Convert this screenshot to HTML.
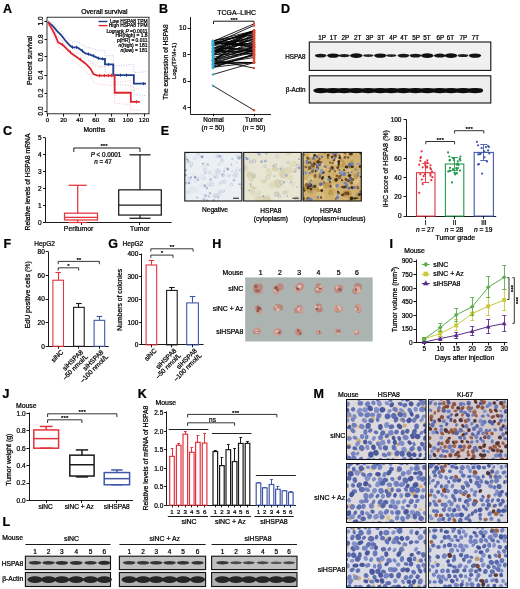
<!DOCTYPE html>
<html><head><meta charset="utf-8"><title>Figure</title>
<style>
html,body{margin:0;padding:0;background:#fff;width:520px;height:589px;overflow:hidden}
svg{display:block}
text{font-family:"Liberation Sans",Arial,sans-serif;stroke:#000;stroke-width:0.24px;stroke-linejoin:round}
</style></head><body>
<svg width="520" height="589" viewBox="0 0 520 589">
<rect width="520" height="589" fill="#fff"/>
<text x="3" y="12.5" font-size="12.5" font-weight="bold">A</text>
<text x="104.4" y="14.35" font-size="6.8" text-anchor="middle">Overall survival</text>
<rect x="47" y="17.2" width="102" height="96.6" fill="none" stroke="#000" stroke-width="0.8"/>
<line x1="44.5" y1="111.5" x2="47" y2="111.5" stroke="#000" stroke-width="0.9"/>
<text transform="translate(40.6,111) rotate(-90)" x="0" y="2.27" font-size="6.3" text-anchor="middle">0.0</text>
<line x1="44.5" y1="93.5" x2="47" y2="93.5" stroke="#000" stroke-width="0.9"/>
<text transform="translate(40.6,93) rotate(-90)" x="0" y="2.27" font-size="6.3" text-anchor="middle">0.2</text>
<line x1="44.5" y1="75.5" x2="47" y2="75.5" stroke="#000" stroke-width="0.9"/>
<text transform="translate(40.6,75) rotate(-90)" x="0" y="2.27" font-size="6.3" text-anchor="middle">0.4</text>
<line x1="44.5" y1="56.5" x2="47" y2="56.5" stroke="#000" stroke-width="0.9"/>
<text transform="translate(40.6,57) rotate(-90)" x="0" y="2.27" font-size="6.3" text-anchor="middle">0.6</text>
<line x1="44.5" y1="39.5" x2="47" y2="39.5" stroke="#000" stroke-width="0.9"/>
<text transform="translate(40.6,39) rotate(-90)" x="0" y="2.27" font-size="6.3" text-anchor="middle">0.8</text>
<line x1="44.5" y1="21.5" x2="47" y2="21.5" stroke="#000" stroke-width="0.9"/>
<text transform="translate(40.6,21) rotate(-90)" x="0" y="2.27" font-size="6.3" text-anchor="middle">1.0</text>
<line x1="47.5" y1="113.8" x2="47.5" y2="116.5" stroke="#000" stroke-width="0.9"/>
<text x="47.5" y="122.43" font-size="6.2" text-anchor="middle">0</text>
<line x1="63.5" y1="113.8" x2="63.5" y2="116.5" stroke="#000" stroke-width="0.9"/>
<text x="63.58" y="122.43" font-size="6.2" text-anchor="middle">20</text>
<line x1="79.5" y1="113.8" x2="79.5" y2="116.5" stroke="#000" stroke-width="0.9"/>
<text x="79.67" y="122.43" font-size="6.2" text-anchor="middle">40</text>
<line x1="95.5" y1="113.8" x2="95.5" y2="116.5" stroke="#000" stroke-width="0.9"/>
<text x="95.75" y="122.43" font-size="6.2" text-anchor="middle">60</text>
<line x1="111.5" y1="113.8" x2="111.5" y2="116.5" stroke="#000" stroke-width="0.9"/>
<text x="111.83" y="122.43" font-size="6.2" text-anchor="middle">80</text>
<line x1="127.5" y1="113.8" x2="127.5" y2="116.5" stroke="#000" stroke-width="0.9"/>
<text x="127.92" y="122.43" font-size="6.2" text-anchor="middle">100</text>
<line x1="144.5" y1="113.8" x2="144.5" y2="116.5" stroke="#000" stroke-width="0.9"/>
<text x="144" y="122.43" font-size="6.2" text-anchor="middle">120</text>
<text x="94.5" y="131.91" font-size="6.7" text-anchor="middle">Months</text>
<text transform="translate(29.2,60.5) rotate(-90)" x="0" y="2.48" font-size="6.9" text-anchor="middle">Percent survival</text>
<polyline points="48.03,20.6 53.08,22.5 57.12,27.19 61.16,30.86 65.19,35.55 69.23,39.83 72.26,41.98 77.31,41.52 81.35,44.19 85.39,46.86 89.43,47.5 94.47,49.07 98.51,50.72 103.56,50.87 104.98,50.75 104.98,56.2 113.26,55.45 113.26,66.16 133.85,64.3 133.85,72.78 145.97,71.69" fill="none" stroke="#8898d4" stroke-width="0.6" stroke-dasharray="0.9,1.6"/>
<polyline points="48.03,25.22 53.08,29.71 57.12,35.12 61.16,39.53 65.19,44.94 69.23,49.95 72.26,52.64 77.31,53.1 81.35,56.49 85.39,59.88 89.43,61.25 94.47,63.73 98.51,66.11 103.56,67.17 104.98,67.3 104.98,72.75 113.26,73.5 113.26,84.2 133.85,86.05 133.85,94.53 145.97,95.62" fill="none" stroke="#8898d4" stroke-width="0.6" stroke-dasharray="0.9,1.6"/>
<polyline points="48.03,20.6 52.07,25.55 55.1,31.28 58.13,38.02 63.17,40.51 67.21,44.11 71.25,47.71 77.31,51.09 85.39,56.28 90.44,60.78 93.47,65.91 97.5,67.09 114.67,65.23 114.67,82.4 130.82,80.65 130.82,89.74 139.91,88.76" fill="none" stroke="#f29090" stroke-width="0.6" stroke-dasharray="0.9,1.6"/>
<polyline points="48.03,25.22 52.07,32.72 55.1,39.11 58.13,46.5 63.17,50.08 67.21,54.55 71.25,59.03 77.31,63.72 85.39,70.65 90.44,76.24 93.47,82.02 97.5,84.07 114.67,85.93 114.67,103.09 130.82,104.84 130.82,110.3 139.91,110.3" fill="none" stroke="#f29090" stroke-width="0.6" stroke-dasharray="0.9,1.6"/>
<polyline points="48.03,22.07 53.08,26.11 57.12,31.16 61.16,35.19 65.19,40.24 69.23,44.89 72.26,47.31 77.31,47.31 81.35,50.34 85.39,53.37 89.43,54.38 94.47,56.4 98.51,58.42 103.56,59.02 104.98,59.02 104.98,64.47 113.26,64.47 113.26,75.18 133.85,75.18 133.85,83.66 145.97,83.66" fill="none" stroke="#1f3f8f" stroke-width="1.8"/>
<line x1="72.5" y1="45.5" x2="72.5" y2="48.7" stroke="#1f3f8f" stroke-width="0.9"/>
<line x1="76.5" y1="45.71" x2="76.5" y2="48.91" stroke="#1f3f8f" stroke-width="0.9"/>
<line x1="82.5" y1="49.23" x2="82.5" y2="52.43" stroke="#1f3f8f" stroke-width="0.9"/>
<line x1="88.5" y1="52.42" x2="88.5" y2="55.62" stroke="#1f3f8f" stroke-width="0.9"/>
<line x1="93.5" y1="54.21" x2="93.5" y2="57.41" stroke="#1f3f8f" stroke-width="0.9"/>
<line x1="98.5" y1="56.56" x2="98.5" y2="59.76" stroke="#1f3f8f" stroke-width="0.9"/>
<line x1="102.5" y1="57.24" x2="102.5" y2="60.44" stroke="#1f3f8f" stroke-width="0.9"/>
<line x1="108.5" y1="62.87" x2="108.5" y2="66.07" stroke="#1f3f8f" stroke-width="0.9"/>
<line x1="120.5" y1="73.58" x2="120.5" y2="76.78" stroke="#1f3f8f" stroke-width="0.9"/>
<line x1="126.5" y1="73.58" x2="126.5" y2="76.78" stroke="#1f3f8f" stroke-width="0.9"/>
<line x1="143.5" y1="82.06" x2="143.5" y2="85.26" stroke="#1f3f8f" stroke-width="0.9"/>
<polyline points="48.03,22.07 52.07,29.14 55.1,35.19 58.13,42.26 63.17,45.29 67.21,49.33 71.25,53.37 77.31,57.41 85.39,63.47 90.44,68.51 93.47,73.97 97.5,75.58 114.67,75.58 114.67,92.75 130.82,92.75 130.82,101.83 139.91,101.83" fill="none" stroke="#e0242f" stroke-width="1.8"/>
<line x1="62.5" y1="42.99" x2="62.5" y2="46.19" stroke="#e0242f" stroke-width="0.9"/>
<line x1="70.5" y1="50.52" x2="70.5" y2="53.72" stroke="#e0242f" stroke-width="0.9"/>
<line x1="80.5" y1="57.82" x2="80.5" y2="61.02" stroke="#e0242f" stroke-width="0.9"/>
<line x1="99.5" y1="73.98" x2="99.5" y2="77.18" stroke="#e0242f" stroke-width="0.9"/>
<line x1="104.5" y1="73.98" x2="104.5" y2="77.18" stroke="#e0242f" stroke-width="0.9"/>
<line x1="108.5" y1="73.98" x2="108.5" y2="77.18" stroke="#e0242f" stroke-width="0.9"/>
<line x1="111.5" y1="73.98" x2="111.5" y2="77.18" stroke="#e0242f" stroke-width="0.9"/>
<line x1="136.5" y1="100.23" x2="136.5" y2="103.43" stroke="#e0242f" stroke-width="0.9"/>
<line x1="98.5" y1="21.5" x2="107.5" y2="21.5" stroke="#1f3f8f" stroke-width="1.4"/>
<line x1="98.5" y1="25.6" x2="107.5" y2="25.6" stroke="#e0242f" stroke-width="1.4"/>
<text x="147.5" y="23.36" font-size="4.9" text-anchor="end">Low HSPA8 TPM</text>
<text x="147.5" y="27.46" font-size="4.9" text-anchor="end">High HSPA8 TPM</text>
<text x="147.5" y="32.56" font-size="4.9" text-anchor="end">Logrank <tspan font-style="italic">P</tspan> =0.0011</text>
<text x="147.5" y="37.36" font-size="4.9" text-anchor="end">HR(high) = 1.8</text>
<text x="147.5" y="42.26" font-size="4.9" text-anchor="end">p(HR) = 0.011</text>
<text x="147.5" y="47.26" font-size="4.9" text-anchor="end"><tspan font-style="italic">n</tspan>(high) = 181</text>
<text x="147.5" y="52.16" font-size="4.9" text-anchor="end"><tspan font-style="italic">n</tspan>(low) = 181</text>
<text x="159" y="12.5" font-size="12.5" font-weight="bold">B</text>
<text x="236.7" y="14.68" font-size="6.9" text-anchor="middle" stroke-width="0.3">TCGA–LIHC</text>
<polyline points="213.5,24 213.5,21.2 254,21.2 254,24" fill="none" stroke="#000" stroke-width="0.9"/>
<text x="234" y="21.73" font-size="6.2" text-anchor="middle" stroke-width="0.35">***</text>
<line x1="190.5" y1="17" x2="190.5" y2="113.8" stroke="#000" stroke-width="0.9"/>
<line x1="190.2" y1="114.5" x2="271" y2="114.5" stroke="#000" stroke-width="0.9"/>
<line x1="187.5" y1="107.5" x2="190.2" y2="107.5" stroke="#000" stroke-width="0.9"/>
<text x="186.3" y="109.94" font-size="6.5" text-anchor="end">4</text>
<line x1="187.5" y1="81.5" x2="190.2" y2="81.5" stroke="#000" stroke-width="0.9"/>
<text x="186.3" y="83.44" font-size="6.5" text-anchor="end">6</text>
<line x1="187.5" y1="54.5" x2="190.2" y2="54.5" stroke="#000" stroke-width="0.9"/>
<text x="186.3" y="56.94" font-size="6.5" text-anchor="end">8</text>
<line x1="187.5" y1="28.5" x2="190.2" y2="28.5" stroke="#000" stroke-width="0.9"/>
<text x="186.3" y="30.44" font-size="6.5" text-anchor="end">10</text>
<line x1="213.5" y1="113.8" x2="213.5" y2="116.3" stroke="#000" stroke-width="0.9"/>
<line x1="254.5" y1="113.8" x2="254.5" y2="116.3" stroke="#000" stroke-width="0.9"/>
<text x="213.5" y="121.97" font-size="6.3" text-anchor="middle">Normal</text>
<text x="254" y="121.97" font-size="6.3" text-anchor="middle">Tumor</text>
<text x="213" y="130.48" font-size="6.6" text-anchor="middle">(<tspan font-style="italic">n</tspan> = 50)</text>
<text x="254" y="130.48" font-size="6.6" text-anchor="middle">(<tspan font-style="italic">n</tspan> = 50)</text>
<text transform="translate(165.2,62) rotate(-90)" x="0" y="2.38" font-size="6.6" text-anchor="middle">The expression of HSPA8</text>
<text transform="translate(173.4,61) rotate(-90)" x="0" y="2.2" font-size="6.1" text-anchor="middle">Log<tspan font-size="4.3" dy="1.5">2</tspan><tspan dy="-1.5">(TPM+1)</tspan></text>
<line x1="213" y1="61.89" x2="254" y2="62.55" stroke="#000" stroke-width="0.85"/>
<line x1="213" y1="51.71" x2="254" y2="47.04" stroke="#000" stroke-width="0.85"/>
<line x1="213" y1="51.1" x2="254" y2="42.33" stroke="#000" stroke-width="0.85"/>
<line x1="213" y1="45.21" x2="254" y2="37.27" stroke="#000" stroke-width="0.85"/>
<line x1="213" y1="61.3" x2="254" y2="50.79" stroke="#000" stroke-width="0.85"/>
<line x1="213" y1="55.43" x2="254" y2="30.75" stroke="#000" stroke-width="0.85"/>
<line x1="213" y1="45.24" x2="254" y2="51.98" stroke="#000" stroke-width="0.85"/>
<line x1="213" y1="64.32" x2="254" y2="54.93" stroke="#000" stroke-width="0.85"/>
<line x1="213" y1="50.85" x2="254" y2="35.39" stroke="#000" stroke-width="0.85"/>
<line x1="213" y1="47.89" x2="254" y2="49.52" stroke="#000" stroke-width="0.85"/>
<line x1="213" y1="49.83" x2="254" y2="30.75" stroke="#000" stroke-width="0.85"/>
<line x1="213" y1="52.07" x2="254" y2="38.22" stroke="#000" stroke-width="0.85"/>
<line x1="213" y1="60.13" x2="254" y2="33.31" stroke="#000" stroke-width="0.85"/>
<line x1="213" y1="55.36" x2="254" y2="44.22" stroke="#000" stroke-width="0.85"/>
<line x1="213" y1="48.51" x2="254" y2="30.75" stroke="#000" stroke-width="0.85"/>
<line x1="213" y1="42.88" x2="254" y2="46.45" stroke="#000" stroke-width="0.85"/>
<line x1="213" y1="57.52" x2="254" y2="46.85" stroke="#000" stroke-width="0.85"/>
<line x1="213" y1="42.48" x2="254" y2="45.42" stroke="#000" stroke-width="0.85"/>
<line x1="213" y1="44.06" x2="254" y2="32.37" stroke="#000" stroke-width="0.85"/>
<line x1="213" y1="62.47" x2="254" y2="52.1" stroke="#000" stroke-width="0.85"/>
<line x1="213" y1="41.65" x2="254" y2="47.2" stroke="#000" stroke-width="0.85"/>
<line x1="213" y1="60.14" x2="254" y2="47.4" stroke="#000" stroke-width="0.85"/>
<line x1="213" y1="54.4" x2="254" y2="54.07" stroke="#000" stroke-width="0.85"/>
<line x1="213" y1="52.23" x2="254" y2="38.87" stroke="#000" stroke-width="0.85"/>
<line x1="213" y1="52.26" x2="254" y2="32.57" stroke="#000" stroke-width="0.85"/>
<line x1="213" y1="42.66" x2="254" y2="43.89" stroke="#000" stroke-width="0.85"/>
<line x1="213" y1="44.68" x2="254" y2="30.75" stroke="#000" stroke-width="0.85"/>
<line x1="213" y1="63.97" x2="254" y2="57.53" stroke="#000" stroke-width="0.85"/>
<line x1="213" y1="44.57" x2="254" y2="30.75" stroke="#000" stroke-width="0.85"/>
<line x1="213" y1="52.68" x2="254" y2="50.14" stroke="#000" stroke-width="0.85"/>
<line x1="213" y1="48.65" x2="254" y2="36.83" stroke="#000" stroke-width="0.85"/>
<line x1="213" y1="52.55" x2="254" y2="30.75" stroke="#000" stroke-width="0.85"/>
<line x1="213" y1="60.58" x2="254" y2="35.33" stroke="#000" stroke-width="0.85"/>
<line x1="213" y1="40.97" x2="254" y2="30.75" stroke="#000" stroke-width="0.85"/>
<line x1="213" y1="66.05" x2="254" y2="55.57" stroke="#000" stroke-width="0.85"/>
<line x1="213" y1="64.32" x2="254" y2="62.55" stroke="#000" stroke-width="0.85"/>
<line x1="213" y1="60.33" x2="254" y2="50.67" stroke="#000" stroke-width="0.85"/>
<line x1="213" y1="67.28" x2="254" y2="62.55" stroke="#000" stroke-width="0.85"/>
<line x1="213" y1="51.41" x2="254" y2="30.75" stroke="#000" stroke-width="0.85"/>
<line x1="213" y1="59.3" x2="254" y2="47.61" stroke="#000" stroke-width="0.85"/>
<line x1="213" y1="44" x2="254" y2="30.75" stroke="#000" stroke-width="0.85"/>
<line x1="213" y1="40.73" x2="254" y2="34.87" stroke="#000" stroke-width="0.85"/>
<line x1="213" y1="59.9" x2="254" y2="40.7" stroke="#000" stroke-width="0.85"/>
<line x1="213" y1="67.64" x2="254" y2="54.1" stroke="#000" stroke-width="0.85"/>
<line x1="213" y1="63.02" x2="254" y2="62.55" stroke="#000" stroke-width="0.85"/>
<line x1="213" y1="64.17" x2="254" y2="49.42" stroke="#000" stroke-width="0.85"/>
<line x1="213" y1="67.33" x2="254" y2="54.23" stroke="#000" stroke-width="0.85"/>
<line x1="213" y1="41.84" x2="254" y2="40.92" stroke="#000" stroke-width="0.85"/>
<line x1="213" y1="43.56" x2="254" y2="44.22" stroke="#000" stroke-width="0.85"/>
<line x1="213" y1="54.04" x2="254" y2="39.09" stroke="#000" stroke-width="0.85"/>
<line x1="213" y1="50.6" x2="254" y2="53.8" stroke="#000" stroke-width="0.85"/>
<line x1="213" y1="51.26" x2="254" y2="51.16" stroke="#000" stroke-width="0.85"/>
<line x1="213" y1="44" x2="254" y2="25.45" stroke="#000" stroke-width="0.85"/>
<line x1="213" y1="41.35" x2="254" y2="23.86" stroke="#000" stroke-width="0.85"/>
<line x1="213" y1="74.47" x2="254" y2="62.55" stroke="#000" stroke-width="0.85"/>
<line x1="213" y1="85.74" x2="254" y2="110.25" stroke="#000" stroke-width="0.85"/>
<line x1="213" y1="59.9" x2="254" y2="68.11" stroke="#000" stroke-width="0.85"/>
<circle cx="213" cy="61.89" r="1.2" fill="#3aaed0"/>
<circle cx="254" cy="62.55" r="1.2" fill="#e34a36"/>
<circle cx="213" cy="51.71" r="1.2" fill="#3aaed0"/>
<circle cx="254" cy="47.04" r="1.2" fill="#e34a36"/>
<circle cx="213" cy="51.1" r="1.2" fill="#3aaed0"/>
<circle cx="254" cy="42.33" r="1.2" fill="#e34a36"/>
<circle cx="213" cy="45.21" r="1.2" fill="#3aaed0"/>
<circle cx="254" cy="37.27" r="1.2" fill="#e34a36"/>
<circle cx="213" cy="61.3" r="1.2" fill="#3aaed0"/>
<circle cx="254" cy="50.79" r="1.2" fill="#e34a36"/>
<circle cx="213" cy="55.43" r="1.2" fill="#3aaed0"/>
<circle cx="254" cy="30.75" r="1.2" fill="#e34a36"/>
<circle cx="213" cy="45.24" r="1.2" fill="#3aaed0"/>
<circle cx="254" cy="51.98" r="1.2" fill="#e34a36"/>
<circle cx="213" cy="64.32" r="1.2" fill="#3aaed0"/>
<circle cx="254" cy="54.93" r="1.2" fill="#e34a36"/>
<circle cx="213" cy="50.85" r="1.2" fill="#3aaed0"/>
<circle cx="254" cy="35.39" r="1.2" fill="#e34a36"/>
<circle cx="213" cy="47.89" r="1.2" fill="#3aaed0"/>
<circle cx="254" cy="49.52" r="1.2" fill="#e34a36"/>
<circle cx="213" cy="49.83" r="1.2" fill="#3aaed0"/>
<circle cx="254" cy="30.75" r="1.2" fill="#e34a36"/>
<circle cx="213" cy="52.07" r="1.2" fill="#3aaed0"/>
<circle cx="254" cy="38.22" r="1.2" fill="#e34a36"/>
<circle cx="213" cy="60.13" r="1.2" fill="#3aaed0"/>
<circle cx="254" cy="33.31" r="1.2" fill="#e34a36"/>
<circle cx="213" cy="55.36" r="1.2" fill="#3aaed0"/>
<circle cx="254" cy="44.22" r="1.2" fill="#e34a36"/>
<circle cx="213" cy="48.51" r="1.2" fill="#3aaed0"/>
<circle cx="254" cy="30.75" r="1.2" fill="#e34a36"/>
<circle cx="213" cy="42.88" r="1.2" fill="#3aaed0"/>
<circle cx="254" cy="46.45" r="1.2" fill="#e34a36"/>
<circle cx="213" cy="57.52" r="1.2" fill="#3aaed0"/>
<circle cx="254" cy="46.85" r="1.2" fill="#e34a36"/>
<circle cx="213" cy="42.48" r="1.2" fill="#3aaed0"/>
<circle cx="254" cy="45.42" r="1.2" fill="#e34a36"/>
<circle cx="213" cy="44.06" r="1.2" fill="#3aaed0"/>
<circle cx="254" cy="32.37" r="1.2" fill="#e34a36"/>
<circle cx="213" cy="62.47" r="1.2" fill="#3aaed0"/>
<circle cx="254" cy="52.1" r="1.2" fill="#e34a36"/>
<circle cx="213" cy="41.65" r="1.2" fill="#3aaed0"/>
<circle cx="254" cy="47.2" r="1.2" fill="#e34a36"/>
<circle cx="213" cy="60.14" r="1.2" fill="#3aaed0"/>
<circle cx="254" cy="47.4" r="1.2" fill="#e34a36"/>
<circle cx="213" cy="54.4" r="1.2" fill="#3aaed0"/>
<circle cx="254" cy="54.07" r="1.2" fill="#e34a36"/>
<circle cx="213" cy="52.23" r="1.2" fill="#3aaed0"/>
<circle cx="254" cy="38.87" r="1.2" fill="#e34a36"/>
<circle cx="213" cy="52.26" r="1.2" fill="#3aaed0"/>
<circle cx="254" cy="32.57" r="1.2" fill="#e34a36"/>
<circle cx="213" cy="42.66" r="1.2" fill="#3aaed0"/>
<circle cx="254" cy="43.89" r="1.2" fill="#e34a36"/>
<circle cx="213" cy="44.68" r="1.2" fill="#3aaed0"/>
<circle cx="254" cy="30.75" r="1.2" fill="#e34a36"/>
<circle cx="213" cy="63.97" r="1.2" fill="#3aaed0"/>
<circle cx="254" cy="57.53" r="1.2" fill="#e34a36"/>
<circle cx="213" cy="44.57" r="1.2" fill="#3aaed0"/>
<circle cx="254" cy="30.75" r="1.2" fill="#e34a36"/>
<circle cx="213" cy="52.68" r="1.2" fill="#3aaed0"/>
<circle cx="254" cy="50.14" r="1.2" fill="#e34a36"/>
<circle cx="213" cy="48.65" r="1.2" fill="#3aaed0"/>
<circle cx="254" cy="36.83" r="1.2" fill="#e34a36"/>
<circle cx="213" cy="52.55" r="1.2" fill="#3aaed0"/>
<circle cx="254" cy="30.75" r="1.2" fill="#e34a36"/>
<circle cx="213" cy="60.58" r="1.2" fill="#3aaed0"/>
<circle cx="254" cy="35.33" r="1.2" fill="#e34a36"/>
<circle cx="213" cy="40.97" r="1.2" fill="#3aaed0"/>
<circle cx="254" cy="30.75" r="1.2" fill="#e34a36"/>
<circle cx="213" cy="66.05" r="1.2" fill="#3aaed0"/>
<circle cx="254" cy="55.57" r="1.2" fill="#e34a36"/>
<circle cx="213" cy="64.32" r="1.2" fill="#3aaed0"/>
<circle cx="254" cy="62.55" r="1.2" fill="#e34a36"/>
<circle cx="213" cy="60.33" r="1.2" fill="#3aaed0"/>
<circle cx="254" cy="50.67" r="1.2" fill="#e34a36"/>
<circle cx="213" cy="67.28" r="1.2" fill="#3aaed0"/>
<circle cx="254" cy="62.55" r="1.2" fill="#e34a36"/>
<circle cx="213" cy="51.41" r="1.2" fill="#3aaed0"/>
<circle cx="254" cy="30.75" r="1.2" fill="#e34a36"/>
<circle cx="213" cy="59.3" r="1.2" fill="#3aaed0"/>
<circle cx="254" cy="47.61" r="1.2" fill="#e34a36"/>
<circle cx="213" cy="44" r="1.2" fill="#3aaed0"/>
<circle cx="254" cy="30.75" r="1.2" fill="#e34a36"/>
<circle cx="213" cy="40.73" r="1.2" fill="#3aaed0"/>
<circle cx="254" cy="34.87" r="1.2" fill="#e34a36"/>
<circle cx="213" cy="59.9" r="1.2" fill="#3aaed0"/>
<circle cx="254" cy="40.7" r="1.2" fill="#e34a36"/>
<circle cx="213" cy="67.64" r="1.2" fill="#3aaed0"/>
<circle cx="254" cy="54.1" r="1.2" fill="#e34a36"/>
<circle cx="213" cy="63.02" r="1.2" fill="#3aaed0"/>
<circle cx="254" cy="62.55" r="1.2" fill="#e34a36"/>
<circle cx="213" cy="64.17" r="1.2" fill="#3aaed0"/>
<circle cx="254" cy="49.42" r="1.2" fill="#e34a36"/>
<circle cx="213" cy="67.33" r="1.2" fill="#3aaed0"/>
<circle cx="254" cy="54.23" r="1.2" fill="#e34a36"/>
<circle cx="213" cy="41.84" r="1.2" fill="#3aaed0"/>
<circle cx="254" cy="40.92" r="1.2" fill="#e34a36"/>
<circle cx="213" cy="43.56" r="1.2" fill="#3aaed0"/>
<circle cx="254" cy="44.22" r="1.2" fill="#e34a36"/>
<circle cx="213" cy="54.04" r="1.2" fill="#3aaed0"/>
<circle cx="254" cy="39.09" r="1.2" fill="#e34a36"/>
<circle cx="213" cy="50.6" r="1.2" fill="#3aaed0"/>
<circle cx="254" cy="53.8" r="1.2" fill="#e34a36"/>
<circle cx="213" cy="51.26" r="1.2" fill="#3aaed0"/>
<circle cx="254" cy="51.16" r="1.2" fill="#e34a36"/>
<circle cx="213" cy="44" r="1.2" fill="#3aaed0"/>
<circle cx="254" cy="25.45" r="1.2" fill="#e34a36"/>
<circle cx="213" cy="41.35" r="1.2" fill="#3aaed0"/>
<circle cx="254" cy="23.86" r="1.2" fill="#e34a36"/>
<circle cx="213" cy="74.47" r="1.2" fill="#3aaed0"/>
<circle cx="254" cy="62.55" r="1.2" fill="#e34a36"/>
<circle cx="213" cy="85.74" r="1.2" fill="#3aaed0"/>
<circle cx="254" cy="110.25" r="1.2" fill="#e34a36"/>
<circle cx="213" cy="59.9" r="1.2" fill="#3aaed0"/>
<circle cx="254" cy="68.11" r="1.2" fill="#e34a36"/>
<rect x="211.8" y="40.69" width="2.4" height="28.49" fill="#3aaed0"/>
<rect x="252.8" y="30.75" width="2.4" height="31.8" fill="#e34a36"/>
<text x="3" y="135.3" font-size="12.5" font-weight="bold">C</text>
<line x1="45.5" y1="137.9" x2="45.5" y2="222.5" stroke="#000" stroke-width="0.9"/>
<line x1="45.5" y1="222.5" x2="171.6" y2="222.5" stroke="#000" stroke-width="0.9"/>
<line x1="43" y1="222.5" x2="45.5" y2="222.5" stroke="#000" stroke-width="0.9"/>
<text x="41.5" y="224.84" font-size="6.5" text-anchor="end">0</text>
<line x1="43" y1="205.5" x2="45.5" y2="205.5" stroke="#000" stroke-width="0.9"/>
<text x="41.5" y="207.92" font-size="6.5" text-anchor="end">1</text>
<line x1="43" y1="188.5" x2="45.5" y2="188.5" stroke="#000" stroke-width="0.9"/>
<text x="41.5" y="191" font-size="6.5" text-anchor="end">2</text>
<line x1="43" y1="171.5" x2="45.5" y2="171.5" stroke="#000" stroke-width="0.9"/>
<text x="41.5" y="174.08" font-size="6.5" text-anchor="end">3</text>
<line x1="43" y1="154.5" x2="45.5" y2="154.5" stroke="#000" stroke-width="0.9"/>
<text x="41.5" y="157.16" font-size="6.5" text-anchor="end">4</text>
<line x1="43" y1="137.5" x2="45.5" y2="137.5" stroke="#000" stroke-width="0.9"/>
<text x="41.5" y="140.24" font-size="6.5" text-anchor="end">5</text>
<line x1="81.5" y1="222.5" x2="81.5" y2="225" stroke="#000" stroke-width="0.9"/>
<line x1="139.5" y1="222.5" x2="139.5" y2="225" stroke="#000" stroke-width="0.9"/>
<text x="78.6" y="231.45" font-size="6.8" text-anchor="middle">Peritumor</text>
<text x="139.8" y="231.45" font-size="6.8" text-anchor="middle">Tumor</text>
<text transform="translate(27.1,182) rotate(-90)" x="0" y="2.45" font-size="6.8" text-anchor="middle">Relative levels of HSPA8 mRNA</text>
<rect x="64.5" y="213.19" width="33" height="6.77" fill="none" stroke="#e3343f" stroke-width="1.25"/>
<line x1="64.5" y1="217.42" x2="97.5" y2="217.42" stroke="#e3343f" stroke-width="1.25"/>
<line x1="77.7" y1="213.19" x2="77.7" y2="185.28" stroke="#e3343f" stroke-width="1.25"/>
<line x1="77.7" y1="219.96" x2="77.7" y2="222.5" stroke="#e3343f" stroke-width="1.25"/>
<line x1="68.6" y1="185.28" x2="86.8" y2="185.28" stroke="#e3343f" stroke-width="1.25"/>
<line x1="68.6" y1="222.5" x2="86.8" y2="222.5" stroke="#e3343f" stroke-width="1.25"/>
<rect x="118.7" y="189.84" width="42.6" height="25.21" fill="none" stroke="#1a1a1a" stroke-width="1.25"/>
<line x1="118.7" y1="205.24" x2="161.3" y2="205.24" stroke="#1a1a1a" stroke-width="1.25"/>
<line x1="140" y1="189.84" x2="140" y2="154.82" stroke="#1a1a1a" stroke-width="1.25"/>
<line x1="140" y1="215.06" x2="140" y2="218.27" stroke="#1a1a1a" stroke-width="1.25"/>
<line x1="129.5" y1="154.82" x2="150.5" y2="154.82" stroke="#1a1a1a" stroke-width="1.25"/>
<line x1="129.5" y1="218.27" x2="150.5" y2="218.27" stroke="#1a1a1a" stroke-width="1.25"/>
<polyline points="73.8,152 73.8,148 140,148 140,152" fill="none" stroke="#000" stroke-width="0.9"/>
<text x="104" y="147.63" font-size="6.2" text-anchor="middle" stroke-width="0.35">***</text>
<text x="106" y="156.57" font-size="6.3" text-anchor="middle"><tspan font-style="italic">P</tspan> &lt; 0.0001</text>
<text x="103" y="164.07" font-size="6.3" text-anchor="middle"><tspan font-style="italic">n</tspan> = 47</text>
<text x="160.8" y="135.3" font-size="12.5" font-weight="bold">E</text>
<filter id="eb" x="0" y="0" width="100%" height="100%"><feGaussianBlur stdDeviation="0.35"/></filter>
<clipPath id="e1"><rect x="184.8" y="152.4" width="57.1" height="48.6"/></clipPath>
<g clip-path="url(#e1)"><rect x="184.8" y="152.4" width="57.1" height="48.6" fill="#eceff4"/><g filter="url(#eb)"><ellipse cx="217.4" cy="173.2" rx="2.7" ry="1.9" transform="rotate(125 217.4 173.2)" fill="#e4e8ef" opacity="1.0"/><ellipse cx="222.0" cy="160.2" rx="2.5" ry="1.9" transform="rotate(63 222.0 160.2)" fill="#d6dde9" opacity="1.0"/><ellipse cx="241.6" cy="154.6" rx="3.2" ry="2.8" transform="rotate(97 241.6 154.6)" fill="#e4e8ef" opacity="1.0"/><ellipse cx="201.0" cy="185.2" rx="2.4" ry="2.1" transform="rotate(169 201.0 185.2)" fill="#e4e8ef" opacity="1.0"/><ellipse cx="192.4" cy="189.7" rx="3.5" ry="3.4" transform="rotate(157 192.4 189.7)" fill="#e4e8ef" opacity="1.0"/><ellipse cx="187.3" cy="152.6" rx="1.8" ry="1.7" transform="rotate(77 187.3 152.6)" fill="#d6dde9" opacity="1.0"/><ellipse cx="205.7" cy="196.1" rx="2.1" ry="1.8" transform="rotate(111 205.7 196.1)" fill="#e4e8ef" opacity="1.0"/><ellipse cx="188.5" cy="180.8" rx="3.2" ry="2.2" transform="rotate(57 188.5 180.8)" fill="#e4e8ef" opacity="1.0"/><ellipse cx="198.4" cy="153.9" rx="2.1" ry="1.8" transform="rotate(18 198.4 153.9)" fill="#d6dde9" opacity="1.0"/><ellipse cx="237.5" cy="156.3" rx="2.3" ry="2.2" transform="rotate(153 237.5 156.3)" fill="#dde3ec" opacity="1.0"/><ellipse cx="191.2" cy="190.1" rx="1.7" ry="1.2" transform="rotate(48 191.2 190.1)" fill="#e4e8ef" opacity="1.0"/><ellipse cx="209.5" cy="172.5" rx="2.0" ry="1.5" transform="rotate(158 209.5 172.5)" fill="#d6dde9" opacity="1.0"/><ellipse cx="195.0" cy="158.2" rx="2.4" ry="1.7" transform="rotate(166 195.0 158.2)" fill="#dde3ec" opacity="1.0"/><ellipse cx="229.1" cy="175.7" rx="2.2" ry="1.8" transform="rotate(1 229.1 175.7)" fill="#d6dde9" opacity="1.0"/><ellipse cx="225.4" cy="168.5" rx="2.1" ry="1.5" transform="rotate(114 225.4 168.5)" fill="#e4e8ef" opacity="1.0"/><ellipse cx="218.0" cy="171.4" rx="3.2" ry="2.9" transform="rotate(61 218.0 171.4)" fill="#d6dde9" opacity="1.0"/><ellipse cx="214.7" cy="196.7" rx="2.5" ry="2.2" transform="rotate(16 214.7 196.7)" fill="#dde3ec" opacity="1.0"/><ellipse cx="212.7" cy="174.8" rx="2.3" ry="1.8" transform="rotate(149 212.7 174.8)" fill="#e4e8ef" opacity="1.0"/><ellipse cx="215.5" cy="176.2" rx="1.8" ry="1.5" transform="rotate(106 215.5 176.2)" fill="#dde3ec" opacity="1.0"/><ellipse cx="234.5" cy="173.7" rx="1.6" ry="1.3" transform="rotate(38 234.5 173.7)" fill="#dde3ec" opacity="1.0"/><ellipse cx="219.5" cy="192.9" rx="3.1" ry="2.2" transform="rotate(111 219.5 192.9)" fill="#d6dde9" opacity="1.0"/><ellipse cx="237.4" cy="169.1" rx="2.0" ry="1.9" transform="rotate(117 237.4 169.1)" fill="#e4e8ef" opacity="1.0"/><ellipse cx="203.5" cy="177.7" rx="2.5" ry="2.3" transform="rotate(82 203.5 177.7)" fill="#d6dde9" opacity="1.0"/><ellipse cx="186.7" cy="161.9" rx="3.3" ry="2.8" transform="rotate(160 186.7 161.9)" fill="#e4e8ef" opacity="1.0"/><ellipse cx="186.2" cy="158.1" rx="2.1" ry="2.0" transform="rotate(63 186.2 158.1)" fill="#d6dde9" opacity="1.0"/><ellipse cx="201.3" cy="156.7" rx="2.7" ry="2.3" transform="rotate(27 201.3 156.7)" fill="#e4e8ef" opacity="1.0"/><ellipse cx="194.1" cy="175.6" rx="2.2" ry="1.8" transform="rotate(49 194.1 175.6)" fill="#e4e8ef" opacity="1.0"/><ellipse cx="195.2" cy="181.1" rx="2.4" ry="2.3" transform="rotate(175 195.2 181.1)" fill="#e4e8ef" opacity="1.0"/><ellipse cx="235.4" cy="174.9" rx="3.0" ry="2.7" transform="rotate(133 235.4 174.9)" fill="#d6dde9" opacity="1.0"/><ellipse cx="208.9" cy="184.7" rx="2.6" ry="1.9" transform="rotate(93 208.9 184.7)" fill="#dde3ec" opacity="1.0"/><ellipse cx="220.6" cy="182.9" rx="1.9" ry="1.7" transform="rotate(97 220.6 182.9)" fill="#d6dde9" opacity="1.0"/><ellipse cx="196.2" cy="189.9" rx="3.1" ry="2.9" transform="rotate(89 196.2 189.9)" fill="#e4e8ef" opacity="1.0"/><ellipse cx="205.3" cy="173.0" rx="1.9" ry="1.7" transform="rotate(119 205.3 173.0)" fill="#d6dde9" opacity="1.0"/><ellipse cx="201.6" cy="176.7" rx="3.3" ry="2.6" transform="rotate(163 201.6 176.7)" fill="#e4e8ef" opacity="1.0"/><ellipse cx="204.7" cy="165.9" rx="3.3" ry="3.1" transform="rotate(150 204.7 165.9)" fill="#e4e8ef" opacity="1.0"/><ellipse cx="189.6" cy="178.6" rx="2.2" ry="2.0" transform="rotate(43 189.6 178.6)" fill="#d6dde9" opacity="1.0"/><ellipse cx="241.4" cy="187.4" rx="1.6" ry="1.5" transform="rotate(78 241.4 187.4)" fill="#dde3ec" opacity="1.0"/><ellipse cx="218.5" cy="184.1" rx="1.6" ry="1.3" transform="rotate(95 218.5 184.1)" fill="#e4e8ef" opacity="1.0"/><ellipse cx="219.3" cy="164.1" rx="2.1" ry="1.8" transform="rotate(13 219.3 164.1)" fill="#dde3ec" opacity="1.0"/><ellipse cx="217.3" cy="156.0" rx="2.3" ry="2.0" transform="rotate(112 217.3 156.0)" fill="#d6dde9" opacity="1.0"/><ellipse cx="210.6" cy="179.6" rx="1.5" ry="1.3" transform="rotate(130 210.6 179.6)" fill="#b8c3d8" opacity="1.0"/><ellipse cx="195.3" cy="177.3" rx="1.3" ry="1.2" transform="rotate(24 195.3 177.3)" fill="#8797bf" opacity="1.0"/><ellipse cx="202.1" cy="156.8" rx="1.4" ry="1.3" transform="rotate(10 202.1 156.8)" fill="#8797bf" opacity="1.0"/><ellipse cx="239.8" cy="184.2" rx="1.3" ry="0.9" transform="rotate(3 239.8 184.2)" fill="#a9b6d0" opacity="1.0"/><ellipse cx="188.2" cy="161.6" rx="1.0" ry="0.7" transform="rotate(118 188.2 161.6)" fill="#9aa8c8" opacity="1.0"/><ellipse cx="209.9" cy="193.3" rx="1.2" ry="1.1" transform="rotate(127 209.9 193.3)" fill="#a9b6d0" opacity="1.0"/><ellipse cx="222.6" cy="174.6" rx="1.0" ry="1.0" transform="rotate(21 222.6 174.6)" fill="#9aa8c8" opacity="1.0"/><ellipse cx="202.8" cy="163.6" rx="1.0" ry="0.7" transform="rotate(27 202.8 163.6)" fill="#8797bf" opacity="1.0"/><ellipse cx="190.9" cy="166.5" rx="0.9" ry="0.6" transform="rotate(175 190.9 166.5)" fill="#a9b6d0" opacity="1.0"/><ellipse cx="197.0" cy="197.5" rx="0.8" ry="0.7" transform="rotate(101 197.0 197.5)" fill="#8797bf" opacity="1.0"/><ellipse cx="189.0" cy="183.0" rx="1.4" ry="1.1" transform="rotate(22 189.0 183.0)" fill="#9aa8c8" opacity="1.0"/><ellipse cx="203.8" cy="199.3" rx="1.4" ry="1.0" transform="rotate(63 203.8 199.3)" fill="#a9b6d0" opacity="1.0"/><ellipse cx="185.4" cy="175.0" rx="1.2" ry="1.1" transform="rotate(48 185.4 175.0)" fill="#8797bf" opacity="1.0"/><ellipse cx="213.8" cy="200.3" rx="1.4" ry="1.1" transform="rotate(98 213.8 200.3)" fill="#a9b6d0" opacity="1.0"/><ellipse cx="207.3" cy="200.5" rx="0.8" ry="0.8" transform="rotate(151 207.3 200.5)" fill="#9aa8c8" opacity="1.0"/><ellipse cx="241.7" cy="153.4" rx="0.9" ry="0.9" transform="rotate(154 241.7 153.4)" fill="#a9b6d0" opacity="1.0"/><ellipse cx="187.2" cy="159.5" rx="1.2" ry="0.8" transform="rotate(156 187.2 159.5)" fill="#9aa8c8" opacity="1.0"/><ellipse cx="232.1" cy="171.2" rx="0.9" ry="0.6" transform="rotate(162 232.1 171.2)" fill="#b8c3d8" opacity="1.0"/><ellipse cx="185.7" cy="170.3" rx="1.3" ry="0.9" transform="rotate(150 185.7 170.3)" fill="#8797bf" opacity="1.0"/><ellipse cx="232.2" cy="159.0" rx="1.1" ry="1.0" transform="rotate(79 232.2 159.0)" fill="#b8c3d8" opacity="1.0"/><ellipse cx="231.4" cy="164.5" rx="1.0" ry="0.9" transform="rotate(141 231.4 164.5)" fill="#b8c3d8" opacity="1.0"/><ellipse cx="224.0" cy="171.3" rx="1.2" ry="0.8" transform="rotate(12 224.0 171.3)" fill="#a9b6d0" opacity="1.0"/><ellipse cx="191.0" cy="177.3" rx="1.0" ry="0.9" transform="rotate(100 191.0 177.3)" fill="#9aa8c8" opacity="1.0"/><ellipse cx="208.8" cy="196.4" rx="1.2" ry="1.0" transform="rotate(17 208.8 196.4)" fill="#b8c3d8" opacity="1.0"/><ellipse cx="197.8" cy="179.6" rx="1.5" ry="1.3" transform="rotate(71 197.8 179.6)" fill="#b8c3d8" opacity="1.0"/><ellipse cx="237.1" cy="162.3" rx="0.8" ry="0.6" transform="rotate(114 237.1 162.3)" fill="#b8c3d8" opacity="1.0"/><ellipse cx="188.2" cy="161.0" rx="1.1" ry="0.9" transform="rotate(33 188.2 161.0)" fill="#a9b6d0" opacity="1.0"/><ellipse cx="205.4" cy="195.7" rx="1.6" ry="1.4" transform="rotate(176 205.4 195.7)" fill="#b8c3d8" opacity="1.0"/><ellipse cx="218.4" cy="197.3" rx="1.2" ry="0.9" transform="rotate(79 218.4 197.3)" fill="#a9b6d0" opacity="1.0"/><ellipse cx="186.0" cy="183.3" rx="1.2" ry="1.1" transform="rotate(81 186.0 183.3)" fill="#b8c3d8" opacity="1.0"/><ellipse cx="241.8" cy="156.1" rx="1.2" ry="1.1" transform="rotate(33 241.8 156.1)" fill="#9aa8c8" opacity="1.0"/><ellipse cx="204.9" cy="185.7" rx="1.5" ry="1.5" transform="rotate(106 204.9 185.7)" fill="#a9b6d0" opacity="1.0"/><ellipse cx="234.0" cy="180.2" rx="1.3" ry="1.0" transform="rotate(149 234.0 180.2)" fill="#a9b6d0" opacity="1.0"/><ellipse cx="219.5" cy="156.3" rx="1.3" ry="1.3" transform="rotate(106 219.5 156.3)" fill="#9aa8c8" opacity="1.0"/><ellipse cx="206.9" cy="188.1" rx="1.3" ry="1.0" transform="rotate(138 206.9 188.1)" fill="#a9b6d0" opacity="1.0"/><ellipse cx="214.4" cy="177.4" rx="1.0" ry="0.7" transform="rotate(5 214.4 177.4)" fill="#b8c3d8" opacity="1.0"/><ellipse cx="239.4" cy="157.9" rx="1.4" ry="1.3" transform="rotate(124 239.4 157.9)" fill="#9aa8c8" opacity="1.0"/><ellipse cx="235.9" cy="170.3" rx="0.9" ry="0.8" transform="rotate(132 235.9 170.3)" fill="#b8c3d8" opacity="1.0"/><ellipse cx="227.8" cy="169.0" rx="1.5" ry="1.3" transform="rotate(61 227.8 169.0)" fill="#9aa8c8" opacity="1.0"/><ellipse cx="207.9" cy="164.6" rx="1.3" ry="1.2" transform="rotate(51 207.9 164.6)" fill="#b8c3d8" opacity="1.0"/><circle cx="211.9" cy="184.4" r="1.7" fill="none" stroke="#a3b0cc" stroke-width="0.5"/><circle cx="206.6" cy="200.8" r="1.5" fill="none" stroke="#b0bbd2" stroke-width="0.5"/><circle cx="224.2" cy="181.6" r="1.6" fill="none" stroke="#a3b0cc" stroke-width="0.5"/><circle cx="240.5" cy="170.3" r="1.4" fill="none" stroke="#a3b0cc" stroke-width="0.5"/><circle cx="188.2" cy="192.2" r="1.3" fill="none" stroke="#b0bbd2" stroke-width="0.5"/><circle cx="223.6" cy="191.2" r="1.3" fill="none" stroke="#a3b0cc" stroke-width="0.5"/><circle cx="231.5" cy="184.6" r="1.4" fill="none" stroke="#b0bbd2" stroke-width="0.5"/><circle cx="238.8" cy="157.9" r="1.5" fill="none" stroke="#a3b0cc" stroke-width="0.5"/><circle cx="215.6" cy="195.3" r="1.6" fill="none" stroke="#a3b0cc" stroke-width="0.5"/><circle cx="216.4" cy="177.1" r="1.3" fill="none" stroke="#b0bbd2" stroke-width="0.5"/><circle cx="222.9" cy="175.2" r="1.6" fill="none" stroke="#a3b0cc" stroke-width="0.5"/><circle cx="221.3" cy="156.4" r="1.3" fill="none" stroke="#b0bbd2" stroke-width="0.5"/><circle cx="205.1" cy="170.0" r="1.7" fill="none" stroke="#b0bbd2" stroke-width="0.5"/><circle cx="191.3" cy="163.8" r="1.5" fill="none" stroke="#a3b0cc" stroke-width="0.5"/></g><rect x="233" y="197.6" width="6" height="1.4" fill="#555"/></g>
<rect x="184.8" y="152.4" width="57.1" height="48.6" fill="none" stroke="#111" stroke-width="1.1"/>
<clipPath id="e2"><rect x="243.7" y="152.4" width="57.6" height="48.6"/></clipPath>
<g clip-path="url(#e2)"><rect x="243.7" y="152.4" width="57.6" height="48.6" fill="#e8e5d2"/><g filter="url(#eb)"><ellipse cx="253.2" cy="185.9" rx="3.9" ry="3.2" transform="rotate(55 253.2 185.9)" fill="#d8d2b0" opacity="1.0"/><ellipse cx="290.2" cy="177.3" rx="3.5" ry="2.6" transform="rotate(0 290.2 177.3)" fill="#e0dcc0" opacity="1.0"/><ellipse cx="265.1" cy="180.8" rx="2.2" ry="2.0" transform="rotate(59 265.1 180.8)" fill="#dcd7b8" opacity="1.0"/><ellipse cx="283.7" cy="173.6" rx="5.0" ry="4.6" transform="rotate(104 283.7 173.6)" fill="#d8d2b0" opacity="1.0"/><ellipse cx="245.7" cy="168.4" rx="3.5" ry="2.4" transform="rotate(94 245.7 168.4)" fill="#e0dcc0" opacity="1.0"/><ellipse cx="252.6" cy="192.1" rx="2.4" ry="2.3" transform="rotate(116 252.6 192.1)" fill="#dcd7b8" opacity="1.0"/><ellipse cx="275.5" cy="169.1" rx="3.5" ry="2.5" transform="rotate(9 275.5 169.1)" fill="#d8d2b0" opacity="1.0"/><ellipse cx="293.6" cy="163.8" rx="4.3" ry="3.1" transform="rotate(168 293.6 163.8)" fill="#e0dcc0" opacity="1.0"/><ellipse cx="250.8" cy="175.5" rx="4.5" ry="3.2" transform="rotate(37 250.8 175.5)" fill="#d8d2b0" opacity="1.0"/><ellipse cx="260.5" cy="198.8" rx="3.5" ry="2.7" transform="rotate(124 260.5 198.8)" fill="#d8d2b0" opacity="1.0"/><ellipse cx="259.0" cy="192.9" rx="2.5" ry="2.2" transform="rotate(126 259.0 192.9)" fill="#e0dcc0" opacity="1.0"/><ellipse cx="272.0" cy="179.2" rx="4.2" ry="3.1" transform="rotate(155 272.0 179.2)" fill="#e9e6d2" opacity="1.0"/><ellipse cx="275.8" cy="182.7" rx="2.5" ry="1.8" transform="rotate(89 275.8 182.7)" fill="#e9e6d2" opacity="1.0"/><ellipse cx="263.7" cy="181.4" rx="2.9" ry="2.0" transform="rotate(16 263.7 181.4)" fill="#dcd7b8" opacity="1.0"/><ellipse cx="288.5" cy="170.6" rx="4.1" ry="3.6" transform="rotate(168 288.5 170.6)" fill="#dcd7b8" opacity="1.0"/><ellipse cx="267.1" cy="200.5" rx="4.9" ry="4.2" transform="rotate(88 267.1 200.5)" fill="#d8d2b0" opacity="1.0"/><ellipse cx="272.9" cy="184.8" rx="4.8" ry="3.5" transform="rotate(143 272.9 184.8)" fill="#e0dcc0" opacity="1.0"/><ellipse cx="269.0" cy="172.2" rx="4.2" ry="2.8" transform="rotate(73 269.0 172.2)" fill="#e0dcc0" opacity="1.0"/><ellipse cx="292.9" cy="184.4" rx="2.1" ry="1.6" transform="rotate(100 292.9 184.4)" fill="#e0dcc0" opacity="1.0"/><ellipse cx="293.8" cy="183.8" rx="2.4" ry="1.7" transform="rotate(122 293.8 183.8)" fill="#e0dcc0" opacity="1.0"/><ellipse cx="258.2" cy="199.0" rx="3.6" ry="3.2" transform="rotate(7 258.2 199.0)" fill="#dcd7b8" opacity="1.0"/><ellipse cx="295.5" cy="170.2" rx="2.5" ry="1.9" transform="rotate(109 295.5 170.2)" fill="#d8d2b0" opacity="1.0"/><ellipse cx="277.2" cy="193.7" rx="2.9" ry="2.4" transform="rotate(70 277.2 193.7)" fill="#dcd7b8" opacity="1.0"/><ellipse cx="288.0" cy="152.9" rx="4.1" ry="4.0" transform="rotate(6 288.0 152.9)" fill="#e9e6d2" opacity="1.0"/><ellipse cx="277.9" cy="183.7" rx="4.6" ry="3.9" transform="rotate(65 277.9 183.7)" fill="#d8d2b0" opacity="1.0"/><ellipse cx="287.0" cy="191.9" rx="2.4" ry="1.7" transform="rotate(101 287.0 191.9)" fill="#e0dcc0" opacity="1.0"/><ellipse cx="254.5" cy="183.6" rx="4.4" ry="2.9" transform="rotate(30 254.5 183.6)" fill="#e9e6d2" opacity="1.0"/><ellipse cx="251.0" cy="178.6" rx="3.0" ry="2.4" transform="rotate(56 251.0 178.6)" fill="#dcd7b8" opacity="1.0"/><ellipse cx="254.2" cy="194.1" rx="2.6" ry="2.4" transform="rotate(11 254.2 194.1)" fill="#e0dcc0" opacity="1.0"/><ellipse cx="289.2" cy="152.8" rx="3.4" ry="2.3" transform="rotate(145 289.2 152.8)" fill="#dcd7b8" opacity="1.0"/><ellipse cx="298.9" cy="159.2" rx="0.8" ry="0.8" transform="rotate(47 298.9 159.2)" fill="#8e9fc4" opacity="1.0"/><ellipse cx="250.6" cy="184.1" rx="1.1" ry="1.0" transform="rotate(59 250.6 184.1)" fill="#b0bcd6" opacity="1.0"/><ellipse cx="299.0" cy="167.9" rx="1.3" ry="1.3" transform="rotate(175 299.0 167.9)" fill="#8e9fc4" opacity="1.0"/><ellipse cx="296.9" cy="186.8" rx="0.8" ry="0.8" transform="rotate(150 296.9 186.8)" fill="#b0bcd6" opacity="1.0"/><ellipse cx="261.6" cy="161.6" rx="1.5" ry="1.3" transform="rotate(144 261.6 161.6)" fill="#9fb0cf" opacity="1.0"/><ellipse cx="283.9" cy="182.2" rx="1.0" ry="1.0" transform="rotate(79 283.9 182.2)" fill="#8e9fc4" opacity="1.0"/><ellipse cx="273.4" cy="166.0" rx="1.0" ry="0.9" transform="rotate(110 273.4 166.0)" fill="#9fb0cf" opacity="1.0"/><ellipse cx="263.4" cy="196.2" rx="1.1" ry="0.8" transform="rotate(72 263.4 196.2)" fill="#8e9fc4" opacity="1.0"/><ellipse cx="294.5" cy="171.7" rx="1.5" ry="1.1" transform="rotate(144 294.5 171.7)" fill="#b0bcd6" opacity="1.0"/><ellipse cx="266.6" cy="153.6" rx="1.3" ry="1.1" transform="rotate(134 266.6 153.6)" fill="#b0bcd6" opacity="1.0"/><ellipse cx="287.3" cy="196.1" rx="1.1" ry="0.8" transform="rotate(113 287.3 196.1)" fill="#b0bcd6" opacity="1.0"/><ellipse cx="249.4" cy="190.4" rx="0.8" ry="0.8" transform="rotate(50 249.4 190.4)" fill="#8e9fc4" opacity="1.0"/><ellipse cx="257.5" cy="152.7" rx="1.2" ry="0.8" transform="rotate(7 257.5 152.7)" fill="#8e9fc4" opacity="1.0"/><ellipse cx="265.4" cy="161.1" rx="1.5" ry="1.3" transform="rotate(113 265.4 161.1)" fill="#9fb0cf" opacity="1.0"/><ellipse cx="247.3" cy="158.9" rx="1.4" ry="1.3" transform="rotate(167 247.3 158.9)" fill="#8e9fc4" opacity="1.0"/><ellipse cx="249.5" cy="161.9" rx="0.9" ry="0.6" transform="rotate(150 249.5 161.9)" fill="#b0bcd6" opacity="1.0"/><ellipse cx="246.2" cy="158.2" rx="1.4" ry="1.0" transform="rotate(72 246.2 158.2)" fill="#8e9fc4" opacity="1.0"/><ellipse cx="286.5" cy="175.4" rx="1.4" ry="1.2" transform="rotate(90 286.5 175.4)" fill="#9fb0cf" opacity="1.0"/><ellipse cx="290.9" cy="182.0" rx="1.6" ry="1.0" transform="rotate(128 290.9 182.0)" fill="#b0bcd6" opacity="1.0"/><ellipse cx="280.3" cy="169.0" rx="0.9" ry="0.8" transform="rotate(111 280.3 169.0)" fill="#8e9fc4" opacity="1.0"/><ellipse cx="259.2" cy="154.4" rx="1.6" ry="1.2" transform="rotate(30 259.2 154.4)" fill="#9fb0cf" opacity="1.0"/><ellipse cx="274.5" cy="176.1" rx="0.9" ry="0.6" transform="rotate(24 274.5 176.1)" fill="#8e9fc4" opacity="1.0"/><circle cx="297.0" cy="198.5" r="1.9" fill="none" stroke="#98a4bb" stroke-width="0.5"/><circle cx="244.7" cy="167.3" r="1.5" fill="none" stroke="#a8b0c0" stroke-width="0.5"/><circle cx="251.2" cy="161.7" r="1.6" fill="none" stroke="#98a4bb" stroke-width="0.5"/><circle cx="279.4" cy="196.2" r="1.3" fill="none" stroke="#a8b0c0" stroke-width="0.5"/><circle cx="268.0" cy="177.3" r="1.8" fill="none" stroke="#a8b0c0" stroke-width="0.5"/><circle cx="288.1" cy="162.4" r="1.2" fill="none" stroke="#a8b0c0" stroke-width="0.5"/><circle cx="281.6" cy="182.6" r="2.0" fill="none" stroke="#a8b0c0" stroke-width="0.5"/><circle cx="276.3" cy="194.2" r="2.0" fill="none" stroke="#a8b0c0" stroke-width="0.5"/><circle cx="281.7" cy="167.7" r="1.3" fill="none" stroke="#a8b0c0" stroke-width="0.5"/><circle cx="253.9" cy="175.9" r="1.8" fill="none" stroke="#98a4bb" stroke-width="0.5"/><circle cx="254.2" cy="161.1" r="1.5" fill="none" stroke="#98a4bb" stroke-width="0.5"/><circle cx="277.2" cy="156.4" r="1.5" fill="none" stroke="#a8b0c0" stroke-width="0.5"/><circle cx="297.8" cy="166.0" r="1.7" fill="none" stroke="#98a4bb" stroke-width="0.5"/><circle cx="265.0" cy="166.4" r="1.4" fill="none" stroke="#a8b0c0" stroke-width="0.5"/><circle cx="275.3" cy="165.0" r="1.3" fill="none" stroke="#98a4bb" stroke-width="0.5"/><circle cx="284.4" cy="192.7" r="1.4" fill="none" stroke="#98a4bb" stroke-width="0.5"/></g><rect x="292.5" y="197.6" width="6" height="1.4" fill="#555"/></g>
<rect x="243.7" y="152.4" width="57.6" height="48.6" fill="none" stroke="#111" stroke-width="1.1"/>
<clipPath id="e3"><rect x="303" y="152.4" width="58.3" height="48.6"/></clipPath>
<g clip-path="url(#e3)"><rect x="303" y="152.4" width="58.3" height="48.6" fill="#d0b272"/><g filter="url(#eb)"><ellipse cx="303.7" cy="157.9" rx="3.2" ry="2.8" transform="rotate(35 303.7 157.9)" fill="#dcc486" opacity="1.0"/><ellipse cx="334.2" cy="187.0" rx="2.4" ry="2.4" transform="rotate(8 334.2 187.0)" fill="#dcc486" opacity="1.0"/><ellipse cx="311.0" cy="178.4" rx="3.3" ry="2.7" transform="rotate(151 311.0 178.4)" fill="#dcc486" opacity="1.0"/><ellipse cx="309.9" cy="189.8" rx="4.7" ry="3.6" transform="rotate(52 309.9 189.8)" fill="#c09a50" opacity="1.0"/><ellipse cx="325.9" cy="181.4" rx="2.7" ry="2.5" transform="rotate(106 325.9 181.4)" fill="#d6bc7e" opacity="1.0"/><ellipse cx="341.6" cy="155.3" rx="2.2" ry="1.5" transform="rotate(34 341.6 155.3)" fill="#e2cc94" opacity="1.0"/><ellipse cx="311.6" cy="191.1" rx="3.1" ry="2.1" transform="rotate(135 311.6 191.1)" fill="#ccaa62" opacity="1.0"/><ellipse cx="341.0" cy="163.0" rx="4.4" ry="4.0" transform="rotate(49 341.0 163.0)" fill="#c09a50" opacity="1.0"/><ellipse cx="340.4" cy="163.1" rx="2.1" ry="1.6" transform="rotate(85 340.4 163.1)" fill="#d6bc7e" opacity="1.0"/><ellipse cx="326.1" cy="183.8" rx="4.5" ry="4.4" transform="rotate(24 326.1 183.8)" fill="#c09a50" opacity="1.0"/><ellipse cx="355.3" cy="179.6" rx="4.8" ry="4.5" transform="rotate(75 355.3 179.6)" fill="#dcc486" opacity="1.0"/><ellipse cx="313.1" cy="153.8" rx="4.4" ry="3.4" transform="rotate(24 313.1 153.8)" fill="#ccaa62" opacity="1.0"/><ellipse cx="319.6" cy="167.3" rx="4.5" ry="4.3" transform="rotate(29 319.6 167.3)" fill="#ccaa62" opacity="1.0"/><ellipse cx="314.8" cy="168.6" rx="3.2" ry="2.1" transform="rotate(30 314.8 168.6)" fill="#c09a50" opacity="1.0"/><ellipse cx="308.8" cy="200.2" rx="2.4" ry="1.7" transform="rotate(85 308.8 200.2)" fill="#e2cc94" opacity="1.0"/><ellipse cx="344.6" cy="193.9" rx="3.4" ry="2.8" transform="rotate(131 344.6 193.9)" fill="#c09a50" opacity="1.0"/><ellipse cx="353.2" cy="200.1" rx="3.5" ry="3.0" transform="rotate(28 353.2 200.1)" fill="#ccaa62" opacity="1.0"/><ellipse cx="311.0" cy="187.6" rx="4.1" ry="4.0" transform="rotate(6 311.0 187.6)" fill="#c09a50" opacity="1.0"/><ellipse cx="331.6" cy="190.4" rx="3.4" ry="2.5" transform="rotate(24 331.6 190.4)" fill="#ccaa62" opacity="1.0"/><ellipse cx="337.0" cy="174.1" rx="5.0" ry="3.5" transform="rotate(145 337.0 174.1)" fill="#d6bc7e" opacity="1.0"/><ellipse cx="305.9" cy="182.2" rx="2.6" ry="1.9" transform="rotate(76 305.9 182.2)" fill="#e2cc94" opacity="1.0"/><ellipse cx="335.3" cy="179.5" rx="3.5" ry="3.2" transform="rotate(128 335.3 179.5)" fill="#ccaa62" opacity="1.0"/><ellipse cx="316.2" cy="161.9" rx="3.8" ry="2.9" transform="rotate(119 316.2 161.9)" fill="#c09a50" opacity="1.0"/><ellipse cx="310.8" cy="158.4" rx="4.3" ry="4.0" transform="rotate(74 310.8 158.4)" fill="#ccaa62" opacity="1.0"/><ellipse cx="336.8" cy="160.5" rx="4.6" ry="3.2" transform="rotate(108 336.8 160.5)" fill="#e2cc94" opacity="1.0"/><ellipse cx="311.2" cy="170.9" rx="2.9" ry="2.3" transform="rotate(78 311.2 170.9)" fill="#d6bc7e" opacity="1.0"/><ellipse cx="337.2" cy="197.1" rx="2.8" ry="2.7" transform="rotate(9 337.2 197.1)" fill="#dcc486" opacity="1.0"/><ellipse cx="330.5" cy="192.6" rx="2.8" ry="2.4" transform="rotate(111 330.5 192.6)" fill="#c09a50" opacity="1.0"/><ellipse cx="315.3" cy="154.0" rx="3.3" ry="3.0" transform="rotate(61 315.3 154.0)" fill="#e2cc94" opacity="1.0"/><ellipse cx="321.8" cy="166.8" rx="4.9" ry="3.4" transform="rotate(55 321.8 166.8)" fill="#dcc486" opacity="1.0"/><ellipse cx="359.5" cy="195.4" rx="4.1" ry="3.9" transform="rotate(115 359.5 195.4)" fill="#c09a50" opacity="1.0"/><ellipse cx="341.4" cy="172.7" rx="2.2" ry="1.6" transform="rotate(121 341.4 172.7)" fill="#dcc486" opacity="1.0"/><ellipse cx="360.2" cy="165.9" rx="2.8" ry="2.1" transform="rotate(62 360.2 165.9)" fill="#d6bc7e" opacity="1.0"/><ellipse cx="320.9" cy="195.8" rx="4.9" ry="3.6" transform="rotate(36 320.9 195.8)" fill="#d6bc7e" opacity="1.0"/><ellipse cx="347.8" cy="193.7" rx="4.0" ry="3.6" transform="rotate(5 347.8 193.7)" fill="#c09a50" opacity="1.0"/><ellipse cx="355.8" cy="176.3" rx="2.9" ry="2.4" transform="rotate(66 355.8 176.3)" fill="#c09a50" opacity="1.0"/><ellipse cx="349.1" cy="171.7" rx="2.6" ry="2.5" transform="rotate(105 349.1 171.7)" fill="#dcc486" opacity="1.0"/><ellipse cx="351.0" cy="164.2" rx="4.1" ry="2.7" transform="rotate(105 351.0 164.2)" fill="#c09a50" opacity="1.0"/><ellipse cx="318.9" cy="157.6" rx="3.6" ry="2.8" transform="rotate(125 318.9 157.6)" fill="#ccaa62" opacity="1.0"/><ellipse cx="311.2" cy="154.7" rx="2.9" ry="2.0" transform="rotate(104 311.2 154.7)" fill="#e2cc94" opacity="1.0"/><ellipse cx="334.4" cy="173.8" rx="2.4" ry="1.6" transform="rotate(121 334.4 173.8)" fill="#ccaa62" opacity="1.0"/><ellipse cx="318.8" cy="189.3" rx="4.0" ry="2.6" transform="rotate(173 318.8 189.3)" fill="#c09a50" opacity="1.0"/><ellipse cx="316.7" cy="200.7" rx="3.4" ry="2.6" transform="rotate(145 316.7 200.7)" fill="#ccaa62" opacity="1.0"/><ellipse cx="356.0" cy="168.1" rx="3.2" ry="2.5" transform="rotate(14 356.0 168.1)" fill="#ccaa62" opacity="1.0"/><ellipse cx="305.3" cy="187.9" rx="3.4" ry="2.7" transform="rotate(132 305.3 187.9)" fill="#c09a50" opacity="1.0"/><ellipse cx="328.0" cy="179.4" rx="4.4" ry="3.5" transform="rotate(35 328.0 179.4)" fill="#d6bc7e" opacity="1.0"/><ellipse cx="320.9" cy="186.9" rx="2.6" ry="2.3" transform="rotate(119 320.9 186.9)" fill="#e2cc94" opacity="1.0"/><ellipse cx="319.0" cy="169.0" rx="4.8" ry="4.4" transform="rotate(69 319.0 169.0)" fill="#d6bc7e" opacity="1.0"/><ellipse cx="328.7" cy="184.9" rx="3.0" ry="2.2" transform="rotate(57 328.7 184.9)" fill="#c09a50" opacity="1.0"/><ellipse cx="350.4" cy="199.3" rx="2.3" ry="2.2" transform="rotate(79 350.4 199.3)" fill="#c09a50" opacity="1.0"/><ellipse cx="307.5" cy="162.8" rx="1.3" ry="1.3" transform="rotate(127 307.5 162.8)" fill="#4e3418" opacity="1.0"/><ellipse cx="345.0" cy="157.3" rx="1.5" ry="1.4" transform="rotate(133 345.0 157.3)" fill="#7a5a30" opacity="1.0"/><ellipse cx="324.6" cy="152.4" rx="1.8" ry="1.2" transform="rotate(2 324.6 152.4)" fill="#7a5a30" opacity="1.0"/><ellipse cx="345.6" cy="193.4" rx="1.8" ry="1.8" transform="rotate(51 345.6 193.4)" fill="#7a5a30" opacity="1.0"/><ellipse cx="307.8" cy="158.3" rx="2.0" ry="1.4" transform="rotate(40 307.8 158.3)" fill="#7a5a30" opacity="1.0"/><ellipse cx="304.2" cy="154.8" rx="1.0" ry="0.8" transform="rotate(41 304.2 154.8)" fill="#7a5a30" opacity="1.0"/><ellipse cx="321.1" cy="197.5" rx="1.2" ry="1.1" transform="rotate(76 321.1 197.5)" fill="#6a4a28" opacity="1.0"/><ellipse cx="347.9" cy="180.9" rx="1.2" ry="0.9" transform="rotate(62 347.9 180.9)" fill="#8a6438" opacity="1.0"/><ellipse cx="352.1" cy="166.5" rx="1.7" ry="1.6" transform="rotate(2 352.1 166.5)" fill="#3a2a18" opacity="1.0"/><ellipse cx="329.0" cy="186.5" rx="1.1" ry="0.7" transform="rotate(169 329.0 186.5)" fill="#8796c8" opacity="1.0"/><ellipse cx="305.8" cy="167.1" rx="1.4" ry="1.0" transform="rotate(9 305.8 167.1)" fill="#7a5a30" opacity="1.0"/><ellipse cx="303.4" cy="198.6" rx="1.7" ry="1.7" transform="rotate(125 303.4 198.6)" fill="#7a5a30" opacity="1.0"/><ellipse cx="358.6" cy="194.3" rx="1.6" ry="1.3" transform="rotate(130 358.6 194.3)" fill="#6f80b8" opacity="1.0"/><ellipse cx="316.1" cy="170.7" rx="1.7" ry="1.2" transform="rotate(130 316.1 170.7)" fill="#3a2a18" opacity="1.0"/><ellipse cx="338.2" cy="192.3" rx="1.6" ry="1.1" transform="rotate(63 338.2 192.3)" fill="#4e3418" opacity="1.0"/><ellipse cx="332.1" cy="157.6" rx="1.0" ry="1.0" transform="rotate(42 332.1 157.6)" fill="#5a6aa6" opacity="1.0"/><ellipse cx="348.3" cy="172.7" rx="1.2" ry="1.0" transform="rotate(81 348.3 172.7)" fill="#8a6438" opacity="1.0"/><ellipse cx="312.7" cy="170.2" rx="1.1" ry="1.0" transform="rotate(53 312.7 170.2)" fill="#3a2a18" opacity="1.0"/><ellipse cx="348.5" cy="180.8" rx="1.5" ry="1.4" transform="rotate(96 348.5 180.8)" fill="#6a4a28" opacity="1.0"/><ellipse cx="350.9" cy="154.1" rx="2.0" ry="1.4" transform="rotate(0 350.9 154.1)" fill="#4e3418" opacity="1.0"/><ellipse cx="354.4" cy="187.5" rx="1.7" ry="1.5" transform="rotate(96 354.4 187.5)" fill="#6f80b8" opacity="1.0"/><ellipse cx="309.7" cy="167.9" rx="2.0" ry="1.9" transform="rotate(58 309.7 167.9)" fill="#7a5a30" opacity="1.0"/><ellipse cx="306.4" cy="185.5" rx="1.0" ry="0.8" transform="rotate(64 306.4 185.5)" fill="#4e3418" opacity="1.0"/><ellipse cx="335.0" cy="158.7" rx="1.1" ry="1.0" transform="rotate(128 335.0 158.7)" fill="#6f80b8" opacity="1.0"/><ellipse cx="359.7" cy="194.4" rx="1.8" ry="1.2" transform="rotate(150 359.7 194.4)" fill="#3a2a18" opacity="1.0"/><ellipse cx="360.8" cy="176.8" rx="1.1" ry="0.8" transform="rotate(4 360.8 176.8)" fill="#4e3418" opacity="1.0"/><ellipse cx="317.4" cy="167.9" rx="1.7" ry="1.4" transform="rotate(47 317.4 167.9)" fill="#4e3418" opacity="1.0"/><ellipse cx="339.2" cy="170.1" rx="1.0" ry="0.8" transform="rotate(45 339.2 170.1)" fill="#6a4a28" opacity="1.0"/><ellipse cx="308.1" cy="187.6" rx="1.9" ry="1.5" transform="rotate(121 308.1 187.6)" fill="#4e3418" opacity="1.0"/><ellipse cx="340.1" cy="177.7" rx="1.1" ry="0.8" transform="rotate(52 340.1 177.7)" fill="#6f80b8" opacity="1.0"/><ellipse cx="320.7" cy="184.3" rx="1.8" ry="1.7" transform="rotate(9 320.7 184.3)" fill="#5a6aa6" opacity="1.0"/><ellipse cx="329.0" cy="179.3" rx="1.9" ry="1.6" transform="rotate(146 329.0 179.3)" fill="#6f80b8" opacity="1.0"/><ellipse cx="330.6" cy="178.4" rx="1.1" ry="0.9" transform="rotate(113 330.6 178.4)" fill="#3a2a18" opacity="1.0"/><ellipse cx="317.9" cy="197.2" rx="1.3" ry="1.3" transform="rotate(176 317.9 197.2)" fill="#6f80b8" opacity="1.0"/><ellipse cx="303.1" cy="174.1" rx="1.1" ry="1.1" transform="rotate(107 303.1 174.1)" fill="#6f80b8" opacity="1.0"/><ellipse cx="308.0" cy="198.7" rx="1.8" ry="1.6" transform="rotate(145 308.0 198.7)" fill="#6a4a28" opacity="1.0"/><ellipse cx="319.4" cy="158.8" rx="1.4" ry="1.3" transform="rotate(93 319.4 158.8)" fill="#7a5a30" opacity="1.0"/><ellipse cx="336.1" cy="179.8" rx="1.8" ry="1.8" transform="rotate(65 336.1 179.8)" fill="#3a2a18" opacity="1.0"/><ellipse cx="355.9" cy="169.4" rx="1.1" ry="0.9" transform="rotate(154 355.9 169.4)" fill="#6f80b8" opacity="1.0"/><ellipse cx="348.9" cy="188.1" rx="1.6" ry="1.4" transform="rotate(170 348.9 188.1)" fill="#5a6aa6" opacity="1.0"/><ellipse cx="336.5" cy="153.1" rx="1.5" ry="1.2" transform="rotate(18 336.5 153.1)" fill="#6f80b8" opacity="1.0"/><ellipse cx="338.7" cy="193.3" rx="1.3" ry="1.1" transform="rotate(160 338.7 193.3)" fill="#6a4a28" opacity="1.0"/><ellipse cx="342.7" cy="194.8" rx="1.7" ry="1.1" transform="rotate(157 342.7 194.8)" fill="#4e3418" opacity="1.0"/><ellipse cx="323.3" cy="172.7" rx="1.7" ry="1.2" transform="rotate(160 323.3 172.7)" fill="#6a4a28" opacity="1.0"/><ellipse cx="351.1" cy="178.3" rx="1.2" ry="1.1" transform="rotate(20 351.1 178.3)" fill="#3a2a18" opacity="1.0"/><ellipse cx="351.6" cy="179.5" rx="1.7" ry="1.2" transform="rotate(104 351.6 179.5)" fill="#7a5a30" opacity="1.0"/><ellipse cx="335.0" cy="171.1" rx="1.2" ry="0.9" transform="rotate(38 335.0 171.1)" fill="#7a5a30" opacity="1.0"/><ellipse cx="337.7" cy="194.4" rx="1.0" ry="1.0" transform="rotate(45 337.7 194.4)" fill="#8796c8" opacity="1.0"/><ellipse cx="322.5" cy="177.9" rx="1.9" ry="1.3" transform="rotate(124 322.5 177.9)" fill="#3a2a18" opacity="1.0"/><ellipse cx="358.1" cy="173.3" rx="1.1" ry="1.1" transform="rotate(26 358.1 173.3)" fill="#6f80b8" opacity="1.0"/><ellipse cx="311.2" cy="163.2" rx="1.8" ry="1.2" transform="rotate(50 311.2 163.2)" fill="#8796c8" opacity="1.0"/><ellipse cx="330.1" cy="162.6" rx="1.2" ry="1.1" transform="rotate(59 330.1 162.6)" fill="#8a6438" opacity="1.0"/><ellipse cx="335.7" cy="156.5" rx="1.5" ry="1.4" transform="rotate(114 335.7 156.5)" fill="#6f80b8" opacity="1.0"/><ellipse cx="308.3" cy="199.6" rx="1.4" ry="1.3" transform="rotate(109 308.3 199.6)" fill="#6f80b8" opacity="1.0"/><ellipse cx="306.7" cy="184.7" rx="2.0" ry="1.8" transform="rotate(115 306.7 184.7)" fill="#8a6438" opacity="1.0"/><ellipse cx="351.6" cy="198.3" rx="1.9" ry="1.9" transform="rotate(79 351.6 198.3)" fill="#3a2a18" opacity="1.0"/><ellipse cx="347.4" cy="168.2" rx="1.1" ry="0.9" transform="rotate(179 347.4 168.2)" fill="#8796c8" opacity="1.0"/><ellipse cx="348.1" cy="193.8" rx="1.3" ry="1.2" transform="rotate(169 348.1 193.8)" fill="#4e3418" opacity="1.0"/><ellipse cx="332.1" cy="156.9" rx="1.2" ry="1.2" transform="rotate(160 332.1 156.9)" fill="#4e3418" opacity="1.0"/><ellipse cx="320.6" cy="174.1" rx="1.1" ry="0.7" transform="rotate(15 320.6 174.1)" fill="#6f80b8" opacity="1.0"/><ellipse cx="314.1" cy="156.1" rx="1.3" ry="0.9" transform="rotate(42 314.1 156.1)" fill="#8a6438" opacity="1.0"/><ellipse cx="314.3" cy="163.7" rx="1.6" ry="1.3" transform="rotate(53 314.3 163.7)" fill="#4e3418" opacity="1.0"/><ellipse cx="360.8" cy="191.5" rx="1.5" ry="1.1" transform="rotate(4 360.8 191.5)" fill="#8a6438" opacity="1.0"/><ellipse cx="320.5" cy="162.4" rx="1.8" ry="1.4" transform="rotate(173 320.5 162.4)" fill="#7a5a30" opacity="1.0"/><ellipse cx="314.7" cy="186.4" rx="1.7" ry="1.5" transform="rotate(157 314.7 186.4)" fill="#4e3418" opacity="1.0"/><ellipse cx="307.2" cy="161.4" rx="1.8" ry="1.2" transform="rotate(46 307.2 161.4)" fill="#6f80b8" opacity="1.0"/><ellipse cx="337.8" cy="167.4" rx="1.6" ry="1.5" transform="rotate(147 337.8 167.4)" fill="#6a4a28" opacity="1.0"/><ellipse cx="307.1" cy="163.5" rx="1.2" ry="0.8" transform="rotate(113 307.1 163.5)" fill="#8796c8" opacity="1.0"/><ellipse cx="345.0" cy="152.9" rx="1.5" ry="1.4" transform="rotate(38 345.0 152.9)" fill="#8a6438" opacity="1.0"/><ellipse cx="316.9" cy="168.8" rx="1.5" ry="1.2" transform="rotate(152 316.9 168.8)" fill="#8796c8" opacity="1.0"/><ellipse cx="337.1" cy="175.8" rx="1.5" ry="1.3" transform="rotate(6 337.1 175.8)" fill="#7a5a30" opacity="1.0"/><ellipse cx="304.3" cy="190.5" rx="1.2" ry="1.0" transform="rotate(55 304.3 190.5)" fill="#4e3418" opacity="1.0"/><ellipse cx="321.0" cy="171.8" rx="1.5" ry="1.0" transform="rotate(75 321.0 171.8)" fill="#8796c8" opacity="1.0"/><ellipse cx="329.6" cy="171.2" rx="1.5" ry="1.0" transform="rotate(143 329.6 171.2)" fill="#7a5a30" opacity="1.0"/><ellipse cx="346.1" cy="179.5" rx="1.8" ry="1.4" transform="rotate(45 346.1 179.5)" fill="#6a4a28" opacity="1.0"/><ellipse cx="338.7" cy="164.3" rx="1.3" ry="1.2" transform="rotate(130 338.7 164.3)" fill="#3a2a18" opacity="1.0"/><ellipse cx="305.8" cy="173.7" rx="1.0" ry="0.9" transform="rotate(53 305.8 173.7)" fill="#8796c8" opacity="1.0"/><ellipse cx="346.5" cy="166.9" rx="1.9" ry="1.4" transform="rotate(172 346.5 166.9)" fill="#3a2a18" opacity="1.0"/><ellipse cx="337.1" cy="185.8" rx="1.8" ry="1.8" transform="rotate(142 337.1 185.8)" fill="#6f80b8" opacity="1.0"/><ellipse cx="342.1" cy="180.1" rx="1.2" ry="0.9" transform="rotate(50 342.1 180.1)" fill="#4e3418" opacity="1.0"/><ellipse cx="355.1" cy="198.5" rx="1.5" ry="1.1" transform="rotate(97 355.1 198.5)" fill="#7a5a30" opacity="1.0"/><ellipse cx="360.0" cy="166.6" rx="1.5" ry="1.3" transform="rotate(126 360.0 166.6)" fill="#4e3418" opacity="1.0"/><ellipse cx="310.9" cy="180.6" rx="1.1" ry="1.0" transform="rotate(109 310.9 180.6)" fill="#6f80b8" opacity="1.0"/><ellipse cx="322.0" cy="156.8" rx="1.3" ry="0.9" transform="rotate(65 322.0 156.8)" fill="#5a6aa6" opacity="1.0"/><ellipse cx="333.4" cy="168.8" rx="1.1" ry="0.9" transform="rotate(94 333.4 168.8)" fill="#6f80b8" opacity="1.0"/><ellipse cx="350.0" cy="177.6" rx="1.2" ry="1.1" transform="rotate(126 350.0 177.6)" fill="#7a5a30" opacity="1.0"/><ellipse cx="310.1" cy="185.3" rx="2.0" ry="1.8" transform="rotate(166 310.1 185.3)" fill="#3a2a18" opacity="1.0"/><ellipse cx="349.7" cy="164.7" rx="1.9" ry="1.5" transform="rotate(62 349.7 164.7)" fill="#5a6aa6" opacity="1.0"/><ellipse cx="317.4" cy="165.5" rx="1.6" ry="1.1" transform="rotate(178 317.4 165.5)" fill="#5a6aa6" opacity="1.0"/><ellipse cx="345.1" cy="183.0" rx="1.7" ry="1.2" transform="rotate(166 345.1 183.0)" fill="#6f80b8" opacity="1.0"/><ellipse cx="352.0" cy="187.6" rx="1.5" ry="1.5" transform="rotate(14 352.0 187.6)" fill="#3a2a18" opacity="1.0"/><ellipse cx="312.9" cy="186.6" rx="1.5" ry="1.0" transform="rotate(111 312.9 186.6)" fill="#5a6aa6" opacity="1.0"/><ellipse cx="357.8" cy="175.6" rx="1.3" ry="1.1" transform="rotate(113 357.8 175.6)" fill="#6f80b8" opacity="1.0"/><ellipse cx="337.5" cy="197.5" rx="1.8" ry="1.8" transform="rotate(55 337.5 197.5)" fill="#6f80b8" opacity="1.0"/><ellipse cx="346.6" cy="185.1" rx="2.0" ry="1.6" transform="rotate(100 346.6 185.1)" fill="#6f80b8" opacity="1.0"/><ellipse cx="338.8" cy="161.7" rx="1.8" ry="1.5" transform="rotate(91 338.8 161.7)" fill="#3a2a18" opacity="1.0"/><ellipse cx="342.4" cy="186.9" rx="1.6" ry="1.2" transform="rotate(132 342.4 186.9)" fill="#6a4a28" opacity="1.0"/><ellipse cx="303.7" cy="172.2" rx="1.0" ry="0.9" transform="rotate(19 303.7 172.2)" fill="#6f80b8" opacity="1.0"/><ellipse cx="339.8" cy="156.2" rx="1.7" ry="1.1" transform="rotate(57 339.8 156.2)" fill="#7a5a30" opacity="1.0"/><ellipse cx="328.1" cy="155.2" rx="1.5" ry="1.4" transform="rotate(152 328.1 155.2)" fill="#4e3418" opacity="1.0"/><ellipse cx="319.9" cy="177.4" rx="1.4" ry="1.3" transform="rotate(82 319.9 177.4)" fill="#6f80b8" opacity="1.0"/><ellipse cx="344.7" cy="187.0" rx="1.9" ry="1.3" transform="rotate(145 344.7 187.0)" fill="#3a2a18" opacity="1.0"/><ellipse cx="340.2" cy="173.0" rx="1.5" ry="1.3" transform="rotate(178 340.2 173.0)" fill="#6f80b8" opacity="1.0"/><ellipse cx="308.8" cy="168.9" rx="1.1" ry="0.8" transform="rotate(92 308.8 168.9)" fill="#8a6438" opacity="1.0"/><ellipse cx="351.6" cy="172.0" rx="1.2" ry="0.8" transform="rotate(133 351.6 172.0)" fill="#6f80b8" opacity="1.0"/><ellipse cx="343.8" cy="174.4" rx="2.0" ry="1.7" transform="rotate(35 343.8 174.4)" fill="#6f80b8" opacity="1.0"/><ellipse cx="309.8" cy="184.1" rx="1.8" ry="1.2" transform="rotate(109 309.8 184.1)" fill="#5a6aa6" opacity="1.0"/><ellipse cx="312.4" cy="170.0" rx="1.3" ry="1.1" transform="rotate(96 312.4 170.0)" fill="#8796c8" opacity="1.0"/><ellipse cx="351.4" cy="182.8" rx="1.8" ry="1.5" transform="rotate(18 351.4 182.8)" fill="#7a5a30" opacity="1.0"/><ellipse cx="313.4" cy="158.5" rx="1.7" ry="1.3" transform="rotate(10 313.4 158.5)" fill="#5a6aa6" opacity="1.0"/><ellipse cx="316.8" cy="156.4" rx="1.5" ry="1.4" transform="rotate(19 316.8 156.4)" fill="#5a6aa6" opacity="1.0"/><ellipse cx="306.0" cy="172.6" rx="1.6" ry="1.2" transform="rotate(176 306.0 172.6)" fill="#8796c8" opacity="1.0"/><ellipse cx="347.2" cy="192.8" rx="1.9" ry="1.4" transform="rotate(178 347.2 192.8)" fill="#6a4a28" opacity="1.0"/><ellipse cx="334.9" cy="155.4" rx="2.0" ry="1.7" transform="rotate(37 334.9 155.4)" fill="#6a4a28" opacity="1.0"/><ellipse cx="327.9" cy="157.7" rx="1.1" ry="0.9" transform="rotate(35 327.9 157.7)" fill="#6a4a28" opacity="1.0"/><ellipse cx="311.8" cy="165.2" rx="1.5" ry="1.0" transform="rotate(84 311.8 165.2)" fill="#7a5a30" opacity="1.0"/><ellipse cx="319.6" cy="164.7" rx="1.7" ry="1.4" transform="rotate(124 319.6 164.7)" fill="#5a6aa6" opacity="1.0"/><ellipse cx="358.2" cy="163.9" rx="1.7" ry="1.2" transform="rotate(9 358.2 163.9)" fill="#8796c8" opacity="1.0"/><ellipse cx="333.9" cy="160.3" rx="1.3" ry="1.2" transform="rotate(156 333.9 160.3)" fill="#6a4a28" opacity="1.0"/><ellipse cx="339.8" cy="172.7" rx="1.0" ry="0.9" transform="rotate(50 339.8 172.7)" fill="#6f80b8" opacity="1.0"/><ellipse cx="330.6" cy="186.2" rx="1.3" ry="1.2" transform="rotate(51 330.6 186.2)" fill="#6a4a28" opacity="1.0"/><ellipse cx="333.3" cy="154.1" rx="1.4" ry="1.0" transform="rotate(68 333.3 154.1)" fill="#6f80b8" opacity="1.0"/><ellipse cx="310.8" cy="188.9" rx="1.4" ry="1.4" transform="rotate(139 310.8 188.9)" fill="#4e3418" opacity="1.0"/><ellipse cx="339.6" cy="158.0" rx="1.3" ry="1.3" transform="rotate(164 339.6 158.0)" fill="#3a2a18" opacity="1.0"/><ellipse cx="318.1" cy="161.8" rx="1.8" ry="1.7" transform="rotate(164 318.1 161.8)" fill="#4e3418" opacity="1.0"/><ellipse cx="315.1" cy="176.0" rx="1.9" ry="1.7" transform="rotate(98 315.1 176.0)" fill="#8a6438" opacity="1.0"/><ellipse cx="352.3" cy="164.2" rx="1.9" ry="1.3" transform="rotate(49 352.3 164.2)" fill="#6f80b8" opacity="1.0"/><ellipse cx="352.9" cy="179.6" rx="1.5" ry="1.5" transform="rotate(3 352.9 179.6)" fill="#7a5a30" opacity="1.0"/><ellipse cx="311.0" cy="199.1" rx="1.9" ry="1.4" transform="rotate(40 311.0 199.1)" fill="#6f80b8" opacity="1.0"/><ellipse cx="319.9" cy="176.3" rx="1.3" ry="1.2" transform="rotate(171 319.9 176.3)" fill="#7a5a30" opacity="1.0"/><ellipse cx="322.5" cy="170.8" rx="1.2" ry="1.0" transform="rotate(20 322.5 170.8)" fill="#6f80b8" opacity="1.0"/><ellipse cx="349.5" cy="166.9" rx="1.0" ry="0.7" transform="rotate(150 349.5 166.9)" fill="#7a5a30" opacity="1.0"/><ellipse cx="314.6" cy="155.0" rx="1.4" ry="1.2" transform="rotate(154 314.6 155.0)" fill="#3a2a18" opacity="1.0"/><ellipse cx="319.7" cy="174.1" rx="1.2" ry="0.9" transform="rotate(6 319.7 174.1)" fill="#6f80b8" opacity="1.0"/><ellipse cx="350.9" cy="179.2" rx="1.8" ry="1.4" transform="rotate(54 350.9 179.2)" fill="#5a6aa6" opacity="1.0"/><ellipse cx="349.5" cy="175.5" rx="1.9" ry="1.4" transform="rotate(153 349.5 175.5)" fill="#3a2a18" opacity="1.0"/><ellipse cx="316.7" cy="170.2" rx="1.3" ry="1.1" transform="rotate(109 316.7 170.2)" fill="#8796c8" opacity="1.0"/><ellipse cx="332.0" cy="167.9" rx="1.8" ry="1.5" transform="rotate(120 332.0 167.9)" fill="#3a2a18" opacity="1.0"/><ellipse cx="329.0" cy="176.8" rx="1.4" ry="1.1" transform="rotate(5 329.0 176.8)" fill="#3a2a18" opacity="1.0"/><ellipse cx="332.5" cy="163.0" rx="1.4" ry="1.0" transform="rotate(20 332.5 163.0)" fill="#8a6438" opacity="1.0"/><ellipse cx="324.2" cy="182.6" rx="1.0" ry="1.0" transform="rotate(51 324.2 182.6)" fill="#5a6aa6" opacity="1.0"/><ellipse cx="321.7" cy="190.6" rx="1.4" ry="1.3" transform="rotate(1 321.7 190.6)" fill="#3a2a18" opacity="1.0"/><ellipse cx="348.2" cy="157.4" rx="1.3" ry="1.2" transform="rotate(113 348.2 157.4)" fill="#7a5a30" opacity="1.0"/><ellipse cx="312.2" cy="171.6" rx="1.5" ry="1.3" transform="rotate(173 312.2 171.6)" fill="#7a5a30" opacity="1.0"/><ellipse cx="313.0" cy="165.5" rx="2.0" ry="1.9" transform="rotate(6 313.0 165.5)" fill="#7a5a30" opacity="1.0"/><ellipse cx="312.8" cy="158.3" rx="1.0" ry="0.8" transform="rotate(19 312.8 158.3)" fill="#6f80b8" opacity="1.0"/><ellipse cx="344.6" cy="173.7" rx="1.7" ry="1.6" transform="rotate(57 344.6 173.7)" fill="#6f80b8" opacity="1.0"/><ellipse cx="361.1" cy="152.7" rx="2.0" ry="1.8" transform="rotate(18 361.1 152.7)" fill="#4e3418" opacity="1.0"/><ellipse cx="335.8" cy="198.7" rx="1.0" ry="0.9" transform="rotate(93 335.8 198.7)" fill="#7a5a30" opacity="1.0"/><ellipse cx="330.8" cy="168.6" rx="1.4" ry="1.4" transform="rotate(48 330.8 168.6)" fill="#8a6438" opacity="1.0"/><ellipse cx="325.1" cy="166.6" rx="1.6" ry="1.1" transform="rotate(18 325.1 166.6)" fill="#5a6aa6" opacity="1.0"/><ellipse cx="309.9" cy="162.6" rx="1.5" ry="1.0" transform="rotate(11 309.9 162.6)" fill="#6a4a28" opacity="1.0"/><ellipse cx="357.8" cy="187.6" rx="1.9" ry="1.4" transform="rotate(64 357.8 187.6)" fill="#8a6438" opacity="1.0"/><ellipse cx="330.7" cy="152.6" rx="1.1" ry="0.8" transform="rotate(152 330.7 152.6)" fill="#7a5a30" opacity="1.0"/><ellipse cx="345.8" cy="187.1" rx="1.3" ry="1.1" transform="rotate(104 345.8 187.1)" fill="#6a4a28" opacity="1.0"/><ellipse cx="303.8" cy="188.5" rx="1.4" ry="1.3" transform="rotate(55 303.8 188.5)" fill="#8a6438" opacity="1.0"/><ellipse cx="330.1" cy="181.9" rx="1.3" ry="1.2" transform="rotate(22 330.1 181.9)" fill="#7a5a30" opacity="1.0"/><ellipse cx="310.9" cy="191.6" rx="1.1" ry="0.7" transform="rotate(102 310.9 191.6)" fill="#6f80b8" opacity="1.0"/><ellipse cx="321.5" cy="170.8" rx="1.6" ry="1.6" transform="rotate(134 321.5 170.8)" fill="#8796c8" opacity="1.0"/><ellipse cx="344.1" cy="170.1" rx="1.2" ry="1.2" transform="rotate(72 344.1 170.1)" fill="#7a5a30" opacity="1.0"/><ellipse cx="340.9" cy="175.5" rx="1.3" ry="0.9" transform="rotate(90 340.9 175.5)" fill="#6a4a28" opacity="1.0"/><ellipse cx="309.9" cy="173.0" rx="1.1" ry="0.9" transform="rotate(54 309.9 173.0)" fill="#5a6aa6" opacity="1.0"/><ellipse cx="339.3" cy="177.2" rx="2.0" ry="1.9" transform="rotate(79 339.3 177.2)" fill="#8a6438" opacity="1.0"/><ellipse cx="310.9" cy="200.4" rx="1.9" ry="1.5" transform="rotate(60 310.9 200.4)" fill="#6f80b8" opacity="1.0"/><ellipse cx="341.6" cy="172.3" rx="1.8" ry="1.5" transform="rotate(80 341.6 172.3)" fill="#8796c8" opacity="1.0"/></g><rect x="352" y="197.6" width="6" height="1.4" fill="#333"/></g>
<rect x="303" y="152.4" width="58.3" height="48.6" fill="none" stroke="#111" stroke-width="1.1"/>
<text x="215" y="212.18" font-size="6.6" text-anchor="middle">Negative</text>
<text x="270.8" y="212.88" font-size="6.6" text-anchor="middle">HSPA8</text>
<text x="270.8" y="221.18" font-size="6.6" text-anchor="middle">(cytoplasm)</text>
<text x="330.5" y="212.88" font-size="6.6" text-anchor="middle">HSPA8</text>
<text x="334.5" y="221.23" font-size="6.75" text-anchor="middle">(cytoplasm+nucleus)</text>
<text x="281" y="12.5" font-size="12.5" font-weight="bold">D</text>
<text x="322.2" y="39.77" font-size="6.3" text-anchor="middle">1P</text>
<text x="333.5" y="39.77" font-size="6.3" text-anchor="middle">1T</text>
<text x="345.3" y="39.77" font-size="6.3" text-anchor="middle">2P</text>
<text x="357.8" y="39.77" font-size="6.3" text-anchor="middle">2T</text>
<text x="369.5" y="39.77" font-size="6.3" text-anchor="middle">3P</text>
<text x="381" y="39.77" font-size="6.3" text-anchor="middle">3T</text>
<text x="393" y="39.77" font-size="6.3" text-anchor="middle">4P</text>
<text x="404" y="39.77" font-size="6.3" text-anchor="middle">4T</text>
<text x="416" y="39.77" font-size="6.3" text-anchor="middle">5P</text>
<text x="427" y="39.77" font-size="6.3" text-anchor="middle">5T</text>
<text x="440.3" y="39.77" font-size="6.3" text-anchor="middle">6P</text>
<text x="450.5" y="39.77" font-size="6.3" text-anchor="middle">6T</text>
<text x="463.4" y="39.77" font-size="6.3" text-anchor="middle">7P</text>
<text x="475.4" y="39.77" font-size="6.3" text-anchor="middle">7T</text>
<rect x="309.3" y="42" width="181.5" height="28.4" fill="#f0f0f0" stroke="#111" stroke-width="1.1"/>
<rect x="309.3" y="75.8" width="181.5" height="27.2" fill="#ededed" stroke="#111" stroke-width="1.1"/>
<text x="305.5" y="58.57" font-size="6.3" text-anchor="end">HSPA8</text>
<text x="305.5" y="91.57" font-size="6.3" text-anchor="end">β-Actin</text>
<filter id="bl" x="-20%" y="-50%" width="140%" height="200%"><feGaussianBlur stdDeviation="0.6"/></filter>
<g filter="url(#bl)"><ellipse cx="320.7" cy="55.6" rx="5.8" ry="1.9" fill="#111" opacity="0.95"/><ellipse cx="333.2" cy="55.6" rx="6.1" ry="2.2" fill="#111" opacity="0.98"/><ellipse cx="344.2" cy="55.6" rx="5.6" ry="1.7" fill="#111" opacity="0.93"/><ellipse cx="356.3" cy="55.6" rx="6.3" ry="2.3" fill="#111" opacity="0.99"/><ellipse cx="368.3" cy="55.6" rx="5.2" ry="1.4" fill="#111" opacity="0.90"/><ellipse cx="380.3" cy="55.6" rx="6.2" ry="2.2" fill="#111" opacity="0.98"/><ellipse cx="391.3" cy="55.6" rx="5.1" ry="1.4" fill="#111" opacity="0.90"/><ellipse cx="403.5" cy="55.6" rx="5.9" ry="1.9" fill="#111" opacity="0.95"/><ellipse cx="415.5" cy="55.6" rx="5.9" ry="1.9" fill="#111" opacity="0.95"/><ellipse cx="427.3" cy="55.6" rx="6.3" ry="2.3" fill="#111" opacity="0.99"/><ellipse cx="439.8" cy="55.6" rx="5.9" ry="2.0" fill="#111" opacity="0.96"/><ellipse cx="451.0" cy="55.6" rx="6.3" ry="2.3" fill="#111" opacity="0.99"/><ellipse cx="463.0" cy="55.6" rx="5.3" ry="1.5" fill="#111" opacity="0.91"/><ellipse cx="475.0" cy="55.6" rx="6.2" ry="2.2" fill="#111" opacity="0.98"/></g>
<g filter="url(#bl)"><ellipse cx="320.7" cy="90.6" rx="7.4" ry="2.7" fill="#0a0a0a"/><ellipse cx="333.2" cy="90.6" rx="7.4" ry="2.7" fill="#0a0a0a"/><ellipse cx="344.2" cy="90.6" rx="7.4" ry="2.7" fill="#0a0a0a"/><ellipse cx="356.3" cy="90.6" rx="7.4" ry="2.7" fill="#0a0a0a"/><ellipse cx="368.3" cy="90.6" rx="7.4" ry="2.7" fill="#0a0a0a"/><ellipse cx="380.3" cy="90.6" rx="7.4" ry="2.7" fill="#0a0a0a"/><ellipse cx="391.3" cy="90.6" rx="7.4" ry="2.7" fill="#0a0a0a"/><ellipse cx="403.5" cy="90.6" rx="7.4" ry="2.7" fill="#0a0a0a"/><ellipse cx="415.5" cy="90.6" rx="7.4" ry="2.7" fill="#0a0a0a"/><ellipse cx="427.3" cy="90.6" rx="7.4" ry="2.7" fill="#0a0a0a"/><ellipse cx="439.8" cy="90.6" rx="7.4" ry="2.7" fill="#0a0a0a"/><ellipse cx="451.0" cy="90.6" rx="7.4" ry="2.7" fill="#0a0a0a"/><ellipse cx="463.0" cy="90.6" rx="7.4" ry="2.7" fill="#0a0a0a"/><ellipse cx="475.0" cy="90.6" rx="7.4" ry="2.7" fill="#0a0a0a"/><rect x="316" y="88.6" width="167" height="4" rx="2" fill="#0a0a0a"/></g>
<line x1="406.5" y1="119.3" x2="406.5" y2="216.1" stroke="#000" stroke-width="0.9"/>
<line x1="406.2" y1="216.5" x2="496.2" y2="216.5" stroke="#000" stroke-width="0.9"/>
<line x1="403.5" y1="216.5" x2="406.2" y2="216.5" stroke="#000" stroke-width="0.9"/>
<text x="401.5" y="218.44" font-size="6.5" text-anchor="end">0</text>
<line x1="403.5" y1="196.5" x2="406.2" y2="196.5" stroke="#000" stroke-width="0.9"/>
<text x="401.5" y="199.14" font-size="6.5" text-anchor="end">20</text>
<line x1="403.5" y1="177.5" x2="406.2" y2="177.5" stroke="#000" stroke-width="0.9"/>
<text x="401.5" y="179.84" font-size="6.5" text-anchor="end">40</text>
<line x1="403.5" y1="158.5" x2="406.2" y2="158.5" stroke="#000" stroke-width="0.9"/>
<text x="401.5" y="160.54" font-size="6.5" text-anchor="end">60</text>
<line x1="403.5" y1="138.5" x2="406.2" y2="138.5" stroke="#000" stroke-width="0.9"/>
<text x="401.5" y="141.24" font-size="6.5" text-anchor="end">80</text>
<line x1="403.5" y1="119.5" x2="406.2" y2="119.5" stroke="#000" stroke-width="0.9"/>
<text x="401.5" y="121.94" font-size="6.5" text-anchor="end">100</text>
<text transform="translate(385.6,168.6) rotate(-90)" x="0" y="2.56" font-size="7.1" text-anchor="middle">IHC score of HSPA8 (%)</text>
<rect x="416.5" y="172.68" width="18.5" height="43.42" fill="none" stroke="#e3343f" stroke-width="1.1"/>
<circle cx="419.2" cy="192.8" r="1.1" fill="#e3343f"/>
<circle cx="422.7" cy="167.3" r="1.1" fill="#e3343f"/>
<circle cx="420.5" cy="158.1" r="1.1" fill="#e3343f"/>
<circle cx="423.6" cy="176.2" r="1.1" fill="#e3343f"/>
<circle cx="419.2" cy="164.7" r="1.1" fill="#e3343f"/>
<circle cx="431.3" cy="180.2" r="1.1" fill="#e3343f"/>
<circle cx="427.4" cy="162.7" r="1.1" fill="#e3343f"/>
<circle cx="425.2" cy="162.1" r="1.1" fill="#e3343f"/>
<circle cx="427.2" cy="166.5" r="1.1" fill="#e3343f"/>
<circle cx="420.3" cy="174.2" r="1.1" fill="#e3343f"/>
<circle cx="425.9" cy="167.1" r="1.1" fill="#e3343f"/>
<circle cx="430.4" cy="173.9" r="1.1" fill="#e3343f"/>
<circle cx="431.0" cy="169.3" r="1.1" fill="#e3343f"/>
<circle cx="430.5" cy="175.7" r="1.1" fill="#e3343f"/>
<circle cx="421.9" cy="179.5" r="1.1" fill="#e3343f"/>
<circle cx="420.9" cy="157.1" r="1.1" fill="#e3343f"/>
<circle cx="430.3" cy="168.1" r="1.1" fill="#e3343f"/>
<circle cx="425.2" cy="165.2" r="1.1" fill="#e3343f"/>
<circle cx="421.7" cy="151.3" r="1.1" fill="#e3343f"/>
<circle cx="424.8" cy="174.2" r="1.1" fill="#e3343f"/>
<circle cx="427.3" cy="160.3" r="1.1" fill="#e3343f"/>
<circle cx="426.9" cy="167.4" r="1.1" fill="#e3343f"/>
<circle cx="420.3" cy="160.8" r="1.1" fill="#e3343f"/>
<circle cx="430.5" cy="165.3" r="1.1" fill="#e3343f"/>
<circle cx="432.4" cy="177.2" r="1.1" fill="#e3343f"/>
<circle cx="432.0" cy="171.6" r="1.1" fill="#e3343f"/>
<circle cx="422.7" cy="184.1" r="1.1" fill="#e3343f"/>
<line x1="425.5" y1="182.32" x2="425.5" y2="163.03" stroke="#e3343f" stroke-width="0.9"/>
<line x1="422.25" y1="163.5" x2="429.25" y2="163.5" stroke="#e3343f" stroke-width="0.9"/>
<line x1="422.25" y1="182.5" x2="429.25" y2="182.5" stroke="#e3343f" stroke-width="0.9"/>
<line x1="425.5" y1="216.1" x2="425.5" y2="218.8" stroke="#000" stroke-width="0.9"/>
<text x="425.75" y="224.8" font-size="6.4" text-anchor="middle">I</text>
<text x="425.15" y="232.48" font-size="6.6" text-anchor="middle"><tspan font-style="italic">n</tspan> = 27</text>
<rect x="445.4" y="163.99" width="18.4" height="52.11" fill="none" stroke="#239a4c" stroke-width="1.1"/>
<circle cx="449.9" cy="167.8" r="1.1" fill="#239a4c"/>
<circle cx="460.4" cy="160.5" r="1.1" fill="#239a4c"/>
<circle cx="455.3" cy="173.6" r="1.1" fill="#239a4c"/>
<circle cx="453.0" cy="169.1" r="1.1" fill="#239a4c"/>
<circle cx="458.5" cy="165.1" r="1.1" fill="#239a4c"/>
<circle cx="456.9" cy="173.2" r="1.1" fill="#239a4c"/>
<circle cx="449.8" cy="159.9" r="1.1" fill="#239a4c"/>
<circle cx="449.7" cy="170.5" r="1.1" fill="#239a4c"/>
<circle cx="456.8" cy="164.7" r="1.1" fill="#239a4c"/>
<circle cx="456.3" cy="168.2" r="1.1" fill="#239a4c"/>
<circle cx="448.1" cy="152.4" r="1.1" fill="#239a4c"/>
<circle cx="459.7" cy="159.5" r="1.1" fill="#239a4c"/>
<circle cx="457.8" cy="161.3" r="1.1" fill="#239a4c"/>
<circle cx="457.9" cy="168.1" r="1.1" fill="#239a4c"/>
<circle cx="449.3" cy="156.5" r="1.1" fill="#239a4c"/>
<circle cx="460.4" cy="156.5" r="1.1" fill="#239a4c"/>
<circle cx="448.3" cy="171.4" r="1.1" fill="#239a4c"/>
<circle cx="452.0" cy="182.4" r="1.1" fill="#239a4c"/>
<circle cx="450.1" cy="171.1" r="1.1" fill="#239a4c"/>
<circle cx="460.0" cy="170.6" r="1.1" fill="#239a4c"/>
<circle cx="449.6" cy="160.6" r="1.1" fill="#239a4c"/>
<circle cx="456.9" cy="168.9" r="1.1" fill="#239a4c"/>
<circle cx="454.5" cy="172.7" r="1.1" fill="#239a4c"/>
<circle cx="453.1" cy="158.2" r="1.1" fill="#239a4c"/>
<circle cx="454.0" cy="160.2" r="1.1" fill="#239a4c"/>
<circle cx="457.8" cy="163.5" r="1.1" fill="#239a4c"/>
<circle cx="455.2" cy="174.5" r="1.1" fill="#239a4c"/>
<circle cx="459.9" cy="158.7" r="1.1" fill="#239a4c"/>
<line x1="454.5" y1="170.75" x2="454.5" y2="157.24" stroke="#239a4c" stroke-width="0.9"/>
<line x1="451.1" y1="157.5" x2="458.1" y2="157.5" stroke="#239a4c" stroke-width="0.9"/>
<line x1="451.1" y1="170.5" x2="458.1" y2="170.5" stroke="#239a4c" stroke-width="0.9"/>
<line x1="454.5" y1="216.1" x2="454.5" y2="218.8" stroke="#000" stroke-width="0.9"/>
<text x="454.6" y="224.8" font-size="6.4" text-anchor="middle">II</text>
<text x="454" y="232.48" font-size="6.6" text-anchor="middle"><tspan font-style="italic">n</tspan> = 28</text>
<rect x="474.2" y="152.41" width="19.2" height="63.69" fill="none" stroke="#4257a8" stroke-width="1.1"/>
<circle cx="480.7" cy="153.6" r="1.1" fill="#4257a8"/>
<circle cx="479.9" cy="153.8" r="1.1" fill="#4257a8"/>
<circle cx="489.3" cy="153.4" r="1.1" fill="#4257a8"/>
<circle cx="478.0" cy="164.5" r="1.1" fill="#4257a8"/>
<circle cx="479.9" cy="154.2" r="1.1" fill="#4257a8"/>
<circle cx="483.9" cy="151.5" r="1.1" fill="#4257a8"/>
<circle cx="485.9" cy="147.1" r="1.1" fill="#4257a8"/>
<circle cx="484.4" cy="151.5" r="1.1" fill="#4257a8"/>
<circle cx="488.1" cy="150.4" r="1.1" fill="#4257a8"/>
<circle cx="476.9" cy="141.8" r="1.1" fill="#4257a8"/>
<circle cx="481.6" cy="148.1" r="1.1" fill="#4257a8"/>
<circle cx="479.0" cy="164.2" r="1.1" fill="#4257a8"/>
<circle cx="478.1" cy="145.3" r="1.1" fill="#4257a8"/>
<circle cx="478.2" cy="154.4" r="1.1" fill="#4257a8"/>
<circle cx="488.1" cy="146.1" r="1.1" fill="#4257a8"/>
<circle cx="487.0" cy="161.4" r="1.1" fill="#4257a8"/>
<circle cx="482.1" cy="173.6" r="1.1" fill="#4257a8"/>
<circle cx="484.5" cy="157.3" r="1.1" fill="#4257a8"/>
<circle cx="488.9" cy="147.0" r="1.1" fill="#4257a8"/>
<line x1="483.5" y1="160.13" x2="483.5" y2="144.69" stroke="#4257a8" stroke-width="0.9"/>
<line x1="480.3" y1="144.5" x2="487.3" y2="144.5" stroke="#4257a8" stroke-width="0.9"/>
<line x1="480.3" y1="160.5" x2="487.3" y2="160.5" stroke="#4257a8" stroke-width="0.9"/>
<line x1="483.5" y1="216.1" x2="483.5" y2="218.8" stroke="#000" stroke-width="0.9"/>
<text x="483.8" y="224.8" font-size="6.4" text-anchor="middle">III</text>
<text x="483.2" y="232.48" font-size="6.6" text-anchor="middle"><tspan font-style="italic">n</tspan> = 19</text>
<text x="455.3" y="240.42" font-size="7" text-anchor="middle">Tumor grade</text>
<polyline points="425.8,144.3 425.8,141.5 454.6,141.5 454.6,144.3" fill="none" stroke="#000" stroke-width="0.8"/>
<text x="440.2" y="141.73" font-size="6.2" text-anchor="middle" stroke-width="0.35">***</text>
<polyline points="454.6,133.5 454.6,130.7 483.8,130.7 483.8,133.5" fill="none" stroke="#000" stroke-width="0.8"/>
<text x="469.2" y="130.93" font-size="6.2" text-anchor="middle" stroke-width="0.35">***</text>
<text x="3.6" y="247.8" font-size="12.5" font-weight="bold">F</text>
<text x="34.3" y="246.24" font-size="6.5">HepG2</text>
<line x1="48.5" y1="251.5" x2="48.5" y2="346.4" stroke="#000" stroke-width="0.9"/>
<line x1="48.2" y1="346.5" x2="108.8" y2="346.5" stroke="#000" stroke-width="0.9"/>
<line x1="45.6" y1="346.5" x2="48.2" y2="346.5" stroke="#000" stroke-width="0.9"/>
<text x="44.8" y="348.64" font-size="6.5" text-anchor="end">0</text>
<line x1="45.6" y1="322.5" x2="48.2" y2="322.5" stroke="#000" stroke-width="0.9"/>
<text x="44.8" y="325.04" font-size="6.5" text-anchor="end">20</text>
<line x1="45.6" y1="299.5" x2="48.2" y2="299.5" stroke="#000" stroke-width="0.9"/>
<text x="44.8" y="301.44" font-size="6.5" text-anchor="end">40</text>
<line x1="45.6" y1="275.5" x2="48.2" y2="275.5" stroke="#000" stroke-width="0.9"/>
<text x="44.8" y="277.84" font-size="6.5" text-anchor="end">60</text>
<line x1="45.6" y1="251.5" x2="48.2" y2="251.5" stroke="#000" stroke-width="0.9"/>
<text x="44.8" y="254.24" font-size="6.5" text-anchor="end">80</text>
<text transform="translate(27.7,294.8) rotate(-90)" x="0" y="2.48" font-size="6.9" text-anchor="middle">EdU positive cells (%)</text>
<rect x="52.9" y="280.22" width="10.6" height="66.08" fill="none" stroke="#e3343f" stroke-width="1.1"/>
<line x1="58.5" y1="280.22" x2="58.5" y2="272.55" stroke="#e3343f" stroke-width="1.1"/>
<line x1="55.4" y1="272.5" x2="61" y2="272.5" stroke="#e3343f" stroke-width="1.1"/>
<rect x="73.6" y="307.36" width="10.6" height="38.94" fill="none" stroke="#1a1a1a" stroke-width="1.1"/>
<line x1="78.5" y1="307.36" x2="78.5" y2="303.82" stroke="#1a1a1a" stroke-width="1.1"/>
<line x1="76.1" y1="303.5" x2="81.7" y2="303.5" stroke="#1a1a1a" stroke-width="1.1"/>
<rect x="94.1" y="320.34" width="10.6" height="25.96" fill="none" stroke="#4257a8" stroke-width="1.1"/>
<line x1="99.5" y1="320.34" x2="99.5" y2="316.8" stroke="#4257a8" stroke-width="1.1"/>
<line x1="96.6" y1="316.5" x2="102.2" y2="316.5" stroke="#4257a8" stroke-width="1.1"/>
<polyline points="58.2,270.6 58.2,267.8 78.7,267.8 78.7,270.6" fill="none" stroke="#000" stroke-width="0.8"/>
<text x="68.5" y="268.13" font-size="6.2" text-anchor="middle" stroke-width="0.35">*</text>
<polyline points="58.2,264.2 58.2,261.4 99.4,261.4 99.4,264.2" fill="none" stroke="#000" stroke-width="0.8"/>
<text x="78.8" y="261.73" font-size="6.2" text-anchor="middle" stroke-width="0.35">**</text>
<line x1="58.5" y1="346.4" x2="58.5" y2="348.8" stroke="#000" stroke-width="0.9"/>
<line x1="78.5" y1="346.4" x2="78.5" y2="348.8" stroke="#000" stroke-width="0.9"/>
<line x1="99.5" y1="346.4" x2="99.5" y2="348.8" stroke="#000" stroke-width="0.9"/>
<text transform="translate(60.5,349.2) rotate(-45)" font-size="6.6" text-anchor="end"><tspan x="0" y="4.75">siNC</tspan></text>
<text transform="translate(80.2,349.2) rotate(-45)" font-size="6.6" text-anchor="end"><tspan x="0" y="4.75">siHSPA8</tspan><tspan x="0" y="11.35">–50 nmol/L</tspan></text>
<text transform="translate(100.5,349.2) rotate(-45)" font-size="6.6" text-anchor="end"><tspan x="0" y="4.75">siHSPA8</tspan><tspan x="0" y="11.35">–100 nmol/L</tspan></text>
<text x="108.2" y="247.8" font-size="12.5" font-weight="bold">G</text>
<text x="122.6" y="246.24" font-size="6.5">HepG2</text>
<line x1="141.5" y1="253.5" x2="141.5" y2="344.9" stroke="#000" stroke-width="0.9"/>
<line x1="141.7" y1="344.5" x2="203.6" y2="344.5" stroke="#000" stroke-width="0.9"/>
<line x1="139.1" y1="344.5" x2="141.7" y2="344.5" stroke="#000" stroke-width="0.9"/>
<text x="138.3" y="347.24" font-size="6.5" text-anchor="end">0</text>
<line x1="139.1" y1="322.5" x2="141.7" y2="322.5" stroke="#000" stroke-width="0.9"/>
<text x="138.3" y="324.54" font-size="6.5" text-anchor="end">100</text>
<line x1="139.1" y1="299.5" x2="141.7" y2="299.5" stroke="#000" stroke-width="0.9"/>
<text x="138.3" y="301.84" font-size="6.5" text-anchor="end">200</text>
<line x1="139.1" y1="276.5" x2="141.7" y2="276.5" stroke="#000" stroke-width="0.9"/>
<text x="138.3" y="279.14" font-size="6.5" text-anchor="end">300</text>
<line x1="139.1" y1="254.5" x2="141.7" y2="254.5" stroke="#000" stroke-width="0.9"/>
<text x="138.3" y="256.44" font-size="6.5" text-anchor="end">400</text>
<text transform="translate(119.2,299.7) rotate(-90)" x="0" y="2.45" font-size="6.8" text-anchor="middle">Numbers of colonies</text>
<rect x="146.1" y="265" width="10.6" height="79.9" fill="none" stroke="#e3343f" stroke-width="1.1"/>
<line x1="151.5" y1="265" x2="151.5" y2="260.46" stroke="#e3343f" stroke-width="1.1"/>
<line x1="148.6" y1="260.5" x2="154.2" y2="260.5" stroke="#e3343f" stroke-width="1.1"/>
<rect x="166.6" y="290.42" width="10.6" height="54.48" fill="none" stroke="#1a1a1a" stroke-width="1.1"/>
<line x1="171.5" y1="290.42" x2="171.5" y2="287.01" stroke="#1a1a1a" stroke-width="1.1"/>
<line x1="169.1" y1="287.5" x2="174.7" y2="287.5" stroke="#1a1a1a" stroke-width="1.1"/>
<rect x="186.7" y="302.9" width="11.7" height="42" fill="none" stroke="#4257a8" stroke-width="1.1"/>
<line x1="192.5" y1="302.9" x2="192.5" y2="296.78" stroke="#4257a8" stroke-width="1.1"/>
<line x1="189.75" y1="296.5" x2="195.35" y2="296.5" stroke="#4257a8" stroke-width="1.1"/>
<polyline points="150.8,257.9 150.8,255.1 173,255.1 173,257.9" fill="none" stroke="#000" stroke-width="0.8"/>
<text x="162" y="255.43" font-size="6.2" text-anchor="middle" stroke-width="0.35">*</text>
<polyline points="150.8,251.6 150.8,248.8 193.1,248.8 193.1,251.6" fill="none" stroke="#000" stroke-width="0.8"/>
<text x="172" y="249.13" font-size="6.2" text-anchor="middle" stroke-width="0.35">**</text>
<line x1="151.5" y1="344.9" x2="151.5" y2="347.3" stroke="#000" stroke-width="0.9"/>
<line x1="171.5" y1="344.9" x2="171.5" y2="347.3" stroke="#000" stroke-width="0.9"/>
<line x1="192.5" y1="344.9" x2="192.5" y2="347.3" stroke="#000" stroke-width="0.9"/>
<text transform="translate(153.7,347.8) rotate(-45)" font-size="6.6" text-anchor="end"><tspan x="0" y="4.75">siNC</tspan></text>
<text transform="translate(173.4,347.8) rotate(-45)" font-size="6.6" text-anchor="end"><tspan x="0" y="4.75">siHSPA8</tspan><tspan x="0" y="11.35">–50 nmol/L</tspan></text>
<text transform="translate(194,347.8) rotate(-45)" font-size="6.6" text-anchor="end"><tspan x="0" y="4.75">siHSPA8</tspan><tspan x="0" y="11.35">–100 nmol/L</tspan></text>
<text x="212.3" y="248.2" font-size="12.5" font-weight="bold">H</text>
<rect x="245.2" y="277.4" width="127.5" height="64.1" fill="#acb4b1"/>
<text x="243.3" y="275.18" font-size="6.9" text-anchor="end">Mouse</text>
<text x="260.6" y="274.98" font-size="6.9" text-anchor="middle">1</text>
<text x="279.8" y="274.98" font-size="6.9" text-anchor="middle">2</text>
<text x="299.2" y="274.98" font-size="6.9" text-anchor="middle">3</text>
<text x="318.5" y="274.98" font-size="6.9" text-anchor="middle">4</text>
<text x="338.7" y="274.98" font-size="6.9" text-anchor="middle">5</text>
<text x="356.9" y="274.98" font-size="6.9" text-anchor="middle">6</text>
<text x="243.3" y="291.48" font-size="6.9" text-anchor="end">siNC</text>
<text x="243.3" y="310.78" font-size="6.9" text-anchor="end">siNC + Az</text>
<text x="243.3" y="334.48" font-size="6.9" text-anchor="end">siHSPA8</text>
<filter id="tb" x="-30%" y="-30%" width="160%" height="160%"><feGaussianBlur stdDeviation="0.75"/></filter>
<g filter="url(#tb)"><circle cx="259.0" cy="290.7" r="3.6" fill="#c4928a"/><circle cx="259.2" cy="289.9" r="2.9" fill="#c4928a"/><circle cx="259.5" cy="287.0" r="3.2" fill="#b8847a"/><circle cx="256.9" cy="286.9" r="2.9" fill="#b8847a"/><circle cx="257.0" cy="287.3" r="3.7" fill="#bc8a80"/><circle cx="255.8" cy="290.0" r="2.7" fill="#bc8a80"/><circle cx="255.8" cy="286.5" r="1.9" fill="#9a625a"/><circle cx="258.7" cy="290.7" r="1.3" fill="#9a625a"/><circle cx="256.6" cy="290.8" r="1.6" fill="#9a625a"/><circle cx="276.2" cy="291.1" r="3.1" fill="#c4928a"/><circle cx="277.0" cy="287.6" r="2.7" fill="#c4928a"/><circle cx="276.8" cy="290.5" r="3.3" fill="#cc9e94"/><circle cx="275.5" cy="288.4" r="2.9" fill="#cc9e94"/><circle cx="276.1" cy="288.9" r="2.8" fill="#cc9e94"/><circle cx="280.1" cy="286.9" r="3.6" fill="#bc8a80"/><circle cx="275.5" cy="290.3" r="1.4" fill="#e6c4b4"/><circle cx="277.5" cy="290.0" r="1.6" fill="#9a625a"/><circle cx="276.0" cy="287.9" r="1.8" fill="#8a5650"/><circle cx="298.9" cy="289.2" r="2.5" fill="#cc9e94"/><circle cx="300.4" cy="286.1" r="3.6" fill="#c4928a"/><circle cx="297.4" cy="288.1" r="2.8" fill="#b8847a"/><circle cx="298.0" cy="289.8" r="3.0" fill="#cc9e94"/><circle cx="299.6" cy="287.3" r="3.4" fill="#b8847a"/><circle cx="299.8" cy="287.3" r="3.0" fill="#c4928a"/><circle cx="297.0" cy="288.5" r="1.8" fill="#e6c4b4"/><circle cx="297.7" cy="288.5" r="1.7" fill="#8a5650"/><circle cx="299.4" cy="286.6" r="1.8" fill="#e6c4b4"/><circle cx="317.6" cy="290.0" r="3.1" fill="#b8847a"/><circle cx="319.6" cy="289.2" r="2.5" fill="#bc8a80"/><circle cx="318.4" cy="286.2" r="2.9" fill="#b8847a"/><circle cx="318.8" cy="290.1" r="3.4" fill="#bc8a80"/><circle cx="321.1" cy="288.8" r="2.8" fill="#cc9e94"/><circle cx="318.0" cy="287.6" r="2.5" fill="#bc8a80"/><circle cx="320.3" cy="288.2" r="1.2" fill="#8a5650"/><circle cx="320.5" cy="286.7" r="1.4" fill="#dcb4a4"/><circle cx="317.2" cy="289.3" r="1.3" fill="#e6c4b4"/><circle cx="339.6" cy="287.2" r="3.0" fill="#cc9e94"/><circle cx="340.8" cy="287.4" r="2.6" fill="#c4928a"/><circle cx="338.5" cy="289.2" r="2.8" fill="#cc9e94"/><circle cx="338.4" cy="289.4" r="3.2" fill="#cc9e94"/><circle cx="337.9" cy="288.7" r="3.4" fill="#bc8a80"/><circle cx="337.9" cy="289.5" r="3.5" fill="#bc8a80"/><circle cx="340.6" cy="290.0" r="1.5" fill="#9a625a"/><circle cx="337.3" cy="287.5" r="1.7" fill="#dcb4a4"/><circle cx="339.4" cy="289.0" r="1.6" fill="#9a625a"/><circle cx="357.2" cy="291.2" r="3.3" fill="#cc9e94"/><circle cx="358.3" cy="286.6" r="3.1" fill="#bc8a80"/><circle cx="357.8" cy="287.4" r="4.0" fill="#b8847a"/><circle cx="357.8" cy="286.7" r="3.6" fill="#b8847a"/><circle cx="355.2" cy="291.0" r="3.0" fill="#b8847a"/><circle cx="357.0" cy="289.2" r="3.5" fill="#cc9e94"/><circle cx="356.5" cy="289.6" r="1.8" fill="#9a625a"/><circle cx="358.2" cy="288.4" r="1.6" fill="#dcb4a4"/><circle cx="358.9" cy="290.8" r="1.9" fill="#dcb4a4"/><circle cx="257.1" cy="308.3" r="2.9" fill="#cc9e94"/><circle cx="260.1" cy="310.4" r="2.8" fill="#cc9e94"/><circle cx="257.9" cy="307.7" r="2.7" fill="#bc8a80"/><circle cx="260.1" cy="311.0" r="3.0" fill="#cc9e94"/><circle cx="259.5" cy="309.7" r="2.7" fill="#cc9e94"/><circle cx="258.3" cy="309.5" r="2.4" fill="#bc8a80"/><circle cx="257.8" cy="311.0" r="1.4" fill="#8a5650"/><circle cx="259.9" cy="308.6" r="1.7" fill="#9a625a"/><circle cx="258.4" cy="308.1" r="1.7" fill="#8a5650"/><circle cx="279.7" cy="307.5" r="3.3" fill="#b8847a"/><circle cx="277.7" cy="306.8" r="2.9" fill="#bc8a80"/><circle cx="276.7" cy="306.5" r="2.3" fill="#bc8a80"/><circle cx="275.7" cy="308.4" r="2.5" fill="#bc8a80"/><circle cx="279.0" cy="307.3" r="2.5" fill="#b8847a"/><circle cx="278.8" cy="307.4" r="2.8" fill="#bc8a80"/><circle cx="277.9" cy="309.6" r="1.6" fill="#e6c4b4"/><circle cx="275.9" cy="306.8" r="1.2" fill="#dcb4a4"/><circle cx="278.2" cy="309.1" r="1.0" fill="#dcb4a4"/><circle cx="299.2" cy="307.6" r="2.5" fill="#bc8a80"/><circle cx="299.6" cy="307.9" r="3.0" fill="#b8847a"/><circle cx="296.6" cy="310.5" r="2.7" fill="#bc8a80"/><circle cx="300.4" cy="310.7" r="2.8" fill="#b8847a"/><circle cx="300.5" cy="309.3" r="3.1" fill="#cc9e94"/><circle cx="300.3" cy="310.2" r="2.7" fill="#cc9e94"/><circle cx="299.4" cy="309.3" r="1.2" fill="#9a625a"/><circle cx="298.7" cy="309.6" r="1.3" fill="#dcb4a4"/><circle cx="298.9" cy="309.1" r="1.4" fill="#e6c4b4"/><circle cx="319.2" cy="309.7" r="3.0" fill="#c4928a"/><circle cx="317.1" cy="308.3" r="2.3" fill="#bc8a80"/><circle cx="318.7" cy="306.8" r="3.2" fill="#b8847a"/><circle cx="318.3" cy="309.8" r="2.3" fill="#b8847a"/><circle cx="320.0" cy="309.4" r="2.7" fill="#b8847a"/><circle cx="318.3" cy="308.2" r="2.4" fill="#b8847a"/><circle cx="316.0" cy="307.0" r="1.3" fill="#e6c4b4"/><circle cx="316.9" cy="308.8" r="1.1" fill="#8a5650"/><circle cx="319.3" cy="307.1" r="1.3" fill="#dcb4a4"/><circle cx="337.9" cy="309.6" r="3.2" fill="#b8847a"/><circle cx="339.3" cy="307.7" r="2.9" fill="#cc9e94"/><circle cx="340.2" cy="309.2" r="2.8" fill="#cc9e94"/><circle cx="336.6" cy="308.0" r="3.1" fill="#cc9e94"/><circle cx="338.6" cy="307.6" r="2.4" fill="#cc9e94"/><circle cx="338.3" cy="308.6" r="2.3" fill="#c4928a"/><circle cx="339.1" cy="307.4" r="1.4" fill="#e6c4b4"/><circle cx="339.9" cy="309.0" r="1.3" fill="#8a5650"/><circle cx="339.9" cy="308.9" r="1.2" fill="#e6c4b4"/><circle cx="358.5" cy="310.5" r="2.7" fill="#b8847a"/><circle cx="358.0" cy="307.2" r="3.3" fill="#bc8a80"/><circle cx="358.4" cy="307.4" r="2.9" fill="#cc9e94"/><circle cx="358.4" cy="308.0" r="3.3" fill="#cc9e94"/><circle cx="358.2" cy="308.3" r="3.0" fill="#cc9e94"/><circle cx="357.6" cy="310.0" r="2.7" fill="#cc9e94"/><circle cx="357.0" cy="309.2" r="1.4" fill="#9a625a"/><circle cx="356.6" cy="307.3" r="1.0" fill="#9a625a"/><circle cx="355.8" cy="308.8" r="1.6" fill="#dcb4a4"/><circle cx="258.0" cy="332.0" r="2.4" fill="#bc8a80"/><circle cx="256.4" cy="330.5" r="2.6" fill="#c4928a"/><circle cx="256.0" cy="331.2" r="2.9" fill="#b8847a"/><circle cx="256.7" cy="330.2" r="2.8" fill="#cc9e94"/><circle cx="257.2" cy="329.9" r="2.9" fill="#cc9e94"/><circle cx="258.1" cy="331.1" r="2.9" fill="#c4928a"/><circle cx="257.1" cy="331.5" r="1.5" fill="#e6c4b4"/><circle cx="257.5" cy="330.9" r="1.2" fill="#9a625a"/><circle cx="257.3" cy="330.4" r="1.0" fill="#e6c4b4"/><circle cx="278.8" cy="333.3" r="2.8" fill="#cc9e94"/><circle cx="277.1" cy="331.4" r="2.1" fill="#bc8a80"/><circle cx="277.0" cy="330.9" r="2.7" fill="#c4928a"/><circle cx="278.9" cy="331.6" r="3.1" fill="#c4928a"/><circle cx="278.2" cy="331.7" r="2.7" fill="#b8847a"/><circle cx="276.5" cy="332.0" r="3.1" fill="#cc9e94"/><circle cx="279.9" cy="332.6" r="1.0" fill="#8a5650"/><circle cx="276.9" cy="331.7" r="1.3" fill="#e6c4b4"/><circle cx="278.3" cy="332.8" r="0.9" fill="#8a5650"/><circle cx="300.3" cy="333.3" r="2.0" fill="#bc8a80"/><circle cx="297.8" cy="331.0" r="2.8" fill="#c4928a"/><circle cx="297.4" cy="333.4" r="2.0" fill="#c4928a"/><circle cx="300.2" cy="330.9" r="1.9" fill="#cc9e94"/><circle cx="298.9" cy="332.1" r="2.2" fill="#b8847a"/><circle cx="299.7" cy="333.2" r="2.2" fill="#bc8a80"/><circle cx="300.2" cy="333.5" r="1.2" fill="#9a625a"/><circle cx="298.3" cy="330.5" r="1.3" fill="#8a5650"/><circle cx="298.3" cy="330.6" r="0.9" fill="#9a625a"/><circle cx="320.1" cy="332.5" r="1.6" fill="#bc8a80"/><circle cx="319.4" cy="331.0" r="1.5" fill="#cc9e94"/><circle cx="319.9" cy="333.0" r="1.5" fill="#cc9e94"/><circle cx="318.5" cy="332.7" r="1.4" fill="#cc9e94"/><circle cx="319.2" cy="332.7" r="1.8" fill="#bc8a80"/><circle cx="317.8" cy="332.5" r="2.0" fill="#c4928a"/><circle cx="319.4" cy="332.6" r="0.7" fill="#8a5650"/><circle cx="319.0" cy="331.6" r="0.8" fill="#9a625a"/><circle cx="318.2" cy="332.5" r="0.8" fill="#e6c4b4"/><circle cx="336.9" cy="331.0" r="2.3" fill="#cc9e94"/><circle cx="338.1" cy="331.3" r="2.3" fill="#c4928a"/><circle cx="337.5" cy="331.8" r="1.8" fill="#cc9e94"/><circle cx="337.8" cy="331.1" r="2.0" fill="#b8847a"/><circle cx="338.9" cy="330.9" r="1.9" fill="#b8847a"/><circle cx="338.7" cy="331.0" r="2.1" fill="#bc8a80"/><circle cx="339.0" cy="331.0" r="0.8" fill="#9a625a"/><circle cx="338.2" cy="331.8" r="0.9" fill="#9a625a"/><circle cx="338.4" cy="333.2" r="1.0" fill="#e6c4b4"/><circle cx="356.9" cy="331.4" r="1.5" fill="#b8847a"/><circle cx="356.2" cy="333.2" r="1.9" fill="#b8847a"/><circle cx="355.4" cy="333.0" r="1.8" fill="#cc9e94"/><circle cx="357.1" cy="332.9" r="1.8" fill="#b8847a"/><circle cx="357.3" cy="332.6" r="2.3" fill="#c4928a"/><circle cx="356.7" cy="331.9" r="1.7" fill="#b8847a"/><circle cx="356.3" cy="330.9" r="0.8" fill="#e6c4b4"/><circle cx="357.0" cy="331.6" r="1.1" fill="#dcb4a4"/><circle cx="356.2" cy="332.1" r="1.0" fill="#e6c4b4"/></g>
<text x="389.5" y="247.5" font-size="12.5" font-weight="bold">I</text>
<text x="404.2" y="253.48" font-size="6.9">Mouse</text>
<line x1="416.5" y1="259.5" x2="416.5" y2="342.6" stroke="#000" stroke-width="0.9"/>
<line x1="416" y1="342.5" x2="507.3" y2="342.5" stroke="#000" stroke-width="0.9"/>
<line x1="413.4" y1="342.5" x2="416" y2="342.5" stroke="#000" stroke-width="0.9"/>
<text x="412.6" y="344.94" font-size="6.5" text-anchor="end">0</text>
<line x1="413.4" y1="329.5" x2="416" y2="329.5" stroke="#000" stroke-width="0.9"/>
<text x="412.6" y="331.34" font-size="6.5" text-anchor="end">150</text>
<line x1="413.4" y1="315.5" x2="416" y2="315.5" stroke="#000" stroke-width="0.9"/>
<text x="412.6" y="317.74" font-size="6.5" text-anchor="end">300</text>
<line x1="413.4" y1="301.5" x2="416" y2="301.5" stroke="#000" stroke-width="0.9"/>
<text x="412.6" y="304.14" font-size="6.5" text-anchor="end">450</text>
<line x1="413.4" y1="288.5" x2="416" y2="288.5" stroke="#000" stroke-width="0.9"/>
<text x="412.6" y="290.54" font-size="6.5" text-anchor="end">600</text>
<line x1="413.4" y1="274.5" x2="416" y2="274.5" stroke="#000" stroke-width="0.9"/>
<text x="412.6" y="276.94" font-size="6.5" text-anchor="end">750</text>
<line x1="413.4" y1="261.5" x2="416" y2="261.5" stroke="#000" stroke-width="0.9"/>
<text x="412.6" y="263.34" font-size="6.5" text-anchor="end">900</text>
<line x1="424.5" y1="342.6" x2="424.5" y2="345.2" stroke="#000" stroke-width="0.9"/>
<text x="424.2" y="351.34" font-size="6.5" text-anchor="middle">5</text>
<line x1="440.5" y1="342.6" x2="440.5" y2="345.2" stroke="#000" stroke-width="0.9"/>
<text x="440.2" y="351.34" font-size="6.5" text-anchor="middle">10</text>
<line x1="456.5" y1="342.6" x2="456.5" y2="345.2" stroke="#000" stroke-width="0.9"/>
<text x="456.2" y="351.34" font-size="6.5" text-anchor="middle">15</text>
<line x1="472.5" y1="342.6" x2="472.5" y2="345.2" stroke="#000" stroke-width="0.9"/>
<text x="472.2" y="351.34" font-size="6.5" text-anchor="middle">20</text>
<line x1="488.5" y1="342.6" x2="488.5" y2="345.2" stroke="#000" stroke-width="0.9"/>
<text x="488.2" y="351.34" font-size="6.5" text-anchor="middle">25</text>
<line x1="504.5" y1="342.6" x2="504.5" y2="345.2" stroke="#000" stroke-width="0.9"/>
<text x="504.2" y="351.34" font-size="6.5" text-anchor="middle">30</text>
<text x="464.6" y="359.52" font-size="7" text-anchor="middle" stroke-width="0.3">Days after injection</text>
<text transform="translate(394.3,299.6) rotate(-90)" x="0" y="2.52" font-size="7" text-anchor="middle">Tumor volume (mm<tspan font-size="4.6" dy="-2.2">3</tspan><tspan dy="2.2">)</tspan></text>
<polyline points="424.2,342.15 440.2,338.52 456.2,335.35 472.2,331.27 488.2,326.73 504.2,323.56" fill="none" stroke="#5a2d8a" stroke-width="1"/>
<line x1="424.5" y1="342.6" x2="424.5" y2="341.69" stroke="#5a2d8a" stroke-width="0.9"/>
<line x1="422.2" y1="341.5" x2="426.2" y2="341.5" stroke="#5a2d8a" stroke-width="0.9"/>
<line x1="422.2" y1="342.5" x2="426.2" y2="342.5" stroke="#5a2d8a" stroke-width="0.9"/>
<line x1="440.5" y1="340.33" x2="440.5" y2="336.71" stroke="#5a2d8a" stroke-width="0.9"/>
<line x1="438.2" y1="336.5" x2="442.2" y2="336.5" stroke="#5a2d8a" stroke-width="0.9"/>
<line x1="438.2" y1="340.5" x2="442.2" y2="340.5" stroke="#5a2d8a" stroke-width="0.9"/>
<line x1="456.5" y1="338.52" x2="456.5" y2="332.17" stroke="#5a2d8a" stroke-width="0.9"/>
<line x1="454.2" y1="332.5" x2="458.2" y2="332.5" stroke="#5a2d8a" stroke-width="0.9"/>
<line x1="454.2" y1="338.5" x2="458.2" y2="338.5" stroke="#5a2d8a" stroke-width="0.9"/>
<line x1="472.5" y1="335.8" x2="472.5" y2="326.73" stroke="#5a2d8a" stroke-width="0.9"/>
<line x1="470.2" y1="326.5" x2="474.2" y2="326.5" stroke="#5a2d8a" stroke-width="0.9"/>
<line x1="470.2" y1="335.5" x2="474.2" y2="335.5" stroke="#5a2d8a" stroke-width="0.9"/>
<line x1="488.5" y1="333.53" x2="488.5" y2="319.93" stroke="#5a2d8a" stroke-width="0.9"/>
<line x1="486.2" y1="319.5" x2="490.2" y2="319.5" stroke="#5a2d8a" stroke-width="0.9"/>
<line x1="486.2" y1="333.5" x2="490.2" y2="333.5" stroke="#5a2d8a" stroke-width="0.9"/>
<line x1="504.5" y1="331.27" x2="504.5" y2="315.85" stroke="#5a2d8a" stroke-width="0.9"/>
<line x1="502.2" y1="315.5" x2="506.2" y2="315.5" stroke="#5a2d8a" stroke-width="0.9"/>
<line x1="502.2" y1="331.5" x2="506.2" y2="331.5" stroke="#5a2d8a" stroke-width="0.9"/>
<path d="M424.2,339.6 L426.6,343.9 L421.8,343.9 Z" fill="#5a2d8a"/>
<path d="M440.2,336.0 L442.6,340.2 L437.8,340.2 Z" fill="#5a2d8a"/>
<path d="M456.2,332.8 L458.6,337.1 L453.8,337.1 Z" fill="#5a2d8a"/>
<path d="M472.2,328.7 L474.6,333.0 L469.8,333.0 Z" fill="#5a2d8a"/>
<path d="M488.2,324.2 L490.6,328.5 L485.8,328.5 Z" fill="#5a2d8a"/>
<path d="M504.2,321.0 L506.6,325.3 L501.8,325.3 Z" fill="#5a2d8a"/>
<polyline points="424.2,338.97 440.2,333.53 456.2,325.37 472.2,313.59 488.2,306.33 504.2,299.99" fill="none" stroke="#c9c93c" stroke-width="1"/>
<line x1="424.5" y1="339.88" x2="424.5" y2="338.07" stroke="#c9c93c" stroke-width="0.9"/>
<line x1="422.2" y1="338.5" x2="426.2" y2="338.5" stroke="#c9c93c" stroke-width="0.9"/>
<line x1="422.2" y1="339.5" x2="426.2" y2="339.5" stroke="#c9c93c" stroke-width="0.9"/>
<line x1="440.5" y1="336.25" x2="440.5" y2="330.81" stroke="#c9c93c" stroke-width="0.9"/>
<line x1="438.2" y1="330.5" x2="442.2" y2="330.5" stroke="#c9c93c" stroke-width="0.9"/>
<line x1="438.2" y1="336.5" x2="442.2" y2="336.5" stroke="#c9c93c" stroke-width="0.9"/>
<line x1="456.5" y1="330.81" x2="456.5" y2="319.93" stroke="#c9c93c" stroke-width="0.9"/>
<line x1="454.2" y1="319.5" x2="458.2" y2="319.5" stroke="#c9c93c" stroke-width="0.9"/>
<line x1="454.2" y1="330.5" x2="458.2" y2="330.5" stroke="#c9c93c" stroke-width="0.9"/>
<line x1="472.5" y1="320.84" x2="472.5" y2="306.33" stroke="#c9c93c" stroke-width="0.9"/>
<line x1="470.2" y1="306.5" x2="474.2" y2="306.5" stroke="#c9c93c" stroke-width="0.9"/>
<line x1="470.2" y1="320.5" x2="474.2" y2="320.5" stroke="#c9c93c" stroke-width="0.9"/>
<line x1="488.5" y1="315.4" x2="488.5" y2="297.27" stroke="#c9c93c" stroke-width="0.9"/>
<line x1="486.2" y1="297.5" x2="490.2" y2="297.5" stroke="#c9c93c" stroke-width="0.9"/>
<line x1="486.2" y1="315.5" x2="490.2" y2="315.5" stroke="#c9c93c" stroke-width="0.9"/>
<line x1="504.5" y1="310.41" x2="504.5" y2="289.56" stroke="#c9c93c" stroke-width="0.9"/>
<line x1="502.2" y1="289.5" x2="506.2" y2="289.5" stroke="#c9c93c" stroke-width="0.9"/>
<line x1="502.2" y1="310.5" x2="506.2" y2="310.5" stroke="#c9c93c" stroke-width="0.9"/>
<rect x="422.2" y="337.0" width="3.9" height="3.9" fill="#c9c93c"/>
<rect x="438.2" y="331.6" width="3.9" height="3.9" fill="#c9c93c"/>
<rect x="454.2" y="323.4" width="3.9" height="3.9" fill="#c9c93c"/>
<rect x="470.2" y="311.6" width="3.9" height="3.9" fill="#c9c93c"/>
<rect x="486.2" y="304.4" width="3.9" height="3.9" fill="#c9c93c"/>
<rect x="502.2" y="298.0" width="3.9" height="3.9" fill="#c9c93c"/>
<polyline points="424.2,338.97 440.2,327.64 456.2,314.95 472.2,306.79 488.2,287.29 504.2,277.32" fill="none" stroke="#5bad4e" stroke-width="1"/>
<line x1="424.5" y1="340.06" x2="424.5" y2="337.89" stroke="#5bad4e" stroke-width="0.9"/>
<line x1="422.2" y1="337.5" x2="426.2" y2="337.5" stroke="#5bad4e" stroke-width="0.9"/>
<line x1="422.2" y1="340.5" x2="426.2" y2="340.5" stroke="#5bad4e" stroke-width="0.9"/>
<line x1="440.5" y1="331.72" x2="440.5" y2="323.56" stroke="#5bad4e" stroke-width="0.9"/>
<line x1="438.2" y1="323.5" x2="442.2" y2="323.5" stroke="#5bad4e" stroke-width="0.9"/>
<line x1="438.2" y1="331.5" x2="442.2" y2="331.5" stroke="#5bad4e" stroke-width="0.9"/>
<line x1="456.5" y1="321.29" x2="456.5" y2="308.6" stroke="#5bad4e" stroke-width="0.9"/>
<line x1="454.2" y1="308.5" x2="458.2" y2="308.5" stroke="#5bad4e" stroke-width="0.9"/>
<line x1="454.2" y1="321.5" x2="458.2" y2="321.5" stroke="#5bad4e" stroke-width="0.9"/>
<line x1="472.5" y1="315.85" x2="472.5" y2="297.72" stroke="#5bad4e" stroke-width="0.9"/>
<line x1="470.2" y1="297.5" x2="474.2" y2="297.5" stroke="#5bad4e" stroke-width="0.9"/>
<line x1="470.2" y1="315.5" x2="474.2" y2="315.5" stroke="#5bad4e" stroke-width="0.9"/>
<line x1="488.5" y1="297.72" x2="488.5" y2="276.87" stroke="#5bad4e" stroke-width="0.9"/>
<line x1="486.2" y1="276.5" x2="490.2" y2="276.5" stroke="#5bad4e" stroke-width="0.9"/>
<line x1="486.2" y1="297.5" x2="490.2" y2="297.5" stroke="#5bad4e" stroke-width="0.9"/>
<line x1="504.5" y1="289.56" x2="504.5" y2="265.08" stroke="#5bad4e" stroke-width="0.9"/>
<line x1="502.2" y1="265.5" x2="506.2" y2="265.5" stroke="#5bad4e" stroke-width="0.9"/>
<line x1="502.2" y1="289.5" x2="506.2" y2="289.5" stroke="#5bad4e" stroke-width="0.9"/>
<path d="M424.2,336.7 L426.5,339.0 L424.2,341.3 L421.9,339.0 Z" fill="#5bad4e"/>
<path d="M440.2,325.3 L442.5,327.6 L440.2,329.9 L437.9,327.6 Z" fill="#5bad4e"/>
<path d="M456.2,312.6 L458.5,314.9 L456.2,317.2 L453.9,314.9 Z" fill="#5bad4e"/>
<path d="M472.2,304.5 L474.5,306.8 L472.2,309.1 L469.9,306.8 Z" fill="#5bad4e"/>
<path d="M488.2,285.0 L490.5,287.3 L488.2,289.6 L485.9,287.3 Z" fill="#5bad4e"/>
<path d="M504.2,275.0 L506.5,277.3 L504.2,279.6 L501.9,277.3 Z" fill="#5bad4e"/>
<line x1="421.8" y1="264.5" x2="429.8" y2="264.5" stroke="#5bad4e" stroke-width="1"/>
<path d="M425.8,261.7 L428.5,264.4 L425.8,267.1 L423.1,264.4 Z" fill="#5bad4e"/>
<text x="433.3" y="266.88" font-size="6.9" stroke-width="0.2">siNC</text>
<line x1="421.8" y1="274.5" x2="429.8" y2="274.5" stroke="#c9c93c" stroke-width="1"/>
<rect x="423.5" y="271.7" width="4.6" height="4.6" fill="#c9c93c"/>
<text x="433.3" y="276.48" font-size="6.9" stroke-width="0.2">siNC + Az</text>
<line x1="421.8" y1="283.5" x2="429.8" y2="283.5" stroke="#5a2d8a" stroke-width="1"/>
<path d="M425.8,280.2 L428.6,285.2 L423.0,285.2 Z" fill="#5a2d8a"/>
<text x="433.3" y="285.68" font-size="6.9" stroke-width="0.2">siHSPA8</text>
<polyline points="507.2,277.7 509,277.7 509,299.5 507.2,299.5" fill="none" stroke="#000" stroke-width="0.8"/>
<text transform="translate(511.5,288.5) rotate(90)" x="0" y="2.23" font-size="6.2" text-anchor="middle" stroke-width="0.35">***</text>
<polyline points="512.4,277.7 514.3,277.7 514.3,323.3 512.4,323.3" fill="none" stroke="#000" stroke-width="0.8"/>
<text transform="translate(516,300.5) rotate(90)" x="0" y="2.23" font-size="6.2" text-anchor="middle" stroke-width="0.35">***</text>
<text x="2.6" y="398.2" font-size="12.5" font-weight="bold">J</text>
<text x="15.9" y="407.88" font-size="6.9">Mouse</text>
<line x1="29.5" y1="412.5" x2="29.5" y2="500.4" stroke="#000" stroke-width="0.9"/>
<line x1="29" y1="500.5" x2="133" y2="500.5" stroke="#000" stroke-width="0.9"/>
<line x1="26.4" y1="500.5" x2="29" y2="500.5" stroke="#000" stroke-width="0.9"/>
<text x="25.6" y="502.74" font-size="6.5" text-anchor="end">0.0</text>
<line x1="26.4" y1="483.5" x2="29" y2="483.5" stroke="#000" stroke-width="0.9"/>
<text x="25.6" y="485.34" font-size="6.5" text-anchor="end">0.2</text>
<line x1="26.4" y1="465.5" x2="29" y2="465.5" stroke="#000" stroke-width="0.9"/>
<text x="25.6" y="467.94" font-size="6.5" text-anchor="end">0.4</text>
<line x1="26.4" y1="448.5" x2="29" y2="448.5" stroke="#000" stroke-width="0.9"/>
<text x="25.6" y="450.54" font-size="6.5" text-anchor="end">0.6</text>
<line x1="26.4" y1="430.5" x2="29" y2="430.5" stroke="#000" stroke-width="0.9"/>
<text x="25.6" y="433.14" font-size="6.5" text-anchor="end">0.8</text>
<line x1="26.4" y1="413.5" x2="29" y2="413.5" stroke="#000" stroke-width="0.9"/>
<text x="25.6" y="415.74" font-size="6.5" text-anchor="end">1.0</text>
<text transform="translate(8.5,459.7) rotate(-90)" x="0" y="2.5" font-size="6.95" text-anchor="middle">Tumor weight (g)</text>
<rect x="33.8" y="429.93" width="24.8" height="18.27" fill="none" stroke="#e3343f" stroke-width="1.5"/>
<line x1="33.8" y1="438.63" x2="58.6" y2="438.63" stroke="#e3343f" stroke-width="1.5"/>
<line x1="46.2" y1="429.93" x2="46.2" y2="426.45" stroke="#e3343f" stroke-width="1.5"/>
<line x1="46.2" y1="448.2" x2="46.2" y2="448.2" stroke="#e3343f" stroke-width="1.5"/>
<line x1="39.85" y1="426.45" x2="52.55" y2="426.45" stroke="#e3343f" stroke-width="1.5"/>
<line x1="39.85" y1="448.2" x2="52.55" y2="448.2" stroke="#e3343f" stroke-width="1.5"/>
<rect x="69.8" y="455.16" width="24.3" height="20.88" fill="none" stroke="#1a1a1a" stroke-width="1.5"/>
<line x1="69.8" y1="464.73" x2="94.1" y2="464.73" stroke="#1a1a1a" stroke-width="1.5"/>
<line x1="81.95" y1="455.16" x2="81.95" y2="449.94" stroke="#1a1a1a" stroke-width="1.5"/>
<line x1="81.95" y1="476.04" x2="81.95" y2="476.91" stroke="#1a1a1a" stroke-width="1.5"/>
<line x1="75.8" y1="449.94" x2="88.1" y2="449.94" stroke="#1a1a1a" stroke-width="1.5"/>
<line x1="75.8" y1="476.91" x2="88.1" y2="476.91" stroke="#1a1a1a" stroke-width="1.5"/>
<rect x="104.2" y="472.56" width="25.4" height="12.18" fill="none" stroke="#4257a8" stroke-width="1.5"/>
<line x1="104.2" y1="478.65" x2="129.6" y2="478.65" stroke="#4257a8" stroke-width="1.5"/>
<line x1="116.9" y1="472.56" x2="116.9" y2="469.95" stroke="#4257a8" stroke-width="1.5"/>
<line x1="116.9" y1="484.74" x2="116.9" y2="484.74" stroke="#4257a8" stroke-width="1.5"/>
<line x1="111.15" y1="469.95" x2="122.65" y2="469.95" stroke="#4257a8" stroke-width="1.5"/>
<line x1="111.15" y1="484.74" x2="122.65" y2="484.74" stroke="#4257a8" stroke-width="1.5"/>
<polyline points="47.6,423 47.6,419.8 81.9,419.8 81.9,423" fill="none" stroke="#000" stroke-width="0.8"/>
<text x="64.7" y="419.93" font-size="6.2" text-anchor="middle" stroke-width="0.35">***</text>
<polyline points="47.6,417 47.6,413.8 116.9,413.8 116.9,417" fill="none" stroke="#000" stroke-width="0.8"/>
<text x="82.2" y="413.93" font-size="6.2" text-anchor="middle" stroke-width="0.35">***</text>
<line x1="46.5" y1="500.4" x2="46.5" y2="503" stroke="#000" stroke-width="0.9"/>
<text x="45.6" y="509.18" font-size="6.6" text-anchor="middle">siNC</text>
<line x1="81.5" y1="500.4" x2="81.5" y2="503" stroke="#000" stroke-width="0.9"/>
<text x="79.3" y="509.18" font-size="6.6" text-anchor="middle">siNC + Az</text>
<line x1="116.5" y1="500.4" x2="116.5" y2="503" stroke="#000" stroke-width="0.9"/>
<text x="116.8" y="509.18" font-size="6.6" text-anchor="middle">siHSPA8</text>
<text x="137.8" y="398.2" font-size="12.5" font-weight="bold">K</text>
<text x="155.5" y="405.48" font-size="6.9">Mouse</text>
<line x1="166.5" y1="411.5" x2="166.5" y2="505.2" stroke="#000" stroke-width="0.9"/>
<line x1="166.7" y1="505.5" x2="296" y2="505.5" stroke="#000" stroke-width="0.9"/>
<line x1="164.1" y1="505.5" x2="166.7" y2="505.5" stroke="#000" stroke-width="0.9"/>
<text x="163.3" y="507.54" font-size="6.5" text-anchor="end">0.0</text>
<line x1="164.1" y1="486.5" x2="166.7" y2="486.5" stroke="#000" stroke-width="0.9"/>
<text x="163.3" y="489.04" font-size="6.5" text-anchor="end">0.5</text>
<line x1="164.1" y1="468.5" x2="166.7" y2="468.5" stroke="#000" stroke-width="0.9"/>
<text x="163.3" y="470.54" font-size="6.5" text-anchor="end">1.0</text>
<line x1="164.1" y1="449.5" x2="166.7" y2="449.5" stroke="#000" stroke-width="0.9"/>
<text x="163.3" y="452.04" font-size="6.5" text-anchor="end">1.5</text>
<line x1="164.1" y1="431.5" x2="166.7" y2="431.5" stroke="#000" stroke-width="0.9"/>
<text x="163.3" y="433.54" font-size="6.5" text-anchor="end">2.0</text>
<line x1="164.1" y1="412.5" x2="166.7" y2="412.5" stroke="#000" stroke-width="0.9"/>
<text x="163.3" y="415.04" font-size="6.5" text-anchor="end">2.5</text>
<text transform="translate(145.2,458) rotate(-90)" x="0" y="2.47" font-size="6.85" text-anchor="middle">Relative levels of mRNA of HSPA8</text>
<rect x="169.7" y="456.36" width="4.6" height="48.84" fill="none" stroke="#e3343f" stroke-width="1.2"/>
<line x1="172.5" y1="456.36" x2="172.5" y2="448.96" stroke="#e3343f" stroke-width="1"/>
<line x1="170.6" y1="448.5" x2="173.4" y2="448.5" stroke="#e3343f" stroke-width="1"/>
<rect x="176.4" y="445.26" width="4.6" height="59.94" fill="none" stroke="#e3343f" stroke-width="1.2"/>
<line x1="178.5" y1="445.26" x2="178.5" y2="443.04" stroke="#e3343f" stroke-width="1"/>
<line x1="177.3" y1="443.5" x2="180.1" y2="443.5" stroke="#e3343f" stroke-width="1"/>
<rect x="183" y="434.16" width="4.6" height="71.04" fill="none" stroke="#e3343f" stroke-width="1.2"/>
<line x1="185.5" y1="434.16" x2="185.5" y2="431.94" stroke="#e3343f" stroke-width="1"/>
<line x1="183.9" y1="431.5" x2="186.7" y2="431.5" stroke="#e3343f" stroke-width="1"/>
<rect x="189.5" y="452.29" width="4.6" height="52.91" fill="none" stroke="#e3343f" stroke-width="1.2"/>
<line x1="191.5" y1="452.29" x2="191.5" y2="447.48" stroke="#e3343f" stroke-width="1"/>
<line x1="190.4" y1="447.5" x2="193.2" y2="447.5" stroke="#e3343f" stroke-width="1"/>
<rect x="195.6" y="442.3" width="4.6" height="62.9" fill="none" stroke="#e3343f" stroke-width="1.2"/>
<line x1="197.5" y1="442.3" x2="197.5" y2="435.64" stroke="#e3343f" stroke-width="1"/>
<line x1="196.5" y1="435.5" x2="199.3" y2="435.5" stroke="#e3343f" stroke-width="1"/>
<rect x="202.3" y="443.04" width="4.6" height="62.16" fill="none" stroke="#e3343f" stroke-width="1.2"/>
<line x1="204.5" y1="443.04" x2="204.5" y2="433.79" stroke="#e3343f" stroke-width="1"/>
<line x1="203.2" y1="433.5" x2="206" y2="433.5" stroke="#e3343f" stroke-width="1"/>
<rect x="213" y="451.55" width="4.6" height="53.65" fill="none" stroke="#1a1a1a" stroke-width="1.2"/>
<line x1="215.5" y1="451.55" x2="215.5" y2="450.81" stroke="#1a1a1a" stroke-width="1"/>
<line x1="213.9" y1="450.5" x2="216.7" y2="450.5" stroke="#1a1a1a" stroke-width="1"/>
<rect x="219.6" y="465.61" width="4.6" height="39.59" fill="none" stroke="#1a1a1a" stroke-width="1.2"/>
<line x1="221.5" y1="465.61" x2="221.5" y2="457.47" stroke="#1a1a1a" stroke-width="1"/>
<line x1="220.5" y1="457.5" x2="223.3" y2="457.5" stroke="#1a1a1a" stroke-width="1"/>
<rect x="226" y="449.7" width="4.6" height="55.5" fill="none" stroke="#1a1a1a" stroke-width="1.2"/>
<line x1="228.5" y1="449.7" x2="228.5" y2="444.89" stroke="#1a1a1a" stroke-width="1"/>
<line x1="226.9" y1="444.5" x2="229.7" y2="444.5" stroke="#1a1a1a" stroke-width="1"/>
<rect x="232.3" y="461.54" width="4.6" height="43.66" fill="none" stroke="#1a1a1a" stroke-width="1.2"/>
<line x1="234.5" y1="461.54" x2="234.5" y2="448.59" stroke="#1a1a1a" stroke-width="1"/>
<line x1="233.2" y1="448.5" x2="236" y2="448.5" stroke="#1a1a1a" stroke-width="1"/>
<rect x="238.5" y="443.41" width="4.6" height="61.79" fill="none" stroke="#1a1a1a" stroke-width="1.2"/>
<line x1="240.5" y1="443.41" x2="240.5" y2="437.12" stroke="#1a1a1a" stroke-width="1"/>
<line x1="239.4" y1="437.5" x2="242.2" y2="437.5" stroke="#1a1a1a" stroke-width="1"/>
<rect x="245.2" y="443.41" width="4.6" height="61.79" fill="none" stroke="#1a1a1a" stroke-width="1.2"/>
<line x1="247.5" y1="443.41" x2="247.5" y2="441.56" stroke="#1a1a1a" stroke-width="1"/>
<line x1="246.1" y1="441.5" x2="248.9" y2="441.5" stroke="#1a1a1a" stroke-width="1"/>
<rect x="256.2" y="483" width="4.6" height="22.2" fill="none" stroke="#4257a8" stroke-width="1.2"/>
<line x1="258.5" y1="483" x2="258.5" y2="482.63" stroke="#4257a8" stroke-width="1"/>
<line x1="257.1" y1="482.5" x2="259.9" y2="482.5" stroke="#4257a8" stroke-width="1"/>
<rect x="262.5" y="487.81" width="4.6" height="17.39" fill="none" stroke="#4257a8" stroke-width="1.2"/>
<line x1="264.5" y1="487.81" x2="264.5" y2="487.44" stroke="#4257a8" stroke-width="1"/>
<line x1="263.4" y1="487.5" x2="266.2" y2="487.5" stroke="#4257a8" stroke-width="1"/>
<rect x="269.2" y="484.48" width="4.6" height="20.72" fill="none" stroke="#4257a8" stroke-width="1.2"/>
<line x1="271.5" y1="484.48" x2="271.5" y2="479.67" stroke="#4257a8" stroke-width="1"/>
<line x1="270.1" y1="479.5" x2="272.9" y2="479.5" stroke="#4257a8" stroke-width="1"/>
<rect x="275.6" y="489.29" width="4.6" height="15.91" fill="none" stroke="#4257a8" stroke-width="1.2"/>
<line x1="277.5" y1="489.29" x2="277.5" y2="486.33" stroke="#4257a8" stroke-width="1"/>
<line x1="276.5" y1="486.5" x2="279.3" y2="486.5" stroke="#4257a8" stroke-width="1"/>
<rect x="282.1" y="490.77" width="4.6" height="14.43" fill="none" stroke="#4257a8" stroke-width="1.2"/>
<line x1="284.5" y1="490.77" x2="284.5" y2="490.4" stroke="#4257a8" stroke-width="1"/>
<line x1="283" y1="490.5" x2="285.8" y2="490.5" stroke="#4257a8" stroke-width="1"/>
<rect x="288.5" y="492.25" width="4.6" height="12.95" fill="none" stroke="#4257a8" stroke-width="1.2"/>
<line x1="290.5" y1="492.25" x2="290.5" y2="491.88" stroke="#4257a8" stroke-width="1"/>
<line x1="289.4" y1="491.5" x2="292.2" y2="491.5" stroke="#4257a8" stroke-width="1"/>
<line x1="168.7" y1="429.5" x2="208.4" y2="429.5" stroke="#222" stroke-width="1"/>
<line x1="211.9" y1="433.5" x2="251.5" y2="433.5" stroke="#222" stroke-width="1"/>
<line x1="255.8" y1="475.5" x2="295.8" y2="475.5" stroke="#222" stroke-width="1"/>
<polyline points="187.6,425.8 187.6,422.8 234.6,422.8 234.6,425.8" fill="none" stroke="#000" stroke-width="0.8"/>
<text x="212.5" y="421.74" font-size="6.5" text-anchor="middle">ns</text>
<polyline points="187.6,417.4 187.6,414.4 276.9,414.4 276.9,417.4" fill="none" stroke="#000" stroke-width="0.8"/>
<text x="235.6" y="414.53" font-size="6.2" text-anchor="middle" stroke-width="0.35">***</text>
<text x="172" y="514.4" font-size="6.1" text-anchor="middle" stroke-width="0.25">1</text>
<line x1="172.5" y1="505.2" x2="172.5" y2="507.4" stroke="#000" stroke-width="0.9"/>
<text x="178.7" y="514.4" font-size="6.1" text-anchor="middle" stroke-width="0.25">2</text>
<line x1="178.5" y1="505.2" x2="178.5" y2="507.4" stroke="#000" stroke-width="0.9"/>
<text x="185.3" y="514.4" font-size="6.1" text-anchor="middle" stroke-width="0.25">3</text>
<line x1="185.5" y1="505.2" x2="185.5" y2="507.4" stroke="#000" stroke-width="0.9"/>
<text x="191.8" y="514.4" font-size="6.1" text-anchor="middle" stroke-width="0.25">4</text>
<line x1="191.5" y1="505.2" x2="191.5" y2="507.4" stroke="#000" stroke-width="0.9"/>
<text x="197.9" y="514.4" font-size="6.1" text-anchor="middle" stroke-width="0.25">5</text>
<line x1="197.5" y1="505.2" x2="197.5" y2="507.4" stroke="#000" stroke-width="0.9"/>
<text x="204.6" y="514.4" font-size="6.1" text-anchor="middle" stroke-width="0.25">6</text>
<line x1="204.5" y1="505.2" x2="204.5" y2="507.4" stroke="#000" stroke-width="0.9"/>
<text x="215.3" y="514.4" font-size="6.1" text-anchor="middle" stroke-width="0.25">1</text>
<line x1="215.5" y1="505.2" x2="215.5" y2="507.4" stroke="#000" stroke-width="0.9"/>
<text x="221.9" y="514.4" font-size="6.1" text-anchor="middle" stroke-width="0.25">2</text>
<line x1="221.5" y1="505.2" x2="221.5" y2="507.4" stroke="#000" stroke-width="0.9"/>
<text x="228.3" y="514.4" font-size="6.1" text-anchor="middle" stroke-width="0.25">3</text>
<line x1="228.5" y1="505.2" x2="228.5" y2="507.4" stroke="#000" stroke-width="0.9"/>
<text x="234.6" y="514.4" font-size="6.1" text-anchor="middle" stroke-width="0.25">4</text>
<line x1="234.5" y1="505.2" x2="234.5" y2="507.4" stroke="#000" stroke-width="0.9"/>
<text x="240.8" y="514.4" font-size="6.1" text-anchor="middle" stroke-width="0.25">5</text>
<line x1="240.5" y1="505.2" x2="240.5" y2="507.4" stroke="#000" stroke-width="0.9"/>
<text x="247.5" y="514.4" font-size="6.1" text-anchor="middle" stroke-width="0.25">6</text>
<line x1="247.5" y1="505.2" x2="247.5" y2="507.4" stroke="#000" stroke-width="0.9"/>
<text x="258.5" y="514.4" font-size="6.1" text-anchor="middle" stroke-width="0.25">1</text>
<line x1="258.5" y1="505.2" x2="258.5" y2="507.4" stroke="#000" stroke-width="0.9"/>
<text x="264.8" y="514.4" font-size="6.1" text-anchor="middle" stroke-width="0.25">2</text>
<line x1="264.5" y1="505.2" x2="264.5" y2="507.4" stroke="#000" stroke-width="0.9"/>
<text x="271.5" y="514.4" font-size="6.1" text-anchor="middle" stroke-width="0.25">3</text>
<line x1="271.5" y1="505.2" x2="271.5" y2="507.4" stroke="#000" stroke-width="0.9"/>
<text x="277.9" y="514.4" font-size="6.1" text-anchor="middle" stroke-width="0.25">4</text>
<line x1="277.5" y1="505.2" x2="277.5" y2="507.4" stroke="#000" stroke-width="0.9"/>
<text x="284.4" y="514.4" font-size="6.1" text-anchor="middle" stroke-width="0.25">5</text>
<line x1="284.5" y1="505.2" x2="284.5" y2="507.4" stroke="#000" stroke-width="0.9"/>
<text x="290.8" y="514.4" font-size="6.1" text-anchor="middle" stroke-width="0.25">6</text>
<line x1="290.5" y1="505.2" x2="290.5" y2="507.4" stroke="#000" stroke-width="0.9"/>
<line x1="167.8" y1="516.5" x2="208" y2="516.5" stroke="#000" stroke-width="0.9"/>
<line x1="210.3" y1="516.5" x2="251" y2="516.5" stroke="#000" stroke-width="0.9"/>
<line x1="254.4" y1="516.5" x2="293.6" y2="516.5" stroke="#000" stroke-width="0.9"/>
<text x="189" y="524.32" font-size="7" text-anchor="middle">siNC</text>
<text x="230.4" y="524.32" font-size="7" text-anchor="middle">siNC + Az</text>
<text x="274" y="524.32" font-size="7" text-anchor="middle">siHSPA8</text>
<text x="2.6" y="525.6" font-size="12.5" font-weight="bold">L</text>
<text x="2.3" y="540.08" font-size="6.9">Mouse</text>
<text x="23.2" y="565.61" font-size="6.7" text-anchor="end">HSPA8</text>
<text x="23.2" y="580.71" font-size="6.7" text-anchor="end">β-Actin</text>
<text x="71.5" y="540.78" font-size="6.9" text-anchor="middle">siNC</text>
<line x1="25.4" y1="544.5" x2="110.5" y2="544.5" stroke="#000" stroke-width="0.9"/>
<text x="35.1" y="553.84" font-size="6.5" text-anchor="middle">1</text>
<text x="48.5" y="553.84" font-size="6.5" text-anchor="middle">2</text>
<text x="61.8" y="553.84" font-size="6.5" text-anchor="middle">3</text>
<text x="76.2" y="553.84" font-size="6.5" text-anchor="middle">4</text>
<text x="90.5" y="553.84" font-size="6.5" text-anchor="middle">5</text>
<text x="104.3" y="553.84" font-size="6.5" text-anchor="middle">6</text>
<rect x="25.4" y="556.2" width="85.1" height="13.4" fill="#bfbfbf" stroke="#111" stroke-width="1.1"/>
<rect x="25.4" y="572.5" width="85.1" height="14" fill="#b2b2b2" stroke="#111" stroke-width="1.1"/>
<g filter="url(#bl)"><ellipse cx="35.1" cy="562.8" rx="6.2" ry="1.8" fill="#222" opacity="0.90"/><ellipse cx="35.1" cy="579.6" rx="7.6" ry="3.4" fill="#262626"/><ellipse cx="48.5" cy="562.8" rx="6.2" ry="1.8" fill="#222" opacity="0.90"/><ellipse cx="48.5" cy="579.6" rx="7.6" ry="3.4" fill="#262626"/><ellipse cx="61.8" cy="562.8" rx="6.3" ry="1.9" fill="#222" opacity="0.93"/><ellipse cx="61.8" cy="579.6" rx="7.6" ry="3.4" fill="#262626"/><ellipse cx="76.2" cy="562.8" rx="6.3" ry="1.9" fill="#222" opacity="0.93"/><ellipse cx="76.2" cy="579.6" rx="7.6" ry="3.4" fill="#262626"/><ellipse cx="90.5" cy="562.8" rx="6.2" ry="1.8" fill="#222" opacity="0.90"/><ellipse cx="90.5" cy="579.6" rx="7.6" ry="3.4" fill="#262626"/><ellipse cx="104.3" cy="562.8" rx="6.3" ry="2.0" fill="#222" opacity="0.95"/><ellipse cx="104.3" cy="579.6" rx="7.6" ry="3.4" fill="#262626"/></g>
<text x="164.8" y="540.78" font-size="6.9" text-anchor="middle">siNC + Az</text>
<line x1="119.4" y1="544.5" x2="205.6" y2="544.5" stroke="#000" stroke-width="0.9"/>
<text x="129.2" y="553.84" font-size="6.5" text-anchor="middle">1</text>
<text x="143.1" y="553.84" font-size="6.5" text-anchor="middle">2</text>
<text x="156.2" y="553.84" font-size="6.5" text-anchor="middle">3</text>
<text x="169.6" y="553.84" font-size="6.5" text-anchor="middle">4</text>
<text x="183.1" y="553.84" font-size="6.5" text-anchor="middle">5</text>
<text x="197.5" y="553.84" font-size="6.5" text-anchor="middle">6</text>
<rect x="119.4" y="556.2" width="86.2" height="13.4" fill="#bfbfbf" stroke="#111" stroke-width="1.1"/>
<rect x="119.4" y="572.5" width="86.2" height="14" fill="#b2b2b2" stroke="#111" stroke-width="1.1"/>
<g filter="url(#bl)"><ellipse cx="129.2" cy="562.8" rx="6.2" ry="1.8" fill="#222" opacity="0.88"/><ellipse cx="129.2" cy="579.6" rx="7.6" ry="3.4" fill="#262626"/><ellipse cx="143.1" cy="562.8" rx="6.2" ry="1.8" fill="#222" opacity="0.88"/><ellipse cx="143.1" cy="579.6" rx="7.6" ry="3.4" fill="#262626"/><ellipse cx="156.2" cy="562.8" rx="6.2" ry="1.8" fill="#222" opacity="0.90"/><ellipse cx="156.2" cy="579.6" rx="7.6" ry="3.4" fill="#262626"/><ellipse cx="169.6" cy="562.8" rx="6.2" ry="1.8" fill="#222" opacity="0.90"/><ellipse cx="169.6" cy="579.6" rx="7.6" ry="3.4" fill="#262626"/><ellipse cx="183.1" cy="562.8" rx="6.2" ry="1.8" fill="#222" opacity="0.90"/><ellipse cx="183.1" cy="579.6" rx="7.6" ry="3.4" fill="#262626"/><ellipse cx="197.5" cy="562.8" rx="6.2" ry="1.8" fill="#222" opacity="0.90"/><ellipse cx="197.5" cy="579.6" rx="7.6" ry="3.4" fill="#262626"/></g>
<text x="258" y="540.78" font-size="6.9" text-anchor="middle">siHSPA8</text>
<line x1="211.6" y1="544.5" x2="297" y2="544.5" stroke="#000" stroke-width="0.9"/>
<text x="222.5" y="553.84" font-size="6.5" text-anchor="middle">1</text>
<text x="236" y="553.84" font-size="6.5" text-anchor="middle">2</text>
<text x="248.8" y="553.84" font-size="6.5" text-anchor="middle">3</text>
<text x="262.7" y="553.84" font-size="6.5" text-anchor="middle">4</text>
<text x="276.2" y="553.84" font-size="6.5" text-anchor="middle">5</text>
<text x="289" y="553.84" font-size="6.5" text-anchor="middle">6</text>
<rect x="211.6" y="556.2" width="85.4" height="13.4" fill="#bfbfbf" stroke="#111" stroke-width="1.1"/>
<rect x="211.6" y="572.5" width="85.4" height="14" fill="#b2b2b2" stroke="#111" stroke-width="1.1"/>
<g filter="url(#bl)"><ellipse cx="222.5" cy="562.8" rx="6.2" ry="1.7" fill="#222" opacity="0.85"/><ellipse cx="222.5" cy="579.6" rx="7.6" ry="3.4" fill="#262626"/><ellipse cx="236.0" cy="562.8" rx="6.0" ry="1.5" fill="#222" opacity="0.75"/><ellipse cx="236.0" cy="579.6" rx="7.6" ry="3.4" fill="#262626"/><ellipse cx="248.8" cy="562.8" rx="6.0" ry="1.5" fill="#222" opacity="0.78"/><ellipse cx="248.8" cy="579.6" rx="7.6" ry="3.4" fill="#262626"/><ellipse cx="262.7" cy="562.8" rx="6.0" ry="1.5" fill="#222" opacity="0.75"/><ellipse cx="262.7" cy="579.6" rx="7.6" ry="3.4" fill="#262626"/><ellipse cx="276.2" cy="562.8" rx="5.9" ry="1.3" fill="#222" opacity="0.68"/><ellipse cx="276.2" cy="579.6" rx="7.6" ry="3.4" fill="#262626"/><ellipse cx="289.0" cy="562.8" rx="6.0" ry="1.5" fill="#222" opacity="0.75"/><ellipse cx="289.0" cy="579.6" rx="7.6" ry="3.4" fill="#262626"/></g>
<text x="313.6" y="398.2" font-size="12.5" font-weight="bold">M</text>
<text x="338" y="396.78" font-size="6.9">Mouse</text>
<text x="388.9" y="396.78" font-size="6.9" text-anchor="middle">HSPA8</text>
<text x="465.1" y="396.78" font-size="6.9" text-anchor="middle">Ki-67</text>
<text x="345.3" y="437.92" font-size="7" text-anchor="end">siNC</text>
<text x="345.3" y="500.22" font-size="7" text-anchor="end">siNC + Az</text>
<text x="345.3" y="571.52" font-size="7" text-anchor="end">siHSPA8</text>
<filter id="mb" x="0" y="0" width="100%" height="100%"><feGaussianBlur stdDeviation="0.45"/></filter>
<clipPath id="m00"><rect x="346.5" y="399.5" width="79.5" height="60"/></clipPath>
<g clip-path="url(#m00)"><rect x="346.5" y="399.5" width="79.5" height="60" fill="#dcd8dc"/><g filter="url(#mb)"><circle cx="358.1" cy="426.8" r="2.0" fill="#dcc28a" opacity="0.85"/><circle cx="404.7" cy="425.5" r="2.1" fill="#c8a468" opacity="0.85"/><circle cx="352.9" cy="426.9" r="0.9" fill="#d4b478" opacity="0.85"/><circle cx="373.2" cy="418.1" r="2.0" fill="#d4b478" opacity="0.85"/><circle cx="422.9" cy="407.9" r="2.2" fill="#b89058" opacity="0.85"/><circle cx="396.3" cy="457.3" r="1.1" fill="#dcc28a" opacity="0.85"/><circle cx="390.7" cy="453.6" r="2.1" fill="#d4b478" opacity="0.85"/><circle cx="414.6" cy="437.8" r="1.1" fill="#dcc28a" opacity="0.85"/><circle cx="358.2" cy="450.6" r="1.1" fill="#d4b478" opacity="0.85"/><circle cx="413.4" cy="454.3" r="1.2" fill="#dcc28a" opacity="0.85"/><circle cx="410.1" cy="454.8" r="1.4" fill="#c8a468" opacity="0.85"/><circle cx="394.9" cy="442.5" r="2.0" fill="#b89058" opacity="0.85"/><circle cx="401.3" cy="419.8" r="1.9" fill="#b89058" opacity="0.85"/><circle cx="425.9" cy="423.6" r="0.9" fill="#c8a468" opacity="0.85"/><circle cx="417.3" cy="438.6" r="1.2" fill="#dcc28a" opacity="0.85"/><circle cx="407.5" cy="430.3" r="1.6" fill="#b89058" opacity="0.85"/><circle cx="358.2" cy="440.1" r="2.2" fill="#d4b478" opacity="0.85"/><circle cx="350.8" cy="416.0" r="1.9" fill="#c8a468" opacity="0.85"/><circle cx="408.7" cy="452.7" r="2.2" fill="#d4b478" opacity="0.85"/><circle cx="398.2" cy="444.4" r="1.7" fill="#b89058" opacity="0.85"/><circle cx="382.7" cy="440.9" r="1.6" fill="#c8a468" opacity="0.85"/><circle cx="403.7" cy="412.0" r="1.4" fill="#c8a468" opacity="0.85"/><circle cx="378.3" cy="442.3" r="1.8" fill="#dcc28a" opacity="0.85"/><circle cx="420.8" cy="401.8" r="1.5" fill="#c8a468" opacity="0.85"/><circle cx="410.0" cy="451.9" r="0.9" fill="#d4b478" opacity="0.85"/><circle cx="420.8" cy="408.9" r="0.9" fill="#d4b478" opacity="0.85"/><circle cx="397.5" cy="406.9" r="0.9" fill="#dcc28a" opacity="0.85"/><circle cx="349.4" cy="425.1" r="1.5" fill="#dcc28a" opacity="0.85"/><circle cx="388.1" cy="435.9" r="2.2" fill="#dcc28a" opacity="0.85"/><circle cx="358.1" cy="412.0" r="1.5" fill="#b89058" opacity="0.85"/><circle cx="424.5" cy="423.5" r="1.2" fill="#c8a468" opacity="0.85"/><circle cx="361.6" cy="459.4" r="1.4" fill="#b89058" opacity="0.85"/><circle cx="346.7" cy="447.3" r="0.9" fill="#c8a468" opacity="0.85"/><circle cx="425.4" cy="433.0" r="1.2" fill="#c8a468" opacity="0.85"/><circle cx="398.5" cy="412.7" r="1.8" fill="#c8a468" opacity="0.85"/><circle cx="414.3" cy="448.8" r="1.4" fill="#dcc28a" opacity="0.85"/><circle cx="349.2" cy="445.7" r="2.2" fill="#c8a468" opacity="0.85"/><circle cx="348.3" cy="436.6" r="1.4" fill="#d4b478" opacity="0.85"/><circle cx="359.1" cy="441.3" r="1.9" fill="#c8a468" opacity="0.85"/><circle cx="402.4" cy="429.9" r="1.1" fill="#dcc28a" opacity="0.85"/><ellipse cx="344.6" cy="399.6" rx="2.8" ry="2.3" transform="rotate(18 344.6 399.6)" fill="#5565a8"/><ellipse cx="352.2" cy="397.5" rx="2.8" ry="2.3" transform="rotate(166 352.2 397.5)" fill="#6272b6"/><ellipse cx="359.1" cy="398.7" rx="2.5" ry="1.9" transform="rotate(110 359.1 398.7)" fill="#8290c8"/><ellipse cx="365.4" cy="397.3" rx="2.3" ry="1.8" transform="rotate(144 365.4 397.3)" fill="#6272b6"/><ellipse cx="369.6" cy="397.3" rx="2.8" ry="2.0" transform="rotate(37 369.6 397.3)" fill="#5d6db0"/><ellipse cx="377.7" cy="398.7" rx="2.4" ry="2.3" transform="rotate(144 377.7 398.7)" fill="#4a589c"/><ellipse cx="384.4" cy="397.4" rx="3.0" ry="2.7" transform="rotate(172 384.4 397.4)" fill="#6272b6"/><ellipse cx="390.4" cy="399.7" rx="2.5" ry="2.2" transform="rotate(89 390.4 399.7)" fill="#6c7cba"/><ellipse cx="397.1" cy="397.7" rx="2.4" ry="1.7" transform="rotate(161 397.1 397.7)" fill="#8290c8"/><ellipse cx="402.9" cy="398.1" rx="2.7" ry="2.2" transform="rotate(129 402.9 398.1)" fill="#4a589c"/><ellipse cx="407.2" cy="398.6" rx="3.1" ry="2.8" transform="rotate(47 407.2 398.6)" fill="#4a589c"/><ellipse cx="420.4" cy="399.9" rx="2.3" ry="1.7" transform="rotate(30 420.4 399.9)" fill="#5565a8"/><ellipse cx="426.3" cy="398.0" rx="3.0" ry="2.4" transform="rotate(49 426.3 398.0)" fill="#5d6db0"/><ellipse cx="347.7" cy="404.3" rx="2.8" ry="2.0" transform="rotate(108 347.7 404.3)" fill="#7484c0"/><ellipse cx="360.4" cy="403.4" rx="2.9" ry="2.3" transform="rotate(4 360.4 403.4)" fill="#6c7cba"/><ellipse cx="367.6" cy="404.0" rx="2.8" ry="2.4" transform="rotate(138 367.6 404.0)" fill="#6c7cba"/><ellipse cx="373.4" cy="402.9" rx="2.3" ry="2.2" transform="rotate(49 373.4 402.9)" fill="#7484c0"/><ellipse cx="379.3" cy="403.4" rx="3.1" ry="2.4" transform="rotate(66 379.3 403.4)" fill="#8290c8"/><ellipse cx="387.1" cy="403.3" rx="2.7" ry="1.9" transform="rotate(23 387.1 403.3)" fill="#8290c8"/><ellipse cx="391.7" cy="404.8" rx="2.7" ry="2.0" transform="rotate(132 391.7 404.8)" fill="#4a589c"/><ellipse cx="400.3" cy="403.9" rx="2.6" ry="1.9" transform="rotate(12 400.3 403.9)" fill="#5d6db0"/><ellipse cx="404.9" cy="405.2" rx="2.5" ry="2.1" transform="rotate(158 404.9 405.2)" fill="#5d6db0"/><ellipse cx="411.1" cy="403.8" rx="2.6" ry="2.4" transform="rotate(47 411.1 403.8)" fill="#4a589c"/><ellipse cx="418.7" cy="404.4" rx="2.5" ry="2.0" transform="rotate(135 418.7 404.4)" fill="#6272b6"/><ellipse cx="423.1" cy="402.9" rx="2.8" ry="2.5" transform="rotate(123 423.1 402.9)" fill="#6c7cba"/><ellipse cx="431.8" cy="403.6" rx="2.9" ry="2.4" transform="rotate(88 431.8 403.6)" fill="#8290c8"/><ellipse cx="346.6" cy="410.1" rx="2.7" ry="2.5" transform="rotate(40 346.6 410.1)" fill="#4a589c"/><ellipse cx="353.1" cy="409.3" rx="2.3" ry="2.2" transform="rotate(137 353.1 409.3)" fill="#6272b6"/><ellipse cx="359.4" cy="410.6" rx="3.0" ry="2.3" transform="rotate(122 359.4 410.6)" fill="#8290c8"/><ellipse cx="365.1" cy="409.9" rx="2.9" ry="2.6" transform="rotate(175 365.1 409.9)" fill="#8290c8"/><ellipse cx="370.2" cy="408.4" rx="2.9" ry="2.5" transform="rotate(53 370.2 408.4)" fill="#4a589c"/><ellipse cx="376.5" cy="410.2" rx="3.1" ry="2.6" transform="rotate(84 376.5 410.2)" fill="#8290c8"/><ellipse cx="382.4" cy="409.8" rx="3.0" ry="2.7" transform="rotate(154 382.4 409.8)" fill="#4a589c"/><ellipse cx="389.5" cy="410.9" rx="2.3" ry="1.8" transform="rotate(153 389.5 410.9)" fill="#8290c8"/><ellipse cx="395.1" cy="409.4" rx="2.8" ry="2.3" transform="rotate(32 395.1 409.4)" fill="#6c7cba"/><ellipse cx="401.4" cy="410.0" rx="2.6" ry="1.8" transform="rotate(28 401.4 410.0)" fill="#8290c8"/><ellipse cx="409.8" cy="410.4" rx="2.8" ry="2.1" transform="rotate(61 409.8 410.4)" fill="#6c7cba"/><ellipse cx="415.7" cy="409.3" rx="2.5" ry="2.3" transform="rotate(99 415.7 409.3)" fill="#8290c8"/><ellipse cx="421.9" cy="409.5" rx="2.8" ry="2.6" transform="rotate(8 421.9 409.5)" fill="#7484c0"/><ellipse cx="426.2" cy="409.6" rx="2.6" ry="1.9" transform="rotate(19 426.2 409.6)" fill="#6272b6"/><ellipse cx="348.3" cy="414.6" rx="2.9" ry="2.7" transform="rotate(157 348.3 414.6)" fill="#8290c8"/><ellipse cx="354.6" cy="416.4" rx="2.6" ry="1.9" transform="rotate(59 354.6 416.4)" fill="#8290c8"/><ellipse cx="360.9" cy="414.5" rx="2.7" ry="2.3" transform="rotate(168 360.9 414.5)" fill="#6c7cba"/><ellipse cx="367.3" cy="415.0" rx="3.1" ry="2.5" transform="rotate(152 367.3 415.0)" fill="#6c7cba"/><ellipse cx="372.5" cy="414.8" rx="2.7" ry="2.1" transform="rotate(169 372.5 414.8)" fill="#7484c0"/><ellipse cx="378.9" cy="415.7" rx="2.7" ry="2.5" transform="rotate(115 378.9 415.7)" fill="#6c7cba"/><ellipse cx="387.6" cy="416.3" rx="3.0" ry="2.8" transform="rotate(151 387.6 416.3)" fill="#5565a8"/><ellipse cx="393.9" cy="416.0" rx="3.0" ry="2.7" transform="rotate(75 393.9 416.0)" fill="#5d6db0"/><ellipse cx="400.3" cy="414.5" rx="2.8" ry="2.6" transform="rotate(26 400.3 414.5)" fill="#5565a8"/><ellipse cx="404.8" cy="415.0" rx="2.7" ry="2.0" transform="rotate(86 404.8 415.0)" fill="#7484c0"/><ellipse cx="411.6" cy="414.1" rx="2.6" ry="1.9" transform="rotate(62 411.6 414.1)" fill="#4a589c"/><ellipse cx="417.2" cy="416.5" rx="2.5" ry="2.3" transform="rotate(143 417.2 416.5)" fill="#5565a8"/><ellipse cx="423.6" cy="416.5" rx="2.3" ry="1.8" transform="rotate(143 423.6 416.5)" fill="#8290c8"/><ellipse cx="431.5" cy="415.2" rx="2.9" ry="2.0" transform="rotate(103 431.5 415.2)" fill="#5d6db0"/><ellipse cx="346.9" cy="420.2" rx="2.5" ry="2.4" transform="rotate(30 346.9 420.2)" fill="#8290c8"/><ellipse cx="352.8" cy="419.6" rx="2.4" ry="1.9" transform="rotate(43 352.8 419.6)" fill="#7484c0"/><ellipse cx="364.5" cy="420.5" rx="2.8" ry="2.2" transform="rotate(25 364.5 420.5)" fill="#8290c8"/><ellipse cx="371.1" cy="420.6" rx="2.8" ry="2.3" transform="rotate(11 371.1 420.6)" fill="#5d6db0"/><ellipse cx="377.6" cy="419.7" rx="2.3" ry="1.8" transform="rotate(81 377.6 419.7)" fill="#6272b6"/><ellipse cx="396.1" cy="419.6" rx="3.0" ry="2.1" transform="rotate(111 396.1 419.6)" fill="#5565a8"/><ellipse cx="403.2" cy="420.1" rx="2.8" ry="1.9" transform="rotate(46 403.2 420.1)" fill="#6c7cba"/><ellipse cx="409.1" cy="420.4" rx="2.9" ry="2.5" transform="rotate(138 409.1 420.4)" fill="#4a589c"/><ellipse cx="414.3" cy="420.0" rx="2.9" ry="2.1" transform="rotate(116 414.3 420.0)" fill="#6c7cba"/><ellipse cx="421.6" cy="420.0" rx="2.5" ry="1.7" transform="rotate(144 421.6 420.0)" fill="#8290c8"/><ellipse cx="349.2" cy="427.1" rx="2.4" ry="1.9" transform="rotate(145 349.2 427.1)" fill="#4a589c"/><ellipse cx="354.2" cy="425.2" rx="2.7" ry="2.3" transform="rotate(25 354.2 425.2)" fill="#6c7cba"/><ellipse cx="361.8" cy="426.5" rx="2.8" ry="2.5" transform="rotate(25 361.8 426.5)" fill="#7484c0"/><ellipse cx="368.1" cy="425.9" rx="3.1" ry="2.7" transform="rotate(102 368.1 425.9)" fill="#5565a8"/><ellipse cx="380.4" cy="426.9" rx="3.0" ry="2.3" transform="rotate(87 380.4 426.9)" fill="#4a589c"/><ellipse cx="386.6" cy="425.0" rx="3.0" ry="2.5" transform="rotate(96 386.6 425.0)" fill="#8290c8"/><ellipse cx="391.4" cy="426.7" rx="2.9" ry="2.4" transform="rotate(165 391.4 426.7)" fill="#5d6db0"/><ellipse cx="399.5" cy="426.4" rx="3.0" ry="2.4" transform="rotate(43 399.5 426.4)" fill="#4a589c"/><ellipse cx="416.6" cy="426.3" rx="2.9" ry="2.4" transform="rotate(92 416.6 426.3)" fill="#6272b6"/><ellipse cx="425.2" cy="425.4" rx="2.4" ry="1.9" transform="rotate(9 425.2 425.4)" fill="#4a589c"/><ellipse cx="431.9" cy="427.0" rx="2.7" ry="2.3" transform="rotate(150 431.9 427.0)" fill="#8290c8"/><ellipse cx="344.8" cy="431.8" rx="2.5" ry="2.0" transform="rotate(138 344.8 431.8)" fill="#6272b6"/><ellipse cx="352.8" cy="430.6" rx="3.0" ry="2.1" transform="rotate(48 352.8 430.6)" fill="#6c7cba"/><ellipse cx="365.4" cy="432.1" rx="3.0" ry="2.1" transform="rotate(90 365.4 432.1)" fill="#6c7cba"/><ellipse cx="370.3" cy="430.6" rx="2.5" ry="1.9" transform="rotate(145 370.3 430.6)" fill="#6272b6"/><ellipse cx="375.9" cy="432.3" rx="2.3" ry="1.8" transform="rotate(16 375.9 432.3)" fill="#5d6db0"/><ellipse cx="382.7" cy="433.0" rx="2.8" ry="2.5" transform="rotate(114 382.7 433.0)" fill="#5d6db0"/><ellipse cx="390.9" cy="432.7" rx="2.8" ry="2.7" transform="rotate(0 390.9 432.7)" fill="#7484c0"/><ellipse cx="396.5" cy="432.0" rx="2.5" ry="2.3" transform="rotate(111 396.5 432.0)" fill="#6272b6"/><ellipse cx="402.7" cy="432.5" rx="2.5" ry="2.1" transform="rotate(99 402.7 432.5)" fill="#5565a8"/><ellipse cx="407.2" cy="431.2" rx="2.5" ry="2.2" transform="rotate(124 407.2 431.2)" fill="#5565a8"/><ellipse cx="414.4" cy="431.8" rx="3.1" ry="2.3" transform="rotate(108 414.4 431.8)" fill="#5565a8"/><ellipse cx="421.5" cy="432.8" rx="2.4" ry="1.7" transform="rotate(138 421.5 432.8)" fill="#7484c0"/><ellipse cx="426.2" cy="431.0" rx="3.1" ry="2.8" transform="rotate(100 426.2 431.0)" fill="#4a589c"/><ellipse cx="349.3" cy="438.6" rx="2.5" ry="2.2" transform="rotate(166 349.3 438.6)" fill="#7484c0"/><ellipse cx="355.0" cy="437.7" rx="2.5" ry="1.9" transform="rotate(18 355.0 437.7)" fill="#7484c0"/><ellipse cx="362.1" cy="436.6" rx="2.6" ry="2.2" transform="rotate(83 362.1 436.6)" fill="#7484c0"/><ellipse cx="366.6" cy="437.1" rx="2.4" ry="1.9" transform="rotate(106 366.6 437.1)" fill="#6c7cba"/><ellipse cx="373.8" cy="438.4" rx="2.6" ry="1.9" transform="rotate(124 373.8 438.4)" fill="#8290c8"/><ellipse cx="380.6" cy="437.5" rx="2.7" ry="2.5" transform="rotate(138 380.6 437.5)" fill="#6c7cba"/><ellipse cx="386.8" cy="435.9" rx="2.4" ry="2.0" transform="rotate(135 386.8 435.9)" fill="#5d6db0"/><ellipse cx="393.7" cy="438.1" rx="2.4" ry="1.9" transform="rotate(72 393.7 438.1)" fill="#4a589c"/><ellipse cx="399.3" cy="438.4" rx="2.5" ry="1.9" transform="rotate(66 399.3 438.4)" fill="#5565a8"/><ellipse cx="405.6" cy="437.5" rx="3.1" ry="2.6" transform="rotate(26 405.6 437.5)" fill="#7484c0"/><ellipse cx="412.3" cy="436.2" rx="2.8" ry="2.0" transform="rotate(74 412.3 436.2)" fill="#4a589c"/><ellipse cx="417.3" cy="436.4" rx="3.1" ry="2.6" transform="rotate(19 417.3 436.4)" fill="#4a589c"/><ellipse cx="425.2" cy="438.0" rx="2.8" ry="2.0" transform="rotate(105 425.2 438.0)" fill="#4a589c"/><ellipse cx="430.1" cy="437.4" rx="2.5" ry="1.9" transform="rotate(160 430.1 437.4)" fill="#5d6db0"/><ellipse cx="344.4" cy="441.9" rx="2.3" ry="2.0" transform="rotate(63 344.4 441.9)" fill="#4a589c"/><ellipse cx="357.6" cy="443.7" rx="2.9" ry="2.1" transform="rotate(120 357.6 443.7)" fill="#8290c8"/><ellipse cx="365.2" cy="442.0" rx="2.4" ry="2.2" transform="rotate(55 365.2 442.0)" fill="#4a589c"/><ellipse cx="370.0" cy="442.7" rx="2.3" ry="2.0" transform="rotate(24 370.0 442.7)" fill="#6c7cba"/><ellipse cx="378.1" cy="443.8" rx="2.3" ry="2.0" transform="rotate(48 378.1 443.8)" fill="#6c7cba"/><ellipse cx="382.5" cy="442.8" rx="3.1" ry="2.6" transform="rotate(153 382.5 442.8)" fill="#8290c8"/><ellipse cx="388.8" cy="441.6" rx="2.4" ry="1.8" transform="rotate(78 388.8 441.6)" fill="#6c7cba"/><ellipse cx="394.8" cy="442.4" rx="2.7" ry="2.1" transform="rotate(82 394.8 442.4)" fill="#4a589c"/><ellipse cx="401.5" cy="443.2" rx="3.1" ry="2.6" transform="rotate(23 401.5 443.2)" fill="#8290c8"/><ellipse cx="409.6" cy="442.6" rx="2.5" ry="1.9" transform="rotate(42 409.6 442.6)" fill="#4a589c"/><ellipse cx="414.0" cy="444.1" rx="2.3" ry="1.6" transform="rotate(70 414.0 444.1)" fill="#6c7cba"/><ellipse cx="422.2" cy="444.1" rx="2.4" ry="2.1" transform="rotate(70 422.2 444.1)" fill="#5565a8"/><ellipse cx="426.1" cy="443.6" rx="2.5" ry="2.1" transform="rotate(2 426.1 443.6)" fill="#8290c8"/><ellipse cx="348.4" cy="447.1" rx="2.5" ry="1.9" transform="rotate(11 348.4 447.1)" fill="#4a589c"/><ellipse cx="354.8" cy="448.3" rx="2.5" ry="1.9" transform="rotate(8 354.8 448.3)" fill="#5565a8"/><ellipse cx="361.7" cy="448.1" rx="3.0" ry="2.7" transform="rotate(46 361.7 448.1)" fill="#6272b6"/><ellipse cx="367.4" cy="447.4" rx="2.8" ry="2.0" transform="rotate(74 367.4 447.4)" fill="#8290c8"/><ellipse cx="373.5" cy="447.2" rx="2.8" ry="2.3" transform="rotate(78 373.5 447.2)" fill="#4a589c"/><ellipse cx="380.0" cy="447.5" rx="2.7" ry="1.8" transform="rotate(65 380.0 447.5)" fill="#7484c0"/><ellipse cx="385.4" cy="447.9" rx="2.7" ry="2.5" transform="rotate(23 385.4 447.9)" fill="#5565a8"/><ellipse cx="394.1" cy="447.7" rx="2.9" ry="2.4" transform="rotate(70 394.1 447.7)" fill="#6272b6"/><ellipse cx="404.1" cy="449.7" rx="2.9" ry="2.7" transform="rotate(71 404.1 449.7)" fill="#8290c8"/><ellipse cx="412.0" cy="448.7" rx="2.9" ry="2.3" transform="rotate(132 412.0 448.7)" fill="#6272b6"/><ellipse cx="419.3" cy="448.9" rx="2.8" ry="2.2" transform="rotate(73 419.3 448.9)" fill="#5d6db0"/><ellipse cx="425.0" cy="448.2" rx="2.9" ry="2.2" transform="rotate(79 425.0 448.2)" fill="#6c7cba"/><ellipse cx="345.9" cy="455.1" rx="2.4" ry="1.7" transform="rotate(72 345.9 455.1)" fill="#5565a8"/><ellipse cx="353.2" cy="453.6" rx="2.5" ry="2.2" transform="rotate(147 353.2 453.6)" fill="#7484c0"/><ellipse cx="357.4" cy="453.7" rx="2.3" ry="1.6" transform="rotate(155 357.4 453.7)" fill="#8290c8"/><ellipse cx="370.9" cy="454.7" rx="3.1" ry="2.8" transform="rotate(93 370.9 454.7)" fill="#4a589c"/><ellipse cx="375.9" cy="452.7" rx="3.0" ry="2.7" transform="rotate(68 375.9 452.7)" fill="#4a589c"/><ellipse cx="384.5" cy="455.1" rx="2.8" ry="2.0" transform="rotate(22 384.5 455.1)" fill="#6c7cba"/><ellipse cx="388.9" cy="453.9" rx="2.3" ry="2.0" transform="rotate(71 388.9 453.9)" fill="#7484c0"/><ellipse cx="397.1" cy="453.2" rx="3.0" ry="2.7" transform="rotate(113 397.1 453.2)" fill="#5d6db0"/><ellipse cx="402.2" cy="453.7" rx="3.0" ry="2.6" transform="rotate(84 402.2 453.7)" fill="#5565a8"/><ellipse cx="409.2" cy="454.5" rx="3.0" ry="2.5" transform="rotate(48 409.2 454.5)" fill="#4a589c"/><ellipse cx="414.2" cy="454.8" rx="2.5" ry="2.2" transform="rotate(39 414.2 454.8)" fill="#4a589c"/><ellipse cx="420.1" cy="455.1" rx="2.3" ry="1.6" transform="rotate(112 420.1 455.1)" fill="#4a589c"/><ellipse cx="427.1" cy="454.0" rx="2.4" ry="2.2" transform="rotate(170 427.1 454.0)" fill="#5d6db0"/><ellipse cx="348.8" cy="458.6" rx="2.9" ry="2.7" transform="rotate(112 348.8 458.6)" fill="#5d6db0"/><ellipse cx="354.0" cy="458.3" rx="3.1" ry="2.5" transform="rotate(70 354.0 458.3)" fill="#6c7cba"/><ellipse cx="360.8" cy="459.0" rx="2.4" ry="2.0" transform="rotate(158 360.8 459.0)" fill="#6272b6"/><ellipse cx="368.7" cy="460.1" rx="2.5" ry="2.3" transform="rotate(10 368.7 460.1)" fill="#6c7cba"/><ellipse cx="373.1" cy="460.7" rx="3.0" ry="2.1" transform="rotate(137 373.1 460.7)" fill="#8290c8"/><ellipse cx="380.5" cy="460.7" rx="2.8" ry="2.5" transform="rotate(81 380.5 460.7)" fill="#6272b6"/><ellipse cx="387.7" cy="460.8" rx="2.5" ry="2.3" transform="rotate(156 387.7 460.8)" fill="#4a589c"/><ellipse cx="393.4" cy="460.2" rx="2.3" ry="1.6" transform="rotate(54 393.4 460.2)" fill="#7484c0"/><ellipse cx="404.2" cy="459.0" rx="2.4" ry="2.1" transform="rotate(160 404.2 459.0)" fill="#7484c0"/><ellipse cx="410.8" cy="459.1" rx="2.3" ry="1.6" transform="rotate(163 410.8 459.1)" fill="#4a589c"/><ellipse cx="417.5" cy="460.6" rx="2.9" ry="2.5" transform="rotate(108 417.5 460.6)" fill="#6272b6"/><ellipse cx="425.5" cy="458.3" rx="2.5" ry="1.8" transform="rotate(138 425.5 458.3)" fill="#6272b6"/><ellipse cx="431.7" cy="458.9" rx="2.8" ry="2.5" transform="rotate(50 431.7 458.9)" fill="#6c7cba"/></g></g>
<rect x="346.5" y="399.5" width="79.5" height="60" fill="none" stroke="#111" stroke-width="1"/>
<clipPath id="m01"><rect x="428.5" y="399.5" width="79" height="60"/></clipPath>
<g clip-path="url(#m01)"><rect x="428.5" y="399.5" width="79" height="60" fill="#d2c8cc"/><g filter="url(#mb)"><circle cx="474.4" cy="411.2" r="2.3" fill="#b89058" opacity="0.85"/><circle cx="465.4" cy="439.3" r="1.1" fill="#d4b478" opacity="0.85"/><circle cx="501.0" cy="428.6" r="2.1" fill="#b89058" opacity="0.85"/><circle cx="505.2" cy="403.7" r="1.1" fill="#c8a468" opacity="0.85"/><circle cx="463.7" cy="431.7" r="1.1" fill="#b89058" opacity="0.85"/><circle cx="447.4" cy="447.0" r="1.5" fill="#c8a468" opacity="0.85"/><circle cx="462.5" cy="417.8" r="1.0" fill="#b89058" opacity="0.85"/><circle cx="481.0" cy="452.4" r="1.4" fill="#dcc28a" opacity="0.85"/><circle cx="446.6" cy="404.1" r="2.0" fill="#dcc28a" opacity="0.85"/><circle cx="429.0" cy="427.3" r="1.7" fill="#b89058" opacity="0.85"/><ellipse cx="427.1" cy="398.1" rx="2.0" ry="1.8" transform="rotate(46 427.1 398.1)" fill="#8290c8"/><ellipse cx="433.2" cy="398.2" rx="2.5" ry="2.3" transform="rotate(121 433.2 398.2)" fill="#5d6db0"/><ellipse cx="438.5" cy="398.5" rx="2.4" ry="1.8" transform="rotate(1 438.5 398.5)" fill="#6c7cba"/><ellipse cx="441.3" cy="398.7" rx="2.2" ry="1.9" transform="rotate(173 441.3 398.7)" fill="#7e4638"/><ellipse cx="448.3" cy="399.4" rx="2.4" ry="1.7" transform="rotate(140 448.3 399.4)" fill="#8c5242"/><ellipse cx="453.6" cy="397.5" rx="2.5" ry="2.3" transform="rotate(15 453.6 397.5)" fill="#7e4638"/><ellipse cx="458.0" cy="398.1" rx="1.8" ry="1.4" transform="rotate(71 458.0 398.1)" fill="#6272b6"/><ellipse cx="461.8" cy="397.7" rx="1.9" ry="1.8" transform="rotate(62 461.8 397.7)" fill="#5565a8"/><ellipse cx="473.6" cy="397.1" rx="2.2" ry="2.0" transform="rotate(11 473.6 397.1)" fill="#50343a"/><ellipse cx="476.8" cy="397.9" rx="2.3" ry="1.9" transform="rotate(4 476.8 397.9)" fill="#5565a8"/><ellipse cx="481.9" cy="399.0" rx="2.4" ry="1.9" transform="rotate(132 481.9 399.0)" fill="#8c5242"/><ellipse cx="491.4" cy="398.1" rx="2.1" ry="1.6" transform="rotate(171 491.4 398.1)" fill="#4a589c"/><ellipse cx="497.1" cy="399.0" rx="2.2" ry="1.6" transform="rotate(76 497.1 399.0)" fill="#5565a8"/><ellipse cx="503.2" cy="397.8" rx="2.1" ry="1.7" transform="rotate(62 503.2 397.8)" fill="#7e4638"/><ellipse cx="430.7" cy="402.7" rx="2.3" ry="1.7" transform="rotate(119 430.7 402.7)" fill="#6272b6"/><ellipse cx="435.3" cy="403.9" rx="1.8" ry="1.7" transform="rotate(157 435.3 403.9)" fill="#6c7cba"/><ellipse cx="440.0" cy="403.8" rx="2.2" ry="1.5" transform="rotate(163 440.0 403.8)" fill="#5d6db0"/><ellipse cx="443.8" cy="403.2" rx="2.1" ry="1.7" transform="rotate(106 443.8 403.2)" fill="#9a5c46"/><ellipse cx="448.6" cy="402.5" rx="2.3" ry="1.9" transform="rotate(49 448.6 402.5)" fill="#4a589c"/><ellipse cx="454.1" cy="404.1" rx="2.3" ry="2.1" transform="rotate(9 454.1 404.1)" fill="#8c5242"/><ellipse cx="461.1" cy="404.1" rx="2.4" ry="2.0" transform="rotate(151 461.1 404.1)" fill="#6272b6"/><ellipse cx="463.6" cy="404.0" rx="2.2" ry="1.5" transform="rotate(28 463.6 404.0)" fill="#7484c0"/><ellipse cx="468.7" cy="403.2" rx="2.3" ry="2.2" transform="rotate(103 468.7 403.2)" fill="#5565a8"/><ellipse cx="475.6" cy="401.8" rx="2.3" ry="1.6" transform="rotate(60 475.6 401.8)" fill="#5e3630"/><ellipse cx="480.9" cy="403.3" rx="2.1" ry="1.8" transform="rotate(162 480.9 403.3)" fill="#4a589c"/><ellipse cx="483.7" cy="402.4" rx="2.4" ry="2.0" transform="rotate(153 483.7 402.4)" fill="#8c5242"/><ellipse cx="489.8" cy="404.1" rx="2.4" ry="2.1" transform="rotate(84 489.8 404.1)" fill="#7484c0"/><ellipse cx="494.2" cy="403.0" rx="1.8" ry="1.7" transform="rotate(169 494.2 403.0)" fill="#50343a"/><ellipse cx="501.3" cy="403.2" rx="2.3" ry="2.2" transform="rotate(14 501.3 403.2)" fill="#5e3630"/><ellipse cx="504.4" cy="402.0" rx="1.8" ry="1.5" transform="rotate(98 504.4 402.0)" fill="#6c7cba"/><ellipse cx="438.9" cy="408.2" rx="2.4" ry="1.8" transform="rotate(112 438.9 408.2)" fill="#6c7cba"/><ellipse cx="443.8" cy="407.9" rx="2.3" ry="1.7" transform="rotate(132 443.8 407.9)" fill="#8c5242"/><ellipse cx="446.9" cy="406.5" rx="2.4" ry="2.0" transform="rotate(2 446.9 406.5)" fill="#7e4638"/><ellipse cx="452.5" cy="407.2" rx="2.1" ry="1.6" transform="rotate(62 452.5 407.2)" fill="#9a5c46"/><ellipse cx="458.3" cy="408.0" rx="2.1" ry="1.8" transform="rotate(15 458.3 408.0)" fill="#50343a"/><ellipse cx="462.4" cy="408.2" rx="2.4" ry="1.7" transform="rotate(137 462.4 408.2)" fill="#8c5242"/><ellipse cx="468.8" cy="408.0" rx="2.3" ry="2.2" transform="rotate(149 468.8 408.0)" fill="#a0644a"/><ellipse cx="471.6" cy="408.2" rx="1.9" ry="1.4" transform="rotate(145 471.6 408.2)" fill="#5d6db0"/><ellipse cx="478.0" cy="406.6" rx="2.2" ry="1.9" transform="rotate(143 478.0 406.6)" fill="#7e4638"/><ellipse cx="482.4" cy="407.6" rx="2.1" ry="2.0" transform="rotate(40 482.4 407.6)" fill="#8c5242"/><ellipse cx="487.4" cy="406.1" rx="2.1" ry="1.9" transform="rotate(171 487.4 406.1)" fill="#7484c0"/><ellipse cx="496.2" cy="406.6" rx="2.5" ry="2.1" transform="rotate(104 496.2 406.6)" fill="#6c7cba"/><ellipse cx="503.5" cy="406.8" rx="2.3" ry="2.0" transform="rotate(98 503.5 406.8)" fill="#a0644a"/><ellipse cx="507.7" cy="406.7" rx="2.0" ry="1.9" transform="rotate(169 507.7 406.7)" fill="#7484c0"/><ellipse cx="430.6" cy="410.3" rx="1.9" ry="1.5" transform="rotate(46 430.6 410.3)" fill="#6c7cba"/><ellipse cx="434.8" cy="412.9" rx="1.9" ry="1.4" transform="rotate(101 434.8 412.9)" fill="#a0644a"/><ellipse cx="438.6" cy="410.8" rx="1.9" ry="1.6" transform="rotate(157 438.6 410.8)" fill="#a0644a"/><ellipse cx="443.8" cy="410.8" rx="2.4" ry="2.0" transform="rotate(0 443.8 410.8)" fill="#5565a8"/><ellipse cx="448.7" cy="411.3" rx="2.3" ry="1.7" transform="rotate(178 448.7 411.3)" fill="#6c7cba"/><ellipse cx="455.6" cy="410.9" rx="2.1" ry="1.4" transform="rotate(171 455.6 410.9)" fill="#a0644a"/><ellipse cx="461.1" cy="411.2" rx="2.1" ry="1.7" transform="rotate(178 461.1 411.2)" fill="#6272b6"/><ellipse cx="465.0" cy="412.5" rx="2.1" ry="1.7" transform="rotate(20 465.0 412.5)" fill="#6272b6"/><ellipse cx="469.9" cy="411.1" rx="2.0" ry="1.5" transform="rotate(34 469.9 411.1)" fill="#7484c0"/><ellipse cx="474.4" cy="412.5" rx="2.2" ry="2.0" transform="rotate(157 474.4 412.5)" fill="#a0644a"/><ellipse cx="484.8" cy="411.2" rx="2.0" ry="1.7" transform="rotate(171 484.8 411.2)" fill="#8290c8"/><ellipse cx="490.8" cy="410.9" rx="2.5" ry="1.7" transform="rotate(60 490.8 410.9)" fill="#8c5242"/><ellipse cx="495.8" cy="410.5" rx="2.3" ry="1.7" transform="rotate(38 495.8 410.5)" fill="#5e3630"/><ellipse cx="500.7" cy="411.0" rx="1.8" ry="1.2" transform="rotate(21 500.7 411.0)" fill="#8290c8"/><ellipse cx="505.7" cy="411.4" rx="2.4" ry="1.9" transform="rotate(106 505.7 411.4)" fill="#4a589c"/><ellipse cx="427.0" cy="416.0" rx="2.3" ry="1.8" transform="rotate(125 427.0 416.0)" fill="#8c5242"/><ellipse cx="431.3" cy="416.9" rx="2.4" ry="2.0" transform="rotate(118 431.3 416.9)" fill="#9a5c46"/><ellipse cx="441.9" cy="417.1" rx="2.3" ry="2.1" transform="rotate(175 441.9 417.1)" fill="#8c5242"/><ellipse cx="448.2" cy="417.1" rx="1.8" ry="1.7" transform="rotate(155 448.2 417.1)" fill="#5565a8"/><ellipse cx="451.3" cy="414.8" rx="1.9" ry="1.6" transform="rotate(139 451.3 414.8)" fill="#6272b6"/><ellipse cx="456.6" cy="414.9" rx="2.1" ry="1.6" transform="rotate(156 456.6 414.9)" fill="#50343a"/><ellipse cx="462.5" cy="414.9" rx="1.9" ry="1.3" transform="rotate(117 462.5 414.9)" fill="#a0644a"/><ellipse cx="467.9" cy="415.1" rx="2.3" ry="1.9" transform="rotate(31 467.9 415.1)" fill="#4a589c"/><ellipse cx="473.0" cy="415.2" rx="1.9" ry="1.4" transform="rotate(163 473.0 415.2)" fill="#6c7cba"/><ellipse cx="476.1" cy="415.6" rx="2.0" ry="1.6" transform="rotate(54 476.1 415.6)" fill="#a0644a"/><ellipse cx="482.9" cy="416.1" rx="2.2" ry="1.6" transform="rotate(178 482.9 416.1)" fill="#6c7cba"/><ellipse cx="488.2" cy="415.4" rx="2.0" ry="1.4" transform="rotate(46 488.2 415.4)" fill="#6c7cba"/><ellipse cx="492.8" cy="416.9" rx="2.4" ry="1.7" transform="rotate(160 492.8 416.9)" fill="#8c5242"/><ellipse cx="497.8" cy="415.8" rx="2.4" ry="1.8" transform="rotate(32 497.8 415.8)" fill="#7e4638"/><ellipse cx="501.4" cy="415.9" rx="2.0" ry="1.8" transform="rotate(39 501.4 415.9)" fill="#5565a8"/><ellipse cx="508.4" cy="416.3" rx="2.3" ry="1.7" transform="rotate(160 508.4 416.3)" fill="#7484c0"/><ellipse cx="431.2" cy="419.8" rx="1.8" ry="1.6" transform="rotate(46 431.2 419.8)" fill="#7e4638"/><ellipse cx="434.5" cy="421.6" rx="2.0" ry="1.8" transform="rotate(70 434.5 421.6)" fill="#5565a8"/><ellipse cx="439.3" cy="420.1" rx="2.2" ry="1.7" transform="rotate(46 439.3 420.1)" fill="#50343a"/><ellipse cx="443.9" cy="421.2" rx="2.2" ry="1.9" transform="rotate(165 443.9 421.2)" fill="#7484c0"/><ellipse cx="450.9" cy="419.8" rx="2.3" ry="1.6" transform="rotate(93 450.9 419.8)" fill="#4a589c"/><ellipse cx="454.8" cy="421.1" rx="2.0" ry="1.8" transform="rotate(71 454.8 421.1)" fill="#7e4638"/><ellipse cx="460.8" cy="420.2" rx="2.2" ry="2.1" transform="rotate(16 460.8 420.2)" fill="#50343a"/><ellipse cx="465.9" cy="421.1" rx="2.2" ry="2.1" transform="rotate(20 465.9 421.1)" fill="#9a5c46"/><ellipse cx="468.6" cy="419.8" rx="2.0" ry="1.7" transform="rotate(57 468.6 419.8)" fill="#6272b6"/><ellipse cx="474.9" cy="420.9" rx="1.9" ry="1.8" transform="rotate(104 474.9 420.9)" fill="#50343a"/><ellipse cx="480.4" cy="421.0" rx="2.2" ry="1.9" transform="rotate(124 480.4 421.0)" fill="#8290c8"/><ellipse cx="484.3" cy="421.9" rx="2.4" ry="2.0" transform="rotate(6 484.3 421.9)" fill="#6272b6"/><ellipse cx="489.9" cy="421.7" rx="2.1" ry="2.0" transform="rotate(45 489.9 421.7)" fill="#4a589c"/><ellipse cx="494.0" cy="421.7" rx="2.2" ry="1.6" transform="rotate(143 494.0 421.7)" fill="#50343a"/><ellipse cx="501.0" cy="420.6" rx="2.1" ry="1.9" transform="rotate(132 501.0 420.6)" fill="#5565a8"/><ellipse cx="505.1" cy="420.4" rx="2.0" ry="1.5" transform="rotate(116 505.1 420.4)" fill="#7484c0"/><ellipse cx="511.0" cy="420.0" rx="2.1" ry="1.7" transform="rotate(14 511.0 420.0)" fill="#8290c8"/><ellipse cx="427.6" cy="424.6" rx="2.5" ry="2.0" transform="rotate(131 427.6 424.6)" fill="#50343a"/><ellipse cx="432.5" cy="424.9" rx="2.5" ry="2.2" transform="rotate(103 432.5 424.9)" fill="#5d6db0"/><ellipse cx="441.1" cy="426.1" rx="2.0" ry="1.4" transform="rotate(1 441.1 426.1)" fill="#6272b6"/><ellipse cx="446.7" cy="424.2" rx="2.0" ry="1.6" transform="rotate(112 446.7 424.2)" fill="#5565a8"/><ellipse cx="456.5" cy="425.0" rx="1.8" ry="1.3" transform="rotate(105 456.5 425.0)" fill="#6272b6"/><ellipse cx="463.0" cy="425.9" rx="2.2" ry="1.5" transform="rotate(43 463.0 425.9)" fill="#50343a"/><ellipse cx="466.5" cy="426.2" rx="2.2" ry="2.0" transform="rotate(75 466.5 426.2)" fill="#6c7cba"/><ellipse cx="471.8" cy="423.7" rx="2.0" ry="1.6" transform="rotate(122 471.8 423.7)" fill="#7484c0"/><ellipse cx="477.1" cy="426.0" rx="2.0" ry="1.8" transform="rotate(88 477.1 426.0)" fill="#5565a8"/><ellipse cx="482.5" cy="424.2" rx="2.2" ry="2.1" transform="rotate(106 482.5 424.2)" fill="#7484c0"/><ellipse cx="492.4" cy="423.5" rx="2.1" ry="1.8" transform="rotate(103 492.4 423.5)" fill="#5565a8"/><ellipse cx="498.8" cy="423.6" rx="2.0" ry="1.7" transform="rotate(126 498.8 423.6)" fill="#8c5242"/><ellipse cx="503.2" cy="426.2" rx="2.0" ry="1.6" transform="rotate(128 503.2 426.2)" fill="#5e3630"/><ellipse cx="508.1" cy="425.6" rx="1.9" ry="1.6" transform="rotate(93 508.1 425.6)" fill="#7e4638"/><ellipse cx="430.0" cy="428.8" rx="2.4" ry="1.7" transform="rotate(32 430.0 428.8)" fill="#50343a"/><ellipse cx="435.6" cy="429.1" rx="1.8" ry="1.7" transform="rotate(4 435.6 429.1)" fill="#9a5c46"/><ellipse cx="441.3" cy="430.0" rx="2.4" ry="1.9" transform="rotate(115 441.3 430.0)" fill="#8290c8"/><ellipse cx="445.9" cy="430.5" rx="2.4" ry="2.1" transform="rotate(44 445.9 430.5)" fill="#50343a"/><ellipse cx="451.3" cy="430.6" rx="2.4" ry="1.8" transform="rotate(99 451.3 430.6)" fill="#9a5c46"/><ellipse cx="455.3" cy="429.9" rx="2.2" ry="1.9" transform="rotate(23 455.3 429.9)" fill="#a0644a"/><ellipse cx="460.8" cy="430.3" rx="2.4" ry="2.1" transform="rotate(58 460.8 430.3)" fill="#6272b6"/><ellipse cx="468.9" cy="430.1" rx="2.1" ry="1.8" transform="rotate(87 468.9 430.1)" fill="#50343a"/><ellipse cx="474.1" cy="428.6" rx="2.4" ry="2.1" transform="rotate(131 474.1 428.6)" fill="#6272b6"/><ellipse cx="480.7" cy="429.7" rx="2.5" ry="2.1" transform="rotate(73 480.7 429.7)" fill="#7484c0"/><ellipse cx="486.3" cy="430.7" rx="1.9" ry="1.6" transform="rotate(103 486.3 430.7)" fill="#5d6db0"/><ellipse cx="489.6" cy="430.5" rx="1.9" ry="1.3" transform="rotate(129 489.6 430.5)" fill="#6272b6"/><ellipse cx="495.2" cy="429.8" rx="2.0" ry="1.7" transform="rotate(22 495.2 429.8)" fill="#6c7cba"/><ellipse cx="501.2" cy="429.2" rx="2.4" ry="1.9" transform="rotate(88 501.2 429.2)" fill="#5565a8"/><ellipse cx="505.7" cy="428.1" rx="2.3" ry="1.6" transform="rotate(61 505.7 428.1)" fill="#7484c0"/><ellipse cx="427.6" cy="432.9" rx="2.4" ry="1.7" transform="rotate(80 427.6 432.9)" fill="#6272b6"/><ellipse cx="433.5" cy="432.3" rx="2.3" ry="2.1" transform="rotate(169 433.5 432.3)" fill="#8290c8"/><ellipse cx="437.0" cy="432.4" rx="2.0" ry="1.5" transform="rotate(35 437.0 432.4)" fill="#4a589c"/><ellipse cx="442.2" cy="433.4" rx="2.2" ry="1.7" transform="rotate(28 442.2 433.4)" fill="#9a5c46"/><ellipse cx="448.7" cy="432.5" rx="1.8" ry="1.4" transform="rotate(47 448.7 432.5)" fill="#7e4638"/><ellipse cx="453.1" cy="432.6" rx="2.3" ry="1.9" transform="rotate(24 453.1 432.6)" fill="#8c5242"/><ellipse cx="456.8" cy="433.0" rx="2.4" ry="2.2" transform="rotate(158 456.8 433.0)" fill="#5565a8"/><ellipse cx="463.4" cy="434.8" rx="2.3" ry="1.6" transform="rotate(143 463.4 434.8)" fill="#5e3630"/><ellipse cx="466.2" cy="433.6" rx="1.9" ry="1.5" transform="rotate(138 466.2 433.6)" fill="#5d6db0"/><ellipse cx="472.8" cy="434.3" rx="2.1" ry="1.7" transform="rotate(37 472.8 434.3)" fill="#5565a8"/><ellipse cx="478.3" cy="432.9" rx="2.4" ry="1.8" transform="rotate(110 478.3 432.9)" fill="#5d6db0"/><ellipse cx="483.1" cy="433.3" rx="2.0" ry="1.8" transform="rotate(172 483.1 433.3)" fill="#6c7cba"/><ellipse cx="486.8" cy="433.3" rx="2.0" ry="1.7" transform="rotate(63 486.8 433.3)" fill="#9a5c46"/><ellipse cx="492.0" cy="433.5" rx="1.9" ry="1.8" transform="rotate(42 492.0 433.5)" fill="#9a5c46"/><ellipse cx="503.1" cy="434.5" rx="2.2" ry="1.9" transform="rotate(69 503.1 434.5)" fill="#6272b6"/><ellipse cx="506.6" cy="433.0" rx="1.9" ry="1.7" transform="rotate(16 506.6 433.0)" fill="#50343a"/><ellipse cx="429.6" cy="438.1" rx="2.1" ry="1.8" transform="rotate(136 429.6 438.1)" fill="#9a5c46"/><ellipse cx="441.2" cy="437.7" rx="1.9" ry="1.8" transform="rotate(6 441.2 437.7)" fill="#8290c8"/><ellipse cx="449.1" cy="438.3" rx="1.8" ry="1.4" transform="rotate(169 449.1 438.3)" fill="#5e3630"/><ellipse cx="460.1" cy="437.7" rx="2.1" ry="1.7" transform="rotate(17 460.1 437.7)" fill="#5565a8"/><ellipse cx="464.5" cy="438.2" rx="1.9" ry="1.6" transform="rotate(101 464.5 438.2)" fill="#6c7cba"/><ellipse cx="471.2" cy="437.6" rx="2.1" ry="1.7" transform="rotate(30 471.2 437.6)" fill="#a0644a"/><ellipse cx="476.3" cy="436.8" rx="2.4" ry="2.1" transform="rotate(57 476.3 436.8)" fill="#7484c0"/><ellipse cx="480.7" cy="438.6" rx="1.9" ry="1.3" transform="rotate(116 480.7 438.6)" fill="#4a589c"/><ellipse cx="484.9" cy="437.2" rx="2.0" ry="1.9" transform="rotate(94 484.9 437.2)" fill="#7e4638"/><ellipse cx="488.7" cy="437.1" rx="2.4" ry="2.0" transform="rotate(103 488.7 437.1)" fill="#6272b6"/><ellipse cx="499.9" cy="437.4" rx="2.1" ry="2.0" transform="rotate(9 499.9 437.4)" fill="#50343a"/><ellipse cx="505.2" cy="438.8" rx="1.9" ry="1.5" transform="rotate(9 505.2 438.8)" fill="#5d6db0"/><ellipse cx="509.5" cy="437.5" rx="2.2" ry="1.6" transform="rotate(157 509.5 437.5)" fill="#5565a8"/><ellipse cx="428.3" cy="443.8" rx="2.3" ry="1.8" transform="rotate(68 428.3 443.8)" fill="#9a5c46"/><ellipse cx="438.8" cy="443.5" rx="2.4" ry="1.7" transform="rotate(119 438.8 443.5)" fill="#5565a8"/><ellipse cx="441.9" cy="443.5" rx="2.1" ry="1.9" transform="rotate(88 441.9 443.5)" fill="#a0644a"/><ellipse cx="447.5" cy="441.6" rx="2.4" ry="2.3" transform="rotate(120 447.5 441.6)" fill="#7e4638"/><ellipse cx="453.6" cy="442.4" rx="2.0" ry="1.5" transform="rotate(52 453.6 442.4)" fill="#5e3630"/><ellipse cx="456.1" cy="442.0" rx="1.9" ry="1.7" transform="rotate(175 456.1 442.0)" fill="#8c5242"/><ellipse cx="462.0" cy="441.5" rx="1.9" ry="1.6" transform="rotate(45 462.0 441.5)" fill="#5e3630"/><ellipse cx="467.6" cy="441.9" rx="2.0" ry="1.4" transform="rotate(26 467.6 441.9)" fill="#5e3630"/><ellipse cx="471.6" cy="442.1" rx="2.0" ry="1.7" transform="rotate(169 471.6 442.1)" fill="#6c7cba"/><ellipse cx="477.2" cy="441.4" rx="1.9" ry="1.6" transform="rotate(47 477.2 441.4)" fill="#6c7cba"/><ellipse cx="482.9" cy="441.2" rx="2.1" ry="1.8" transform="rotate(24 482.9 441.2)" fill="#7484c0"/><ellipse cx="492.3" cy="441.4" rx="2.2" ry="1.6" transform="rotate(88 492.3 441.4)" fill="#6c7cba"/><ellipse cx="497.5" cy="443.2" rx="2.5" ry="2.1" transform="rotate(166 497.5 443.2)" fill="#50343a"/><ellipse cx="503.1" cy="443.2" rx="2.1" ry="1.5" transform="rotate(48 503.1 443.2)" fill="#9a5c46"/><ellipse cx="508.9" cy="442.1" rx="2.1" ry="1.9" transform="rotate(89 508.9 442.1)" fill="#9a5c46"/><ellipse cx="430.0" cy="445.9" rx="2.2" ry="1.8" transform="rotate(75 430.0 445.9)" fill="#5e3630"/><ellipse cx="434.5" cy="448.2" rx="2.5" ry="1.9" transform="rotate(25 434.5 448.2)" fill="#7484c0"/><ellipse cx="440.8" cy="448.1" rx="2.0" ry="1.5" transform="rotate(106 440.8 448.1)" fill="#7484c0"/><ellipse cx="445.0" cy="446.7" rx="2.0" ry="1.6" transform="rotate(105 445.0 446.7)" fill="#9a5c46"/><ellipse cx="449.8" cy="446.8" rx="2.5" ry="2.3" transform="rotate(110 449.8 446.8)" fill="#6c7cba"/><ellipse cx="454.2" cy="446.0" rx="2.2" ry="1.9" transform="rotate(27 454.2 446.0)" fill="#a0644a"/><ellipse cx="460.4" cy="446.7" rx="2.5" ry="1.9" transform="rotate(170 460.4 446.7)" fill="#4a589c"/><ellipse cx="464.3" cy="446.8" rx="2.3" ry="1.7" transform="rotate(87 464.3 446.8)" fill="#a0644a"/><ellipse cx="469.4" cy="446.8" rx="2.5" ry="1.9" transform="rotate(133 469.4 446.8)" fill="#8c5242"/><ellipse cx="475.0" cy="448.1" rx="2.4" ry="2.1" transform="rotate(146 475.0 448.1)" fill="#6272b6"/><ellipse cx="480.4" cy="447.5" rx="2.3" ry="1.7" transform="rotate(20 480.4 447.5)" fill="#5e3630"/><ellipse cx="484.2" cy="445.6" rx="2.4" ry="1.9" transform="rotate(110 484.2 445.6)" fill="#5e3630"/><ellipse cx="490.4" cy="447.9" rx="2.0" ry="1.7" transform="rotate(165 490.4 447.9)" fill="#8c5242"/><ellipse cx="494.6" cy="446.7" rx="2.5" ry="2.0" transform="rotate(20 494.6 446.7)" fill="#9a5c46"/><ellipse cx="499.3" cy="446.1" rx="2.0" ry="1.4" transform="rotate(39 499.3 446.1)" fill="#8c5242"/><ellipse cx="505.9" cy="446.3" rx="2.1" ry="1.7" transform="rotate(122 505.9 446.3)" fill="#50343a"/><ellipse cx="510.6" cy="447.6" rx="2.1" ry="1.6" transform="rotate(17 510.6 447.6)" fill="#7484c0"/><ellipse cx="426.1" cy="452.2" rx="2.2" ry="1.9" transform="rotate(112 426.1 452.2)" fill="#8290c8"/><ellipse cx="431.9" cy="451.2" rx="1.9" ry="1.7" transform="rotate(100 431.9 451.2)" fill="#8290c8"/><ellipse cx="438.2" cy="450.3" rx="2.3" ry="1.7" transform="rotate(107 438.2 450.3)" fill="#a0644a"/><ellipse cx="443.3" cy="451.0" rx="2.0" ry="1.8" transform="rotate(54 443.3 451.0)" fill="#6272b6"/><ellipse cx="446.7" cy="451.3" rx="2.1" ry="1.5" transform="rotate(15 446.7 451.3)" fill="#6272b6"/><ellipse cx="452.5" cy="450.9" rx="2.4" ry="2.2" transform="rotate(29 452.5 450.9)" fill="#7484c0"/><ellipse cx="457.9" cy="452.6" rx="2.2" ry="1.9" transform="rotate(139 457.9 452.6)" fill="#7e4638"/><ellipse cx="462.4" cy="450.1" rx="2.4" ry="1.7" transform="rotate(175 462.4 450.1)" fill="#9a5c46"/><ellipse cx="467.9" cy="452.2" rx="2.0" ry="1.4" transform="rotate(110 467.9 452.2)" fill="#9a5c46"/><ellipse cx="472.9" cy="451.6" rx="2.4" ry="1.9" transform="rotate(92 472.9 451.6)" fill="#8c5242"/><ellipse cx="476.5" cy="450.0" rx="2.2" ry="1.7" transform="rotate(48 476.5 450.0)" fill="#6272b6"/><ellipse cx="483.6" cy="450.9" rx="1.9" ry="1.7" transform="rotate(4 483.6 450.9)" fill="#5565a8"/><ellipse cx="488.0" cy="451.6" rx="2.0" ry="1.4" transform="rotate(23 488.0 451.6)" fill="#7484c0"/><ellipse cx="493.1" cy="450.1" rx="2.3" ry="1.8" transform="rotate(17 493.1 450.1)" fill="#50343a"/><ellipse cx="497.7" cy="450.5" rx="2.4" ry="2.1" transform="rotate(21 497.7 450.5)" fill="#8c5242"/><ellipse cx="501.3" cy="451.2" rx="1.9" ry="1.7" transform="rotate(44 501.3 451.2)" fill="#50343a"/><ellipse cx="508.4" cy="451.1" rx="1.9" ry="1.6" transform="rotate(88 508.4 451.1)" fill="#8c5242"/><ellipse cx="430.1" cy="456.3" rx="2.4" ry="1.7" transform="rotate(86 430.1 456.3)" fill="#8290c8"/><ellipse cx="434.5" cy="455.0" rx="2.4" ry="1.6" transform="rotate(55 434.5 455.0)" fill="#50343a"/><ellipse cx="441.3" cy="455.9" rx="2.4" ry="1.8" transform="rotate(173 441.3 455.9)" fill="#6272b6"/><ellipse cx="445.2" cy="456.4" rx="1.9" ry="1.4" transform="rotate(165 445.2 456.4)" fill="#8c5242"/><ellipse cx="450.4" cy="455.2" rx="2.3" ry="2.1" transform="rotate(92 450.4 455.2)" fill="#7e4638"/><ellipse cx="455.9" cy="454.4" rx="2.1" ry="1.7" transform="rotate(151 455.9 454.4)" fill="#7e4638"/><ellipse cx="458.8" cy="456.1" rx="2.0" ry="1.6" transform="rotate(177 458.8 456.1)" fill="#7e4638"/><ellipse cx="468.6" cy="455.1" rx="1.9" ry="1.4" transform="rotate(154 468.6 455.1)" fill="#8c5242"/><ellipse cx="473.7" cy="456.5" rx="2.4" ry="2.1" transform="rotate(71 473.7 456.5)" fill="#8c5242"/><ellipse cx="481.2" cy="455.2" rx="2.4" ry="1.9" transform="rotate(29 481.2 455.2)" fill="#50343a"/><ellipse cx="484.1" cy="455.6" rx="2.4" ry="1.9" transform="rotate(142 484.1 455.6)" fill="#50343a"/><ellipse cx="496.3" cy="455.6" rx="2.4" ry="2.0" transform="rotate(154 496.3 455.6)" fill="#7484c0"/><ellipse cx="500.1" cy="455.2" rx="2.3" ry="2.2" transform="rotate(78 500.1 455.2)" fill="#5d6db0"/><ellipse cx="505.9" cy="455.4" rx="2.0" ry="1.9" transform="rotate(78 505.9 455.4)" fill="#8290c8"/><ellipse cx="509.5" cy="455.6" rx="2.0" ry="1.6" transform="rotate(2 509.5 455.6)" fill="#50343a"/><ellipse cx="426.6" cy="459.4" rx="2.0" ry="1.5" transform="rotate(44 426.6 459.4)" fill="#50343a"/><ellipse cx="431.2" cy="461.3" rx="2.2" ry="1.9" transform="rotate(102 431.2 461.3)" fill="#50343a"/><ellipse cx="436.9" cy="459.9" rx="2.1" ry="1.6" transform="rotate(120 436.9 459.9)" fill="#7484c0"/><ellipse cx="446.9" cy="460.8" rx="1.9" ry="1.8" transform="rotate(162 446.9 460.8)" fill="#9a5c46"/><ellipse cx="452.2" cy="460.6" rx="2.0" ry="1.4" transform="rotate(8 452.2 460.6)" fill="#5e3630"/><ellipse cx="457.1" cy="460.2" rx="2.4" ry="2.0" transform="rotate(78 457.1 460.2)" fill="#8290c8"/><ellipse cx="462.7" cy="461.5" rx="2.3" ry="2.1" transform="rotate(81 462.7 461.5)" fill="#50343a"/><ellipse cx="466.2" cy="459.0" rx="1.9" ry="1.3" transform="rotate(164 466.2 459.0)" fill="#50343a"/><ellipse cx="472.4" cy="459.3" rx="2.3" ry="1.8" transform="rotate(11 472.4 459.3)" fill="#5e3630"/><ellipse cx="478.1" cy="460.7" rx="2.1" ry="1.6" transform="rotate(162 478.1 460.7)" fill="#6272b6"/><ellipse cx="482.6" cy="459.3" rx="2.4" ry="2.2" transform="rotate(104 482.6 459.3)" fill="#9a5c46"/><ellipse cx="487.9" cy="460.5" rx="2.1" ry="1.8" transform="rotate(29 487.9 460.5)" fill="#9a5c46"/><ellipse cx="493.3" cy="459.9" rx="2.4" ry="2.2" transform="rotate(77 493.3 459.9)" fill="#7484c0"/><ellipse cx="496.8" cy="461.3" rx="1.9" ry="1.4" transform="rotate(7 496.8 461.3)" fill="#6c7cba"/><ellipse cx="501.8" cy="459.4" rx="2.3" ry="2.1" transform="rotate(8 501.8 459.4)" fill="#9a5c46"/><ellipse cx="506.8" cy="459.4" rx="1.9" ry="1.3" transform="rotate(111 506.8 459.4)" fill="#7e4638"/></g></g>
<rect x="428.5" y="399.5" width="79" height="60" fill="none" stroke="#111" stroke-width="1"/>
<clipPath id="m10"><rect x="346.5" y="463.5" width="79.5" height="59"/></clipPath>
<g clip-path="url(#m10)"><rect x="346.5" y="463.5" width="79.5" height="59" fill="#dcdadf"/><g filter="url(#mb)"><circle cx="420.8" cy="486.4" r="2.1" fill="#d4b478" opacity="0.85"/><circle cx="379.2" cy="505.6" r="1.8" fill="#c8a468" opacity="0.85"/><circle cx="389.8" cy="493.1" r="2.0" fill="#c8a468" opacity="0.85"/><circle cx="411.3" cy="517.3" r="1.0" fill="#c8a468" opacity="0.85"/><circle cx="388.5" cy="488.6" r="1.7" fill="#d4b478" opacity="0.85"/><circle cx="368.6" cy="484.9" r="1.6" fill="#dcc28a" opacity="0.85"/><circle cx="420.5" cy="509.4" r="1.5" fill="#d4b478" opacity="0.85"/><circle cx="362.0" cy="487.7" r="1.2" fill="#dcc28a" opacity="0.85"/><circle cx="364.4" cy="468.5" r="1.3" fill="#d4b478" opacity="0.85"/><circle cx="359.6" cy="471.8" r="2.1" fill="#b89058" opacity="0.85"/><circle cx="417.2" cy="463.7" r="1.2" fill="#d4b478" opacity="0.85"/><circle cx="347.5" cy="487.2" r="1.1" fill="#dcc28a" opacity="0.85"/><circle cx="372.0" cy="506.4" r="2.3" fill="#b89058" opacity="0.85"/><circle cx="350.1" cy="519.1" r="1.5" fill="#c8a468" opacity="0.85"/><circle cx="372.2" cy="468.8" r="2.4" fill="#dcc28a" opacity="0.85"/><circle cx="388.4" cy="519.4" r="1.1" fill="#c8a468" opacity="0.85"/><circle cx="349.3" cy="464.5" r="2.1" fill="#d4b478" opacity="0.85"/><circle cx="398.3" cy="470.4" r="1.9" fill="#b89058" opacity="0.85"/><circle cx="413.7" cy="494.0" r="2.2" fill="#c8a468" opacity="0.85"/><circle cx="347.4" cy="506.5" r="2.0" fill="#c8a468" opacity="0.85"/><circle cx="371.8" cy="496.1" r="0.9" fill="#c8a468" opacity="0.85"/><circle cx="399.6" cy="463.9" r="0.9" fill="#b89058" opacity="0.85"/><circle cx="361.4" cy="522.2" r="1.4" fill="#b89058" opacity="0.85"/><circle cx="397.0" cy="478.1" r="1.2" fill="#d4b478" opacity="0.85"/><circle cx="388.1" cy="517.6" r="2.3" fill="#dcc28a" opacity="0.85"/><circle cx="396.3" cy="507.2" r="1.3" fill="#d4b478" opacity="0.85"/><circle cx="366.3" cy="493.9" r="1.5" fill="#c8a468" opacity="0.85"/><circle cx="349.7" cy="471.4" r="1.4" fill="#dcc28a" opacity="0.85"/><circle cx="350.4" cy="505.3" r="1.9" fill="#d4b478" opacity="0.85"/><circle cx="377.7" cy="474.9" r="2.0" fill="#d4b478" opacity="0.85"/><ellipse cx="344.5" cy="461.3" rx="2.4" ry="1.7" transform="rotate(22 344.5 461.3)" fill="#6c7cba"/><ellipse cx="350.7" cy="463.3" rx="3.1" ry="2.3" transform="rotate(149 350.7 463.3)" fill="#5d6db0"/><ellipse cx="357.9" cy="463.2" rx="2.4" ry="2.0" transform="rotate(143 357.9 463.2)" fill="#4a589c"/><ellipse cx="364.1" cy="462.1" rx="3.1" ry="2.8" transform="rotate(41 364.1 462.1)" fill="#6c7cba"/><ellipse cx="372.0" cy="461.5" rx="2.4" ry="2.2" transform="rotate(161 372.0 461.5)" fill="#5565a8"/><ellipse cx="376.7" cy="463.2" rx="2.9" ry="2.6" transform="rotate(0 376.7 463.2)" fill="#5565a8"/><ellipse cx="383.5" cy="462.1" rx="2.9" ry="2.2" transform="rotate(83 383.5 462.1)" fill="#5565a8"/><ellipse cx="390.3" cy="463.9" rx="2.4" ry="1.8" transform="rotate(71 390.3 463.9)" fill="#8290c8"/><ellipse cx="395.9" cy="461.2" rx="2.8" ry="2.0" transform="rotate(32 395.9 461.2)" fill="#8290c8"/><ellipse cx="401.8" cy="462.4" rx="2.9" ry="2.7" transform="rotate(162 401.8 462.4)" fill="#6c7cba"/><ellipse cx="407.5" cy="462.7" rx="2.6" ry="2.1" transform="rotate(123 407.5 462.7)" fill="#6272b6"/><ellipse cx="416.1" cy="463.6" rx="3.0" ry="2.1" transform="rotate(34 416.1 463.6)" fill="#6c7cba"/><ellipse cx="420.7" cy="462.5" rx="2.6" ry="1.9" transform="rotate(150 420.7 462.5)" fill="#8290c8"/><ellipse cx="428.3" cy="462.7" rx="2.7" ry="2.3" transform="rotate(90 428.3 462.7)" fill="#6c7cba"/><ellipse cx="348.7" cy="466.8" rx="2.3" ry="1.6" transform="rotate(129 348.7 466.8)" fill="#6c7cba"/><ellipse cx="353.8" cy="469.2" rx="2.5" ry="2.0" transform="rotate(84 353.8 469.2)" fill="#5d6db0"/><ellipse cx="361.3" cy="468.3" rx="2.9" ry="2.6" transform="rotate(59 361.3 468.3)" fill="#5565a8"/><ellipse cx="368.1" cy="467.2" rx="2.3" ry="1.7" transform="rotate(8 368.1 467.2)" fill="#8290c8"/><ellipse cx="374.0" cy="466.9" rx="2.9" ry="2.6" transform="rotate(13 374.0 466.9)" fill="#6c7cba"/><ellipse cx="380.0" cy="467.0" rx="3.1" ry="2.4" transform="rotate(97 380.0 467.0)" fill="#7484c0"/><ellipse cx="391.5" cy="469.0" rx="2.4" ry="2.0" transform="rotate(20 391.5 469.0)" fill="#5565a8"/><ellipse cx="399.5" cy="469.0" rx="2.8" ry="2.5" transform="rotate(85 399.5 469.0)" fill="#6272b6"/><ellipse cx="411.5" cy="468.7" rx="2.3" ry="1.7" transform="rotate(47 411.5 468.7)" fill="#8290c8"/><ellipse cx="416.8" cy="468.3" rx="3.1" ry="2.6" transform="rotate(163 416.8 468.3)" fill="#6c7cba"/><ellipse cx="424.1" cy="467.4" rx="2.6" ry="2.0" transform="rotate(85 424.1 467.4)" fill="#5d6db0"/><ellipse cx="430.4" cy="468.8" rx="2.7" ry="2.3" transform="rotate(76 430.4 468.8)" fill="#6272b6"/><ellipse cx="344.3" cy="472.2" rx="2.9" ry="2.3" transform="rotate(43 344.3 472.2)" fill="#7484c0"/><ellipse cx="350.6" cy="473.9" rx="3.1" ry="2.8" transform="rotate(172 350.6 473.9)" fill="#4a589c"/><ellipse cx="357.1" cy="472.9" rx="2.8" ry="2.5" transform="rotate(53 357.1 472.9)" fill="#8290c8"/><ellipse cx="363.5" cy="474.6" rx="2.6" ry="2.0" transform="rotate(30 363.5 474.6)" fill="#6272b6"/><ellipse cx="369.6" cy="475.0" rx="2.9" ry="2.1" transform="rotate(156 369.6 475.0)" fill="#6272b6"/><ellipse cx="378.0" cy="474.2" rx="2.9" ry="2.2" transform="rotate(13 378.0 474.2)" fill="#4a589c"/><ellipse cx="384.5" cy="474.6" rx="2.8" ry="2.0" transform="rotate(116 384.5 474.6)" fill="#7484c0"/><ellipse cx="389.1" cy="472.7" rx="3.0" ry="2.2" transform="rotate(129 389.1 472.7)" fill="#4a589c"/><ellipse cx="403.2" cy="473.7" rx="2.7" ry="2.4" transform="rotate(109 403.2 473.7)" fill="#7484c0"/><ellipse cx="408.7" cy="472.3" rx="2.8" ry="2.6" transform="rotate(137 408.7 472.3)" fill="#8290c8"/><ellipse cx="415.5" cy="473.3" rx="2.5" ry="1.8" transform="rotate(1 415.5 473.3)" fill="#4a589c"/><ellipse cx="420.2" cy="473.3" rx="3.0" ry="2.2" transform="rotate(48 420.2 473.3)" fill="#5565a8"/><ellipse cx="348.9" cy="478.4" rx="2.6" ry="2.2" transform="rotate(20 348.9 478.4)" fill="#5565a8"/><ellipse cx="354.8" cy="480.1" rx="3.0" ry="2.3" transform="rotate(77 354.8 480.1)" fill="#5d6db0"/><ellipse cx="367.6" cy="478.1" rx="3.1" ry="2.7" transform="rotate(134 367.6 478.1)" fill="#8290c8"/><ellipse cx="374.0" cy="479.2" rx="2.3" ry="2.0" transform="rotate(146 374.0 479.2)" fill="#8290c8"/><ellipse cx="380.4" cy="479.8" rx="2.9" ry="2.5" transform="rotate(62 380.4 479.8)" fill="#8290c8"/><ellipse cx="385.3" cy="480.1" rx="2.8" ry="2.3" transform="rotate(168 385.3 480.1)" fill="#5565a8"/><ellipse cx="392.4" cy="479.1" rx="2.3" ry="2.0" transform="rotate(28 392.4 479.1)" fill="#6c7cba"/><ellipse cx="399.6" cy="478.0" rx="2.6" ry="1.8" transform="rotate(115 399.6 478.0)" fill="#5d6db0"/><ellipse cx="405.5" cy="480.4" rx="3.1" ry="2.8" transform="rotate(55 405.5 480.4)" fill="#5d6db0"/><ellipse cx="410.7" cy="478.6" rx="3.0" ry="2.5" transform="rotate(136 410.7 478.6)" fill="#4a589c"/><ellipse cx="419.1" cy="477.9" rx="2.8" ry="2.6" transform="rotate(61 419.1 477.9)" fill="#7484c0"/><ellipse cx="423.0" cy="479.0" rx="3.0" ry="2.4" transform="rotate(143 423.0 479.0)" fill="#6272b6"/><ellipse cx="430.5" cy="479.8" rx="2.4" ry="2.0" transform="rotate(78 430.5 479.8)" fill="#5565a8"/><ellipse cx="346.8" cy="485.6" rx="2.3" ry="2.0" transform="rotate(68 346.8 485.6)" fill="#5d6db0"/><ellipse cx="353.0" cy="485.4" rx="2.3" ry="2.0" transform="rotate(45 353.0 485.4)" fill="#6272b6"/><ellipse cx="359.2" cy="485.1" rx="3.0" ry="2.3" transform="rotate(131 359.2 485.1)" fill="#5565a8"/><ellipse cx="365.7" cy="483.7" rx="2.7" ry="2.5" transform="rotate(122 365.7 483.7)" fill="#4a589c"/><ellipse cx="369.5" cy="485.7" rx="2.4" ry="1.7" transform="rotate(47 369.5 485.7)" fill="#6c7cba"/><ellipse cx="377.8" cy="484.3" rx="3.0" ry="2.5" transform="rotate(110 377.8 484.3)" fill="#8290c8"/><ellipse cx="382.5" cy="483.3" rx="2.8" ry="2.5" transform="rotate(3 382.5 483.3)" fill="#5565a8"/><ellipse cx="389.4" cy="484.7" rx="2.8" ry="2.2" transform="rotate(14 389.4 484.7)" fill="#7484c0"/><ellipse cx="396.4" cy="483.9" rx="3.1" ry="2.9" transform="rotate(82 396.4 483.9)" fill="#7484c0"/><ellipse cx="402.0" cy="484.5" rx="3.1" ry="2.3" transform="rotate(158 402.0 484.5)" fill="#7484c0"/><ellipse cx="407.6" cy="486.0" rx="2.4" ry="2.0" transform="rotate(124 407.6 486.0)" fill="#4a589c"/><ellipse cx="415.5" cy="484.9" rx="3.1" ry="2.6" transform="rotate(140 415.5 484.9)" fill="#4a589c"/><ellipse cx="426.4" cy="483.8" rx="3.0" ry="2.5" transform="rotate(13 426.4 483.8)" fill="#5d6db0"/><ellipse cx="354.4" cy="491.4" rx="2.7" ry="2.1" transform="rotate(172 354.4 491.4)" fill="#6272b6"/><ellipse cx="361.9" cy="489.5" rx="3.1" ry="2.7" transform="rotate(179 361.9 489.5)" fill="#6272b6"/><ellipse cx="367.3" cy="489.6" rx="2.9" ry="2.0" transform="rotate(27 367.3 489.6)" fill="#7484c0"/><ellipse cx="374.5" cy="490.7" rx="2.8" ry="2.5" transform="rotate(117 374.5 490.7)" fill="#8290c8"/><ellipse cx="381.1" cy="490.9" rx="3.0" ry="2.7" transform="rotate(60 381.1 490.9)" fill="#6c7cba"/><ellipse cx="386.6" cy="491.5" rx="2.7" ry="1.9" transform="rotate(60 386.6 491.5)" fill="#5565a8"/><ellipse cx="392.1" cy="489.7" rx="2.5" ry="1.8" transform="rotate(91 392.1 489.7)" fill="#5d6db0"/><ellipse cx="398.5" cy="490.3" rx="2.7" ry="2.1" transform="rotate(168 398.5 490.3)" fill="#6272b6"/><ellipse cx="405.9" cy="489.5" rx="2.5" ry="1.8" transform="rotate(53 405.9 489.5)" fill="#6272b6"/><ellipse cx="412.1" cy="489.6" rx="3.1" ry="2.9" transform="rotate(89 412.1 489.6)" fill="#5d6db0"/><ellipse cx="417.4" cy="490.4" rx="2.9" ry="2.6" transform="rotate(145 417.4 490.4)" fill="#6272b6"/><ellipse cx="423.4" cy="490.3" rx="2.4" ry="2.0" transform="rotate(128 423.4 490.3)" fill="#8290c8"/><ellipse cx="351.8" cy="494.4" rx="2.9" ry="2.4" transform="rotate(117 351.8 494.4)" fill="#4a589c"/><ellipse cx="365.8" cy="496.1" rx="3.0" ry="2.4" transform="rotate(86 365.8 496.1)" fill="#7484c0"/><ellipse cx="371.1" cy="495.8" rx="3.0" ry="2.4" transform="rotate(138 371.1 495.8)" fill="#7484c0"/><ellipse cx="377.5" cy="496.1" rx="2.4" ry="1.7" transform="rotate(126 377.5 496.1)" fill="#5d6db0"/><ellipse cx="382.8" cy="496.3" rx="2.4" ry="2.2" transform="rotate(121 382.8 496.3)" fill="#8290c8"/><ellipse cx="388.7" cy="494.9" rx="3.0" ry="2.4" transform="rotate(126 388.7 494.9)" fill="#5d6db0"/><ellipse cx="395.0" cy="495.3" rx="2.4" ry="1.8" transform="rotate(109 395.0 495.3)" fill="#4a589c"/><ellipse cx="401.2" cy="495.6" rx="2.7" ry="2.0" transform="rotate(82 401.2 495.6)" fill="#8290c8"/><ellipse cx="407.7" cy="494.9" rx="3.0" ry="2.4" transform="rotate(166 407.7 494.9)" fill="#5565a8"/><ellipse cx="415.8" cy="496.3" rx="2.6" ry="2.0" transform="rotate(174 415.8 496.3)" fill="#4a589c"/><ellipse cx="422.2" cy="497.0" rx="2.4" ry="2.3" transform="rotate(49 422.2 497.0)" fill="#7484c0"/><ellipse cx="427.3" cy="496.0" rx="2.9" ry="2.1" transform="rotate(143 427.3 496.0)" fill="#7484c0"/><ellipse cx="349.0" cy="500.3" rx="2.3" ry="2.0" transform="rotate(63 349.0 500.3)" fill="#8290c8"/><ellipse cx="361.7" cy="501.7" rx="2.8" ry="2.1" transform="rotate(3 361.7 501.7)" fill="#7484c0"/><ellipse cx="366.2" cy="500.8" rx="2.5" ry="2.3" transform="rotate(8 366.2 500.8)" fill="#6c7cba"/><ellipse cx="373.5" cy="501.9" rx="2.5" ry="1.7" transform="rotate(110 373.5 501.9)" fill="#6c7cba"/><ellipse cx="380.2" cy="501.9" rx="3.0" ry="2.2" transform="rotate(128 380.2 501.9)" fill="#6272b6"/><ellipse cx="385.7" cy="502.2" rx="2.7" ry="2.2" transform="rotate(13 385.7 502.2)" fill="#5565a8"/><ellipse cx="392.8" cy="501.9" rx="2.8" ry="2.5" transform="rotate(70 392.8 501.9)" fill="#8290c8"/><ellipse cx="398.2" cy="502.4" rx="2.5" ry="2.2" transform="rotate(163 398.2 502.4)" fill="#8290c8"/><ellipse cx="404.1" cy="501.4" rx="2.8" ry="1.9" transform="rotate(138 404.1 501.4)" fill="#8290c8"/><ellipse cx="411.2" cy="501.6" rx="2.9" ry="2.3" transform="rotate(126 411.2 501.6)" fill="#6272b6"/><ellipse cx="417.4" cy="500.8" rx="2.6" ry="1.8" transform="rotate(140 417.4 500.8)" fill="#6c7cba"/><ellipse cx="430.2" cy="500.7" rx="2.4" ry="2.3" transform="rotate(102 430.2 500.7)" fill="#4a589c"/><ellipse cx="345.5" cy="507.2" rx="3.1" ry="2.6" transform="rotate(110 345.5 507.2)" fill="#5565a8"/><ellipse cx="352.4" cy="506.8" rx="2.8" ry="2.5" transform="rotate(138 352.4 506.8)" fill="#6c7cba"/><ellipse cx="359.1" cy="507.1" rx="2.8" ry="2.5" transform="rotate(142 359.1 507.1)" fill="#5d6db0"/><ellipse cx="363.6" cy="506.4" rx="2.6" ry="2.2" transform="rotate(94 363.6 506.4)" fill="#6c7cba"/><ellipse cx="371.3" cy="505.8" rx="2.7" ry="2.4" transform="rotate(135 371.3 505.8)" fill="#7484c0"/><ellipse cx="383.0" cy="505.5" rx="2.8" ry="2.5" transform="rotate(128 383.0 505.5)" fill="#5565a8"/><ellipse cx="390.8" cy="506.3" rx="2.3" ry="2.0" transform="rotate(3 390.8 506.3)" fill="#5d6db0"/><ellipse cx="395.2" cy="507.1" rx="2.8" ry="2.5" transform="rotate(37 395.2 507.1)" fill="#7484c0"/><ellipse cx="402.9" cy="507.8" rx="2.3" ry="2.0" transform="rotate(61 402.9 507.8)" fill="#8290c8"/><ellipse cx="408.2" cy="505.8" rx="2.3" ry="1.6" transform="rotate(8 408.2 505.8)" fill="#5565a8"/><ellipse cx="415.4" cy="506.1" rx="2.4" ry="1.8" transform="rotate(91 415.4 506.1)" fill="#6c7cba"/><ellipse cx="428.0" cy="506.4" rx="2.7" ry="2.4" transform="rotate(33 428.0 506.4)" fill="#7484c0"/><ellipse cx="348.7" cy="513.3" rx="3.0" ry="2.4" transform="rotate(98 348.7 513.3)" fill="#4a589c"/><ellipse cx="355.2" cy="512.8" rx="2.4" ry="1.8" transform="rotate(114 355.2 512.8)" fill="#5d6db0"/><ellipse cx="362.2" cy="512.9" rx="2.6" ry="2.1" transform="rotate(80 362.2 512.9)" fill="#5d6db0"/><ellipse cx="367.3" cy="513.5" rx="2.4" ry="1.9" transform="rotate(30 367.3 513.5)" fill="#8290c8"/><ellipse cx="372.5" cy="511.6" rx="2.3" ry="2.0" transform="rotate(12 372.5 511.6)" fill="#5565a8"/><ellipse cx="380.7" cy="513.0" rx="2.7" ry="2.4" transform="rotate(30 380.7 513.0)" fill="#8290c8"/><ellipse cx="386.4" cy="511.9" rx="3.0" ry="2.3" transform="rotate(129 386.4 511.9)" fill="#6c7cba"/><ellipse cx="392.1" cy="512.5" rx="2.4" ry="1.9" transform="rotate(59 392.1 512.5)" fill="#7484c0"/><ellipse cx="397.8" cy="512.5" rx="2.9" ry="2.5" transform="rotate(4 397.8 512.5)" fill="#6272b6"/><ellipse cx="406.1" cy="511.8" rx="2.9" ry="2.5" transform="rotate(133 406.1 511.8)" fill="#4a589c"/><ellipse cx="412.7" cy="512.5" rx="3.0" ry="2.4" transform="rotate(23 412.7 512.5)" fill="#8290c8"/><ellipse cx="418.0" cy="513.6" rx="3.0" ry="2.3" transform="rotate(44 418.0 513.6)" fill="#6c7cba"/><ellipse cx="425.1" cy="513.3" rx="2.5" ry="1.9" transform="rotate(32 425.1 513.3)" fill="#8290c8"/><ellipse cx="430.3" cy="513.2" rx="3.0" ry="2.7" transform="rotate(71 430.3 513.2)" fill="#4a589c"/><ellipse cx="346.3" cy="518.1" rx="2.5" ry="1.7" transform="rotate(6 346.3 518.1)" fill="#5565a8"/><ellipse cx="352.0" cy="516.8" rx="2.9" ry="2.5" transform="rotate(176 352.0 516.8)" fill="#8290c8"/><ellipse cx="359.1" cy="516.6" rx="2.3" ry="1.7" transform="rotate(126 359.1 516.6)" fill="#6272b6"/><ellipse cx="363.1" cy="518.9" rx="2.8" ry="2.3" transform="rotate(8 363.1 518.9)" fill="#5565a8"/><ellipse cx="369.7" cy="516.6" rx="2.8" ry="2.2" transform="rotate(124 369.7 516.6)" fill="#6c7cba"/><ellipse cx="376.1" cy="516.7" rx="3.0" ry="2.5" transform="rotate(139 376.1 516.7)" fill="#8290c8"/><ellipse cx="382.1" cy="517.0" rx="2.6" ry="2.3" transform="rotate(160 382.1 517.0)" fill="#6c7cba"/><ellipse cx="397.2" cy="517.9" rx="2.7" ry="2.1" transform="rotate(106 397.2 517.9)" fill="#7484c0"/><ellipse cx="402.6" cy="519.0" rx="3.1" ry="2.3" transform="rotate(75 402.6 519.0)" fill="#6c7cba"/><ellipse cx="408.1" cy="516.5" rx="3.1" ry="2.2" transform="rotate(119 408.1 516.5)" fill="#6c7cba"/><ellipse cx="414.8" cy="516.6" rx="2.9" ry="2.3" transform="rotate(84 414.8 516.6)" fill="#5565a8"/><ellipse cx="421.1" cy="518.4" rx="2.8" ry="2.6" transform="rotate(29 421.1 518.4)" fill="#5d6db0"/><ellipse cx="427.2" cy="518.7" rx="2.6" ry="1.8" transform="rotate(124 427.2 518.7)" fill="#7484c0"/><ellipse cx="355.6" cy="522.4" rx="3.1" ry="2.9" transform="rotate(158 355.6 522.4)" fill="#4a589c"/><ellipse cx="360.0" cy="523.2" rx="2.5" ry="1.9" transform="rotate(9 360.0 523.2)" fill="#5d6db0"/><ellipse cx="366.9" cy="524.2" rx="2.8" ry="2.6" transform="rotate(15 366.9 524.2)" fill="#8290c8"/><ellipse cx="372.6" cy="523.8" rx="2.3" ry="1.9" transform="rotate(106 372.6 523.8)" fill="#6c7cba"/><ellipse cx="379.6" cy="523.5" rx="2.8" ry="2.4" transform="rotate(24 379.6 523.5)" fill="#6272b6"/><ellipse cx="387.3" cy="524.5" rx="3.1" ry="2.8" transform="rotate(16 387.3 524.5)" fill="#6272b6"/><ellipse cx="391.5" cy="522.4" rx="3.0" ry="2.6" transform="rotate(109 391.5 522.4)" fill="#7484c0"/><ellipse cx="398.9" cy="524.0" rx="2.8" ry="2.2" transform="rotate(159 398.9 524.0)" fill="#7484c0"/><ellipse cx="404.5" cy="523.8" rx="2.7" ry="1.9" transform="rotate(44 404.5 523.8)" fill="#8290c8"/><ellipse cx="416.8" cy="523.5" rx="2.7" ry="1.9" transform="rotate(7 416.8 523.5)" fill="#6272b6"/><ellipse cx="424.1" cy="523.7" rx="2.4" ry="1.6" transform="rotate(53 424.1 523.7)" fill="#6272b6"/><ellipse cx="431.6" cy="523.1" rx="2.8" ry="2.0" transform="rotate(0 431.6 523.1)" fill="#7484c0"/></g></g>
<rect x="346.5" y="463.5" width="79.5" height="59" fill="none" stroke="#111" stroke-width="1"/>
<clipPath id="m11"><rect x="428.5" y="463.5" width="79" height="59"/></clipPath>
<g clip-path="url(#m11)"><rect x="428.5" y="463.5" width="79" height="59" fill="#d8d6de"/><g filter="url(#mb)"><circle cx="493.8" cy="476.1" r="2.3" fill="#dcc28a" opacity="0.85"/><circle cx="443.8" cy="488.1" r="2.1" fill="#d4b478" opacity="0.85"/><circle cx="483.6" cy="496.5" r="1.1" fill="#dcc28a" opacity="0.85"/><circle cx="461.4" cy="486.1" r="1.2" fill="#d4b478" opacity="0.85"/><circle cx="492.2" cy="506.3" r="2.0" fill="#dcc28a" opacity="0.85"/><circle cx="492.0" cy="482.0" r="2.0" fill="#d4b478" opacity="0.85"/><circle cx="498.8" cy="490.1" r="0.9" fill="#dcc28a" opacity="0.85"/><circle cx="488.6" cy="469.9" r="1.0" fill="#dcc28a" opacity="0.85"/><ellipse cx="427.1" cy="463.6" rx="2.3" ry="2.1" transform="rotate(160 427.1 463.6)" fill="#8290c8"/><ellipse cx="433.4" cy="463.8" rx="2.2" ry="1.8" transform="rotate(138 433.4 463.8)" fill="#6c7cba"/><ellipse cx="438.8" cy="463.1" rx="2.1" ry="1.8" transform="rotate(116 438.8 463.1)" fill="#a0644a"/><ellipse cx="444.9" cy="461.1" rx="2.5" ry="2.0" transform="rotate(148 444.9 461.1)" fill="#8c5242"/><ellipse cx="448.8" cy="463.0" rx="2.3" ry="2.2" transform="rotate(54 448.8 463.0)" fill="#4a589c"/><ellipse cx="455.7" cy="463.2" rx="2.1" ry="1.7" transform="rotate(115 455.7 463.2)" fill="#6272b6"/><ellipse cx="466.3" cy="461.3" rx="2.4" ry="2.2" transform="rotate(50 466.3 461.3)" fill="#4a589c"/><ellipse cx="471.4" cy="462.4" rx="2.7" ry="2.1" transform="rotate(77 471.4 462.4)" fill="#6272b6"/><ellipse cx="475.0" cy="463.7" rx="2.0" ry="1.9" transform="rotate(70 475.0 463.7)" fill="#8290c8"/><ellipse cx="488.1" cy="462.3" rx="2.5" ry="1.8" transform="rotate(69 488.1 462.3)" fill="#5e3630"/><ellipse cx="491.5" cy="462.9" rx="2.4" ry="2.0" transform="rotate(92 491.5 462.9)" fill="#8290c8"/><ellipse cx="497.8" cy="462.2" rx="2.4" ry="2.3" transform="rotate(108 497.8 462.2)" fill="#5d6db0"/><ellipse cx="508.6" cy="462.8" rx="2.4" ry="1.7" transform="rotate(49 508.6 462.8)" fill="#6272b6"/><ellipse cx="430.7" cy="466.2" rx="2.6" ry="2.2" transform="rotate(153 430.7 466.2)" fill="#5d6db0"/><ellipse cx="436.6" cy="468.0" rx="2.6" ry="2.4" transform="rotate(70 436.6 468.0)" fill="#4a589c"/><ellipse cx="441.7" cy="467.5" rx="2.3" ry="2.1" transform="rotate(82 441.7 467.5)" fill="#5565a8"/><ellipse cx="445.2" cy="465.9" rx="2.1" ry="1.8" transform="rotate(136 445.2 465.9)" fill="#9a5c46"/><ellipse cx="452.5" cy="466.5" rx="2.3" ry="2.0" transform="rotate(3 452.5 466.5)" fill="#5d6db0"/><ellipse cx="456.4" cy="467.8" rx="2.1" ry="1.7" transform="rotate(177 456.4 467.8)" fill="#4a589c"/><ellipse cx="462.3" cy="467.7" rx="2.6" ry="2.4" transform="rotate(128 462.3 467.7)" fill="#6c7cba"/><ellipse cx="467.8" cy="467.1" rx="2.3" ry="2.1" transform="rotate(34 467.8 467.1)" fill="#8290c8"/><ellipse cx="473.4" cy="467.4" rx="2.1" ry="1.9" transform="rotate(173 473.4 467.4)" fill="#5565a8"/><ellipse cx="478.7" cy="467.1" rx="2.6" ry="2.4" transform="rotate(38 478.7 467.1)" fill="#5565a8"/><ellipse cx="484.0" cy="467.6" rx="2.2" ry="1.8" transform="rotate(1 484.0 467.6)" fill="#5d6db0"/><ellipse cx="488.9" cy="465.9" rx="2.0" ry="1.7" transform="rotate(28 488.9 465.9)" fill="#4a589c"/><ellipse cx="493.7" cy="467.1" rx="2.0" ry="1.4" transform="rotate(124 493.7 467.1)" fill="#7484c0"/><ellipse cx="501.4" cy="467.2" rx="2.2" ry="1.8" transform="rotate(77 501.4 467.2)" fill="#7484c0"/><ellipse cx="506.1" cy="466.0" rx="2.0" ry="1.5" transform="rotate(128 506.1 466.0)" fill="#7484c0"/><ellipse cx="510.7" cy="468.2" rx="2.6" ry="2.3" transform="rotate(15 510.7 468.2)" fill="#6272b6"/><ellipse cx="426.9" cy="470.7" rx="2.5" ry="2.3" transform="rotate(104 426.9 470.7)" fill="#5d6db0"/><ellipse cx="434.3" cy="471.7" rx="2.5" ry="1.9" transform="rotate(149 434.3 471.7)" fill="#5d6db0"/><ellipse cx="439.3" cy="472.3" rx="2.3" ry="1.7" transform="rotate(120 439.3 472.3)" fill="#6272b6"/><ellipse cx="442.9" cy="470.7" rx="2.4" ry="2.1" transform="rotate(78 442.9 470.7)" fill="#8c5242"/><ellipse cx="449.9" cy="471.3" rx="2.0" ry="1.7" transform="rotate(3 449.9 471.3)" fill="#5d6db0"/><ellipse cx="460.9" cy="472.0" rx="2.3" ry="1.7" transform="rotate(24 460.9 472.0)" fill="#7484c0"/><ellipse cx="470.1" cy="470.9" rx="2.4" ry="1.7" transform="rotate(86 470.1 470.9)" fill="#7484c0"/><ellipse cx="475.0" cy="472.5" rx="2.5" ry="2.3" transform="rotate(30 475.0 472.5)" fill="#8c5242"/><ellipse cx="488.3" cy="473.3" rx="2.5" ry="2.1" transform="rotate(26 488.3 473.3)" fill="#50343a"/><ellipse cx="492.2" cy="471.4" rx="2.2" ry="2.0" transform="rotate(73 492.2 471.4)" fill="#4a589c"/><ellipse cx="496.9" cy="472.6" rx="2.5" ry="2.0" transform="rotate(149 496.9 472.6)" fill="#8290c8"/><ellipse cx="504.0" cy="472.5" rx="2.5" ry="1.8" transform="rotate(165 504.0 472.5)" fill="#6272b6"/><ellipse cx="509.4" cy="473.0" rx="2.5" ry="2.2" transform="rotate(161 509.4 473.0)" fill="#6c7cba"/><ellipse cx="428.9" cy="477.4" rx="2.5" ry="1.7" transform="rotate(58 428.9 477.4)" fill="#7484c0"/><ellipse cx="435.1" cy="475.5" rx="2.1" ry="1.9" transform="rotate(104 435.1 475.5)" fill="#5d6db0"/><ellipse cx="440.7" cy="476.5" rx="2.3" ry="2.2" transform="rotate(117 440.7 476.5)" fill="#6c7cba"/><ellipse cx="446.1" cy="477.7" rx="2.4" ry="1.7" transform="rotate(58 446.1 477.7)" fill="#6c7cba"/><ellipse cx="451.4" cy="477.6" rx="2.4" ry="1.8" transform="rotate(160 451.4 477.6)" fill="#6272b6"/><ellipse cx="456.2" cy="477.0" rx="2.4" ry="1.8" transform="rotate(37 456.2 477.0)" fill="#9a5c46"/><ellipse cx="463.3" cy="475.6" rx="2.4" ry="2.2" transform="rotate(6 463.3 475.6)" fill="#6272b6"/><ellipse cx="469.3" cy="476.6" rx="2.4" ry="1.7" transform="rotate(174 469.3 476.6)" fill="#5d6db0"/><ellipse cx="474.2" cy="475.9" rx="2.1" ry="1.9" transform="rotate(26 474.2 475.9)" fill="#8290c8"/><ellipse cx="477.9" cy="477.9" rx="2.5" ry="2.3" transform="rotate(16 477.9 477.9)" fill="#6c7cba"/><ellipse cx="483.2" cy="476.5" rx="2.1" ry="1.5" transform="rotate(89 483.2 476.5)" fill="#5565a8"/><ellipse cx="490.6" cy="476.7" rx="2.1" ry="1.6" transform="rotate(93 490.6 476.7)" fill="#5565a8"/><ellipse cx="495.7" cy="477.0" rx="2.2" ry="2.0" transform="rotate(34 495.7 477.0)" fill="#5d6db0"/><ellipse cx="499.5" cy="476.9" rx="2.4" ry="1.9" transform="rotate(14 499.5 476.9)" fill="#6c7cba"/><ellipse cx="507.0" cy="476.6" rx="2.4" ry="1.7" transform="rotate(16 507.0 476.6)" fill="#8290c8"/><ellipse cx="510.6" cy="477.4" rx="2.4" ry="2.3" transform="rotate(165 510.6 477.4)" fill="#6c7cba"/><ellipse cx="428.7" cy="482.6" rx="2.5" ry="2.3" transform="rotate(70 428.7 482.6)" fill="#8290c8"/><ellipse cx="433.0" cy="480.5" rx="2.1" ry="1.6" transform="rotate(147 433.0 480.5)" fill="#6c7cba"/><ellipse cx="437.9" cy="482.9" rx="2.2" ry="1.9" transform="rotate(88 437.9 482.9)" fill="#6272b6"/><ellipse cx="448.7" cy="481.9" rx="1.9" ry="1.5" transform="rotate(55 448.7 481.9)" fill="#5d6db0"/><ellipse cx="454.7" cy="480.4" rx="2.4" ry="2.1" transform="rotate(167 454.7 480.4)" fill="#6272b6"/><ellipse cx="459.1" cy="480.4" rx="2.3" ry="1.9" transform="rotate(146 459.1 480.4)" fill="#4a589c"/><ellipse cx="466.1" cy="482.5" rx="2.2" ry="1.8" transform="rotate(0 466.1 482.5)" fill="#7484c0"/><ellipse cx="470.7" cy="480.9" rx="2.4" ry="1.7" transform="rotate(74 470.7 480.9)" fill="#4a589c"/><ellipse cx="476.9" cy="482.9" rx="2.6" ry="2.3" transform="rotate(120 476.9 482.9)" fill="#6272b6"/><ellipse cx="481.1" cy="481.3" rx="2.5" ry="1.9" transform="rotate(75 481.1 481.3)" fill="#6c7cba"/><ellipse cx="486.8" cy="482.5" rx="2.6" ry="1.9" transform="rotate(25 486.8 482.5)" fill="#5565a8"/><ellipse cx="491.5" cy="481.4" rx="2.3" ry="1.9" transform="rotate(130 491.5 481.4)" fill="#6c7cba"/><ellipse cx="496.6" cy="480.6" rx="2.7" ry="2.4" transform="rotate(138 496.6 480.6)" fill="#6c7cba"/><ellipse cx="504.5" cy="482.1" rx="2.0" ry="1.4" transform="rotate(95 504.5 482.1)" fill="#4a589c"/><ellipse cx="508.0" cy="481.3" rx="2.4" ry="2.1" transform="rotate(108 508.0 481.3)" fill="#7484c0"/><ellipse cx="435.8" cy="486.2" rx="2.1" ry="1.5" transform="rotate(115 435.8 486.2)" fill="#6272b6"/><ellipse cx="441.4" cy="486.4" rx="2.1" ry="1.6" transform="rotate(102 441.4 486.4)" fill="#5565a8"/><ellipse cx="446.1" cy="486.6" rx="2.6" ry="2.3" transform="rotate(117 446.1 486.6)" fill="#7484c0"/><ellipse cx="452.4" cy="486.1" rx="2.4" ry="1.8" transform="rotate(113 452.4 486.1)" fill="#7484c0"/><ellipse cx="463.0" cy="487.5" rx="2.5" ry="2.0" transform="rotate(64 463.0 487.5)" fill="#5565a8"/><ellipse cx="467.6" cy="485.1" rx="2.6" ry="2.2" transform="rotate(58 467.6 485.1)" fill="#6272b6"/><ellipse cx="479.1" cy="486.0" rx="2.4" ry="2.2" transform="rotate(117 479.1 486.0)" fill="#6272b6"/><ellipse cx="490.6" cy="486.3" rx="2.6" ry="2.1" transform="rotate(21 490.6 486.3)" fill="#7484c0"/><ellipse cx="494.6" cy="487.4" rx="2.0" ry="1.8" transform="rotate(112 494.6 487.4)" fill="#6272b6"/><ellipse cx="499.1" cy="486.6" rx="2.6" ry="2.5" transform="rotate(178 499.1 486.6)" fill="#5565a8"/><ellipse cx="512.1" cy="485.5" rx="2.1" ry="1.9" transform="rotate(61 512.1 485.5)" fill="#5e3630"/><ellipse cx="427.0" cy="491.5" rx="2.0" ry="1.8" transform="rotate(76 427.0 491.5)" fill="#7484c0"/><ellipse cx="431.6" cy="490.9" rx="2.5" ry="2.0" transform="rotate(88 431.6 490.9)" fill="#6c7cba"/><ellipse cx="438.1" cy="492.0" rx="2.1" ry="2.0" transform="rotate(90 438.1 492.0)" fill="#5565a8"/><ellipse cx="444.7" cy="490.6" rx="2.7" ry="2.4" transform="rotate(16 444.7 490.6)" fill="#7e4638"/><ellipse cx="447.8" cy="490.9" rx="2.2" ry="1.9" transform="rotate(27 447.8 490.9)" fill="#6c7cba"/><ellipse cx="455.7" cy="491.6" rx="2.7" ry="2.4" transform="rotate(80 455.7 491.6)" fill="#5d6db0"/><ellipse cx="460.3" cy="491.8" rx="2.7" ry="2.0" transform="rotate(33 460.3 491.8)" fill="#7484c0"/><ellipse cx="465.4" cy="492.4" rx="2.5" ry="2.3" transform="rotate(148 465.4 492.4)" fill="#6c7cba"/><ellipse cx="471.6" cy="490.0" rx="2.0" ry="1.8" transform="rotate(70 471.6 490.0)" fill="#8290c8"/><ellipse cx="475.4" cy="492.0" rx="2.2" ry="1.9" transform="rotate(147 475.4 492.0)" fill="#7484c0"/><ellipse cx="480.3" cy="491.0" rx="2.0" ry="1.6" transform="rotate(136 480.3 491.0)" fill="#50343a"/><ellipse cx="497.2" cy="491.8" rx="2.4" ry="2.0" transform="rotate(71 497.2 491.8)" fill="#8290c8"/><ellipse cx="501.7" cy="491.9" rx="2.3" ry="1.7" transform="rotate(157 501.7 491.9)" fill="#4a589c"/><ellipse cx="509.0" cy="490.6" rx="2.1" ry="1.5" transform="rotate(165 509.0 490.6)" fill="#5d6db0"/><ellipse cx="430.0" cy="495.1" rx="2.3" ry="1.7" transform="rotate(176 430.0 495.1)" fill="#a0644a"/><ellipse cx="434.7" cy="496.4" rx="2.7" ry="1.8" transform="rotate(50 434.7 496.4)" fill="#8290c8"/><ellipse cx="442.1" cy="494.8" rx="2.4" ry="1.7" transform="rotate(62 442.1 494.8)" fill="#7484c0"/><ellipse cx="446.0" cy="496.8" rx="2.1" ry="1.5" transform="rotate(48 446.0 496.8)" fill="#8290c8"/><ellipse cx="453.2" cy="496.4" rx="2.7" ry="2.0" transform="rotate(67 453.2 496.4)" fill="#6272b6"/><ellipse cx="463.7" cy="494.4" rx="2.0" ry="1.6" transform="rotate(2 463.7 494.4)" fill="#9a5c46"/><ellipse cx="468.5" cy="496.0" rx="2.3" ry="2.0" transform="rotate(144 468.5 496.0)" fill="#7e4638"/><ellipse cx="474.6" cy="495.0" rx="2.3" ry="1.6" transform="rotate(35 474.6 495.0)" fill="#7484c0"/><ellipse cx="483.0" cy="496.7" rx="2.0" ry="1.4" transform="rotate(46 483.0 496.7)" fill="#5565a8"/><ellipse cx="488.7" cy="496.3" rx="2.1" ry="1.8" transform="rotate(114 488.7 496.3)" fill="#8c5242"/><ellipse cx="495.2" cy="494.7" rx="1.9" ry="1.8" transform="rotate(141 495.2 494.7)" fill="#8290c8"/><ellipse cx="499.9" cy="494.6" rx="2.6" ry="2.4" transform="rotate(110 499.9 494.6)" fill="#5d6db0"/><ellipse cx="506.7" cy="494.6" rx="2.5" ry="1.7" transform="rotate(58 506.7 494.6)" fill="#5565a8"/><ellipse cx="511.2" cy="494.5" rx="2.6" ry="1.8" transform="rotate(13 511.2 494.5)" fill="#8290c8"/><ellipse cx="427.1" cy="501.3" rx="2.1" ry="1.5" transform="rotate(108 427.1 501.3)" fill="#4a589c"/><ellipse cx="434.3" cy="501.7" rx="2.4" ry="1.9" transform="rotate(46 434.3 501.7)" fill="#7484c0"/><ellipse cx="439.4" cy="501.0" rx="2.1" ry="1.7" transform="rotate(163 439.4 501.0)" fill="#a0644a"/><ellipse cx="449.1" cy="501.7" rx="2.1" ry="1.6" transform="rotate(149 449.1 501.7)" fill="#7484c0"/><ellipse cx="454.9" cy="499.9" rx="2.4" ry="1.7" transform="rotate(86 454.9 499.9)" fill="#5565a8"/><ellipse cx="459.8" cy="499.8" rx="2.2" ry="1.8" transform="rotate(76 459.8 499.8)" fill="#5d6db0"/><ellipse cx="466.4" cy="501.3" rx="2.7" ry="2.1" transform="rotate(149 466.4 501.3)" fill="#5565a8"/><ellipse cx="469.7" cy="499.7" rx="2.1" ry="1.9" transform="rotate(63 469.7 499.7)" fill="#7484c0"/><ellipse cx="475.3" cy="501.6" rx="2.6" ry="2.4" transform="rotate(26 475.3 501.6)" fill="#8c5242"/><ellipse cx="481.5" cy="500.0" rx="2.2" ry="1.9" transform="rotate(34 481.5 500.0)" fill="#6272b6"/><ellipse cx="487.6" cy="500.7" rx="2.5" ry="2.0" transform="rotate(131 487.6 500.7)" fill="#6272b6"/><ellipse cx="492.4" cy="500.4" rx="2.3" ry="1.6" transform="rotate(116 492.4 500.4)" fill="#6272b6"/><ellipse cx="498.2" cy="500.2" rx="2.0" ry="1.9" transform="rotate(154 498.2 500.2)" fill="#5565a8"/><ellipse cx="502.9" cy="501.2" rx="2.5" ry="1.9" transform="rotate(72 502.9 501.2)" fill="#5565a8"/><ellipse cx="509.3" cy="501.3" rx="2.7" ry="2.4" transform="rotate(34 509.3 501.3)" fill="#4a589c"/><ellipse cx="429.7" cy="504.3" rx="2.5" ry="1.9" transform="rotate(118 429.7 504.3)" fill="#5d6db0"/><ellipse cx="435.9" cy="504.8" rx="2.5" ry="1.9" transform="rotate(16 435.9 504.8)" fill="#6272b6"/><ellipse cx="442.4" cy="504.6" rx="2.0" ry="1.8" transform="rotate(40 442.4 504.6)" fill="#6272b6"/><ellipse cx="445.3" cy="505.2" rx="2.7" ry="2.4" transform="rotate(86 445.3 505.2)" fill="#6c7cba"/><ellipse cx="451.5" cy="504.0" rx="2.6" ry="2.1" transform="rotate(120 451.5 504.0)" fill="#7484c0"/><ellipse cx="457.9" cy="506.6" rx="2.4" ry="2.1" transform="rotate(37 457.9 506.6)" fill="#7484c0"/><ellipse cx="463.6" cy="506.6" rx="2.2" ry="1.6" transform="rotate(76 463.6 506.6)" fill="#5565a8"/><ellipse cx="468.1" cy="504.9" rx="2.4" ry="1.7" transform="rotate(94 468.1 504.9)" fill="#7484c0"/><ellipse cx="474.1" cy="504.1" rx="2.5" ry="2.3" transform="rotate(144 474.1 504.1)" fill="#5d6db0"/><ellipse cx="483.2" cy="504.8" rx="2.3" ry="1.8" transform="rotate(172 483.2 504.8)" fill="#7484c0"/><ellipse cx="488.7" cy="505.1" rx="2.5" ry="2.2" transform="rotate(126 488.7 505.1)" fill="#5565a8"/><ellipse cx="494.8" cy="505.7" rx="2.3" ry="1.8" transform="rotate(150 494.8 505.7)" fill="#5565a8"/><ellipse cx="500.4" cy="504.4" rx="2.3" ry="2.0" transform="rotate(134 500.4 504.4)" fill="#5565a8"/><ellipse cx="506.2" cy="506.6" rx="2.5" ry="1.9" transform="rotate(158 506.2 506.6)" fill="#7484c0"/><ellipse cx="511.1" cy="506.2" rx="2.2" ry="1.9" transform="rotate(107 511.1 506.2)" fill="#6c7cba"/><ellipse cx="426.8" cy="509.0" rx="2.6" ry="1.9" transform="rotate(59 426.8 509.0)" fill="#8290c8"/><ellipse cx="433.9" cy="511.0" rx="2.1" ry="1.9" transform="rotate(45 433.9 511.0)" fill="#6272b6"/><ellipse cx="437.0" cy="511.2" rx="2.2" ry="1.7" transform="rotate(27 437.0 511.2)" fill="#6272b6"/><ellipse cx="443.9" cy="509.8" rx="2.2" ry="2.1" transform="rotate(151 443.9 509.8)" fill="#6272b6"/><ellipse cx="449.5" cy="509.4" rx="2.4" ry="2.1" transform="rotate(106 449.5 509.4)" fill="#7484c0"/><ellipse cx="454.3" cy="510.2" rx="2.4" ry="2.0" transform="rotate(142 454.3 510.2)" fill="#4a589c"/><ellipse cx="459.3" cy="509.7" rx="2.1" ry="1.5" transform="rotate(170 459.3 509.7)" fill="#8290c8"/><ellipse cx="466.0" cy="509.1" rx="2.3" ry="1.7" transform="rotate(39 466.0 509.1)" fill="#5d6db0"/><ellipse cx="475.6" cy="511.2" rx="2.1" ry="2.0" transform="rotate(156 475.6 511.2)" fill="#5565a8"/><ellipse cx="480.1" cy="509.9" rx="2.5" ry="2.2" transform="rotate(160 480.1 509.9)" fill="#4a589c"/><ellipse cx="486.7" cy="508.8" rx="2.1" ry="1.7" transform="rotate(32 486.7 508.8)" fill="#5565a8"/><ellipse cx="493.5" cy="511.3" rx="2.2" ry="1.7" transform="rotate(124 493.5 511.3)" fill="#5e3630"/><ellipse cx="498.8" cy="511.0" rx="2.5" ry="2.1" transform="rotate(38 498.8 511.0)" fill="#4a589c"/><ellipse cx="503.7" cy="510.7" rx="2.7" ry="2.2" transform="rotate(1 503.7 510.7)" fill="#4a589c"/><ellipse cx="507.9" cy="510.5" rx="2.3" ry="2.2" transform="rotate(129 507.9 510.5)" fill="#7484c0"/><ellipse cx="430.0" cy="516.1" rx="2.1" ry="1.7" transform="rotate(148 430.0 516.1)" fill="#8290c8"/><ellipse cx="436.2" cy="515.1" rx="2.2" ry="1.7" transform="rotate(109 436.2 515.1)" fill="#9a5c46"/><ellipse cx="440.9" cy="515.4" rx="2.2" ry="1.9" transform="rotate(3 440.9 515.4)" fill="#8c5242"/><ellipse cx="447.7" cy="515.1" rx="2.3" ry="1.8" transform="rotate(45 447.7 515.1)" fill="#5d6db0"/><ellipse cx="452.4" cy="515.2" rx="2.6" ry="2.1" transform="rotate(46 452.4 515.2)" fill="#6c7cba"/><ellipse cx="457.0" cy="515.1" rx="2.5" ry="2.1" transform="rotate(177 457.0 515.1)" fill="#7484c0"/><ellipse cx="461.4" cy="514.9" rx="2.6" ry="2.4" transform="rotate(173 461.4 514.9)" fill="#4a589c"/><ellipse cx="468.9" cy="515.6" rx="2.0" ry="1.6" transform="rotate(103 468.9 515.6)" fill="#6272b6"/><ellipse cx="472.3" cy="513.6" rx="2.4" ry="1.7" transform="rotate(112 472.3 513.6)" fill="#5565a8"/><ellipse cx="480.1" cy="514.8" rx="2.0" ry="1.9" transform="rotate(162 480.1 514.8)" fill="#6272b6"/><ellipse cx="489.7" cy="513.7" rx="2.6" ry="2.1" transform="rotate(135 489.7 513.7)" fill="#6c7cba"/><ellipse cx="496.2" cy="513.7" rx="2.5" ry="2.3" transform="rotate(178 496.2 513.7)" fill="#a0644a"/><ellipse cx="501.4" cy="515.3" rx="2.1" ry="1.4" transform="rotate(8 501.4 515.3)" fill="#6c7cba"/><ellipse cx="426.3" cy="519.0" rx="2.7" ry="2.1" transform="rotate(48 426.3 519.0)" fill="#7484c0"/><ellipse cx="431.6" cy="518.6" rx="2.1" ry="1.7" transform="rotate(169 431.6 518.6)" fill="#8290c8"/><ellipse cx="439.4" cy="519.7" rx="2.5" ry="2.3" transform="rotate(136 439.4 519.7)" fill="#8290c8"/><ellipse cx="443.2" cy="519.0" rx="2.2" ry="1.9" transform="rotate(115 443.2 519.0)" fill="#5565a8"/><ellipse cx="449.3" cy="519.3" rx="2.4" ry="1.7" transform="rotate(129 449.3 519.3)" fill="#5d6db0"/><ellipse cx="454.4" cy="520.3" rx="2.5" ry="1.8" transform="rotate(59 454.4 520.3)" fill="#9a5c46"/><ellipse cx="460.3" cy="520.3" rx="2.5" ry="2.1" transform="rotate(122 460.3 520.3)" fill="#5565a8"/><ellipse cx="466.5" cy="518.2" rx="2.5" ry="1.8" transform="rotate(147 466.5 518.2)" fill="#6272b6"/><ellipse cx="469.5" cy="520.2" rx="2.5" ry="1.8" transform="rotate(46 469.5 520.2)" fill="#5d6db0"/><ellipse cx="480.3" cy="518.5" rx="2.0" ry="1.6" transform="rotate(55 480.3 518.5)" fill="#6272b6"/><ellipse cx="485.7" cy="519.5" rx="2.2" ry="1.7" transform="rotate(175 485.7 519.5)" fill="#a0644a"/><ellipse cx="491.3" cy="518.7" rx="2.2" ry="2.0" transform="rotate(131 491.3 518.7)" fill="#7484c0"/><ellipse cx="498.8" cy="520.6" rx="2.2" ry="1.8" transform="rotate(74 498.8 520.6)" fill="#6c7cba"/><ellipse cx="509.3" cy="519.3" rx="2.1" ry="1.5" transform="rotate(48 509.3 519.3)" fill="#5d6db0"/><ellipse cx="434.9" cy="524.7" rx="2.6" ry="2.5" transform="rotate(110 434.9 524.7)" fill="#8290c8"/><ellipse cx="441.5" cy="525.1" rx="2.2" ry="1.7" transform="rotate(120 441.5 525.1)" fill="#5565a8"/><ellipse cx="445.3" cy="523.8" rx="2.6" ry="2.2" transform="rotate(94 445.3 523.8)" fill="#6c7cba"/><ellipse cx="456.9" cy="525.7" rx="2.7" ry="2.4" transform="rotate(174 456.9 525.7)" fill="#8290c8"/><ellipse cx="462.3" cy="524.0" rx="2.5" ry="2.0" transform="rotate(116 462.3 524.0)" fill="#6272b6"/><ellipse cx="466.7" cy="525.2" rx="2.6" ry="2.0" transform="rotate(38 466.7 525.2)" fill="#5565a8"/><ellipse cx="473.2" cy="524.7" rx="2.1" ry="1.8" transform="rotate(18 473.2 524.7)" fill="#5565a8"/><ellipse cx="479.1" cy="523.6" rx="2.2" ry="2.0" transform="rotate(149 479.1 523.6)" fill="#4a589c"/><ellipse cx="484.5" cy="523.7" rx="2.4" ry="1.7" transform="rotate(126 484.5 523.7)" fill="#5d6db0"/><ellipse cx="488.7" cy="524.2" rx="2.5" ry="1.9" transform="rotate(113 488.7 524.2)" fill="#6272b6"/><ellipse cx="494.5" cy="523.7" rx="2.0" ry="1.6" transform="rotate(24 494.5 523.7)" fill="#9a5c46"/><ellipse cx="500.2" cy="525.5" rx="2.4" ry="2.0" transform="rotate(39 500.2 525.5)" fill="#7484c0"/><ellipse cx="504.5" cy="523.9" rx="2.3" ry="1.8" transform="rotate(145 504.5 523.9)" fill="#50343a"/><ellipse cx="510.2" cy="524.4" rx="2.4" ry="1.8" transform="rotate(6 510.2 524.4)" fill="#5d6db0"/></g></g>
<rect x="428.5" y="463.5" width="79" height="59" fill="none" stroke="#111" stroke-width="1"/>
<clipPath id="m20"><rect x="346.5" y="527.5" width="79.5" height="60"/></clipPath>
<g clip-path="url(#m20)"><rect x="346.5" y="527.5" width="79.5" height="60" fill="#dadbe4"/><g filter="url(#mb)"><circle cx="387.4" cy="538.8" r="2.3" fill="#dcc28a" opacity="0.85"/><circle cx="353.8" cy="575.1" r="1.2" fill="#b89058" opacity="0.85"/><circle cx="404.0" cy="550.0" r="1.1" fill="#c8a468" opacity="0.85"/><circle cx="402.6" cy="546.5" r="1.0" fill="#b89058" opacity="0.85"/><circle cx="369.7" cy="538.9" r="2.3" fill="#c8a468" opacity="0.85"/><circle cx="380.3" cy="585.0" r="1.1" fill="#c8a468" opacity="0.85"/><circle cx="354.0" cy="579.5" r="1.5" fill="#dcc28a" opacity="0.85"/><circle cx="377.9" cy="581.3" r="1.8" fill="#dcc28a" opacity="0.85"/><circle cx="413.3" cy="585.0" r="2.1" fill="#dcc28a" opacity="0.85"/><circle cx="353.5" cy="529.3" r="1.4" fill="#b89058" opacity="0.85"/><circle cx="404.0" cy="570.3" r="1.1" fill="#dcc28a" opacity="0.85"/><circle cx="380.0" cy="562.1" r="1.6" fill="#b89058" opacity="0.85"/><circle cx="374.2" cy="553.1" r="1.2" fill="#dcc28a" opacity="0.85"/><circle cx="368.5" cy="579.5" r="1.6" fill="#c8a468" opacity="0.85"/><circle cx="418.1" cy="560.7" r="1.7" fill="#d4b478" opacity="0.85"/><circle cx="373.2" cy="586.6" r="2.0" fill="#b89058" opacity="0.85"/><circle cx="358.8" cy="578.3" r="2.3" fill="#c8a468" opacity="0.85"/><circle cx="347.0" cy="547.7" r="1.8" fill="#d4b478" opacity="0.85"/><circle cx="357.1" cy="566.2" r="0.9" fill="#d4b478" opacity="0.85"/><circle cx="418.2" cy="586.0" r="1.5" fill="#c8a468" opacity="0.85"/><circle cx="393.7" cy="539.4" r="1.7" fill="#b89058" opacity="0.85"/><circle cx="364.2" cy="577.2" r="1.1" fill="#d4b478" opacity="0.85"/><ellipse cx="344.6" cy="527.2" rx="2.8" ry="2.2" transform="rotate(121 344.6 527.2)" fill="#7484c0"/><ellipse cx="351.7" cy="527.0" rx="2.5" ry="1.7" transform="rotate(101 351.7 527.0)" fill="#8290c8"/><ellipse cx="358.8" cy="527.1" rx="2.7" ry="1.9" transform="rotate(77 358.8 527.1)" fill="#4a589c"/><ellipse cx="365.1" cy="527.3" rx="2.4" ry="1.8" transform="rotate(32 365.1 527.3)" fill="#5d6db0"/><ellipse cx="369.8" cy="527.1" rx="2.3" ry="1.7" transform="rotate(136 369.8 527.1)" fill="#7484c0"/><ellipse cx="377.6" cy="527.2" rx="3.0" ry="2.2" transform="rotate(91 377.6 527.2)" fill="#6c7cba"/><ellipse cx="382.1" cy="525.5" rx="2.8" ry="2.1" transform="rotate(126 382.1 525.5)" fill="#8290c8"/><ellipse cx="389.0" cy="526.2" rx="2.7" ry="2.2" transform="rotate(54 389.0 526.2)" fill="#7484c0"/><ellipse cx="395.4" cy="526.0" rx="3.0" ry="2.2" transform="rotate(71 395.4 526.0)" fill="#4a589c"/><ellipse cx="401.7" cy="526.3" rx="3.0" ry="2.1" transform="rotate(143 401.7 526.3)" fill="#5565a8"/><ellipse cx="408.6" cy="525.1" rx="2.7" ry="2.6" transform="rotate(177 408.6 525.1)" fill="#5d6db0"/><ellipse cx="415.7" cy="525.5" rx="3.0" ry="2.1" transform="rotate(175 415.7 525.5)" fill="#6272b6"/><ellipse cx="420.4" cy="526.5" rx="2.6" ry="2.0" transform="rotate(170 420.4 526.5)" fill="#4a589c"/><ellipse cx="428.7" cy="526.2" rx="3.1" ry="2.2" transform="rotate(18 428.7 526.2)" fill="#4a589c"/><ellipse cx="347.4" cy="531.4" rx="2.9" ry="2.0" transform="rotate(177 347.4 531.4)" fill="#8290c8"/><ellipse cx="354.2" cy="532.2" rx="2.3" ry="1.6" transform="rotate(73 354.2 532.2)" fill="#6272b6"/><ellipse cx="361.0" cy="532.8" rx="2.9" ry="2.6" transform="rotate(53 361.0 532.8)" fill="#6272b6"/><ellipse cx="368.9" cy="532.1" rx="2.8" ry="2.5" transform="rotate(93 368.9 532.1)" fill="#7484c0"/><ellipse cx="380.8" cy="533.3" rx="2.8" ry="2.0" transform="rotate(98 380.8 533.3)" fill="#5565a8"/><ellipse cx="386.4" cy="532.6" rx="3.1" ry="2.7" transform="rotate(179 386.4 532.6)" fill="#6c7cba"/><ellipse cx="393.5" cy="532.5" rx="2.4" ry="2.0" transform="rotate(142 393.5 532.5)" fill="#8290c8"/><ellipse cx="399.5" cy="530.9" rx="3.0" ry="2.8" transform="rotate(53 399.5 530.9)" fill="#6272b6"/><ellipse cx="411.3" cy="531.9" rx="2.7" ry="2.0" transform="rotate(95 411.3 531.9)" fill="#8290c8"/><ellipse cx="416.9" cy="532.9" rx="2.4" ry="2.0" transform="rotate(114 416.9 532.9)" fill="#4a589c"/><ellipse cx="424.8" cy="532.0" rx="2.4" ry="1.8" transform="rotate(105 424.8 532.0)" fill="#6272b6"/><ellipse cx="429.8" cy="533.4" rx="2.4" ry="1.8" transform="rotate(16 429.8 533.4)" fill="#8290c8"/><ellipse cx="344.6" cy="537.7" rx="3.1" ry="2.5" transform="rotate(27 344.6 537.7)" fill="#5565a8"/><ellipse cx="352.4" cy="537.5" rx="2.7" ry="2.1" transform="rotate(113 352.4 537.5)" fill="#6272b6"/><ellipse cx="358.2" cy="537.1" rx="3.1" ry="2.8" transform="rotate(74 358.2 537.1)" fill="#5565a8"/><ellipse cx="363.9" cy="537.8" rx="2.3" ry="1.7" transform="rotate(143 363.9 537.8)" fill="#5d6db0"/><ellipse cx="371.3" cy="538.7" rx="3.1" ry="2.8" transform="rotate(27 371.3 538.7)" fill="#5d6db0"/><ellipse cx="376.6" cy="537.2" rx="2.4" ry="1.8" transform="rotate(110 376.6 537.2)" fill="#5d6db0"/><ellipse cx="382.5" cy="538.1" rx="2.6" ry="2.2" transform="rotate(22 382.5 538.1)" fill="#6272b6"/><ellipse cx="389.4" cy="538.9" rx="2.4" ry="1.8" transform="rotate(116 389.4 538.9)" fill="#4a589c"/><ellipse cx="396.7" cy="538.6" rx="2.8" ry="2.6" transform="rotate(15 396.7 538.6)" fill="#6272b6"/><ellipse cx="401.8" cy="538.4" rx="2.6" ry="2.2" transform="rotate(51 401.8 538.4)" fill="#4a589c"/><ellipse cx="407.4" cy="538.2" rx="2.5" ry="2.3" transform="rotate(128 407.4 538.2)" fill="#5d6db0"/><ellipse cx="420.5" cy="537.3" rx="3.1" ry="2.6" transform="rotate(136 420.5 537.3)" fill="#8290c8"/><ellipse cx="428.8" cy="536.4" rx="2.5" ry="1.8" transform="rotate(137 428.8 536.4)" fill="#5d6db0"/><ellipse cx="347.4" cy="543.3" rx="2.7" ry="2.6" transform="rotate(140 347.4 543.3)" fill="#5565a8"/><ellipse cx="354.7" cy="544.1" rx="3.1" ry="2.4" transform="rotate(41 354.7 544.1)" fill="#8290c8"/><ellipse cx="360.4" cy="542.7" rx="3.1" ry="2.1" transform="rotate(152 360.4 542.7)" fill="#4a589c"/><ellipse cx="368.4" cy="544.5" rx="2.9" ry="2.3" transform="rotate(122 368.4 544.5)" fill="#6272b6"/><ellipse cx="373.2" cy="544.4" rx="3.0" ry="2.1" transform="rotate(14 373.2 544.4)" fill="#6272b6"/><ellipse cx="386.9" cy="541.7" rx="2.9" ry="2.0" transform="rotate(57 386.9 541.7)" fill="#6272b6"/><ellipse cx="394.1" cy="542.1" rx="2.9" ry="2.0" transform="rotate(172 394.1 542.1)" fill="#7484c0"/><ellipse cx="398.9" cy="542.8" rx="2.3" ry="1.6" transform="rotate(29 398.9 542.8)" fill="#5565a8"/><ellipse cx="404.9" cy="544.4" rx="2.6" ry="2.0" transform="rotate(11 404.9 544.4)" fill="#7484c0"/><ellipse cx="411.1" cy="542.3" rx="2.4" ry="1.9" transform="rotate(153 411.1 542.3)" fill="#5565a8"/><ellipse cx="416.7" cy="542.0" rx="2.4" ry="1.7" transform="rotate(179 416.7 542.0)" fill="#6272b6"/><ellipse cx="425.6" cy="542.0" rx="2.7" ry="2.2" transform="rotate(75 425.6 542.0)" fill="#6272b6"/><ellipse cx="345.0" cy="547.5" rx="2.3" ry="1.9" transform="rotate(157 345.0 547.5)" fill="#8290c8"/><ellipse cx="353.1" cy="548.8" rx="3.0" ry="2.2" transform="rotate(53 353.1 548.8)" fill="#5565a8"/><ellipse cx="357.2" cy="547.7" rx="2.5" ry="2.2" transform="rotate(44 357.2 547.7)" fill="#6c7cba"/><ellipse cx="364.8" cy="548.2" rx="3.0" ry="2.5" transform="rotate(5 364.8 548.2)" fill="#7484c0"/><ellipse cx="372.0" cy="547.8" rx="2.4" ry="1.7" transform="rotate(178 372.0 547.8)" fill="#8290c8"/><ellipse cx="376.0" cy="547.7" rx="2.4" ry="1.9" transform="rotate(106 376.0 547.7)" fill="#4a589c"/><ellipse cx="383.5" cy="549.2" rx="2.7" ry="2.2" transform="rotate(163 383.5 549.2)" fill="#5d6db0"/><ellipse cx="389.3" cy="549.1" rx="2.3" ry="1.6" transform="rotate(135 389.3 549.1)" fill="#6c7cba"/><ellipse cx="394.5" cy="550.0" rx="2.4" ry="1.6" transform="rotate(127 394.5 550.0)" fill="#8290c8"/><ellipse cx="401.4" cy="549.6" rx="2.7" ry="2.5" transform="rotate(131 401.4 549.6)" fill="#6c7cba"/><ellipse cx="416.0" cy="549.3" rx="2.5" ry="1.8" transform="rotate(137 416.0 549.3)" fill="#8290c8"/><ellipse cx="348.7" cy="554.7" rx="2.5" ry="2.3" transform="rotate(80 348.7 554.7)" fill="#5d6db0"/><ellipse cx="353.7" cy="555.2" rx="2.8" ry="2.6" transform="rotate(42 353.7 555.2)" fill="#5565a8"/><ellipse cx="359.9" cy="554.7" rx="2.8" ry="1.9" transform="rotate(86 359.9 554.7)" fill="#5565a8"/><ellipse cx="367.3" cy="552.9" rx="2.7" ry="2.3" transform="rotate(131 367.3 552.9)" fill="#4a589c"/><ellipse cx="375.1" cy="553.3" rx="3.1" ry="2.4" transform="rotate(94 375.1 553.3)" fill="#6c7cba"/><ellipse cx="386.3" cy="554.1" rx="2.8" ry="2.1" transform="rotate(82 386.3 554.1)" fill="#4a589c"/><ellipse cx="398.9" cy="554.0" rx="3.0" ry="2.2" transform="rotate(125 398.9 554.0)" fill="#4a589c"/><ellipse cx="411.7" cy="554.8" rx="2.3" ry="1.9" transform="rotate(170 411.7 554.8)" fill="#4a589c"/><ellipse cx="418.5" cy="552.9" rx="2.3" ry="1.8" transform="rotate(5 418.5 552.9)" fill="#5565a8"/><ellipse cx="423.4" cy="554.8" rx="2.8" ry="2.4" transform="rotate(69 423.4 554.8)" fill="#6272b6"/><ellipse cx="429.9" cy="553.3" rx="2.4" ry="2.2" transform="rotate(82 429.9 553.3)" fill="#5d6db0"/><ellipse cx="345.6" cy="559.8" rx="2.5" ry="2.0" transform="rotate(160 345.6 559.8)" fill="#4a589c"/><ellipse cx="352.1" cy="560.8" rx="2.4" ry="1.8" transform="rotate(174 352.1 560.8)" fill="#8290c8"/><ellipse cx="357.8" cy="558.8" rx="3.1" ry="2.8" transform="rotate(124 357.8 558.8)" fill="#5565a8"/><ellipse cx="365.7" cy="558.4" rx="2.6" ry="2.1" transform="rotate(70 365.7 558.4)" fill="#8290c8"/><ellipse cx="371.1" cy="559.6" rx="2.5" ry="1.9" transform="rotate(116 371.1 559.6)" fill="#7484c0"/><ellipse cx="378.3" cy="559.5" rx="2.3" ry="2.1" transform="rotate(73 378.3 559.5)" fill="#6c7cba"/><ellipse cx="382.1" cy="558.4" rx="2.8" ry="2.5" transform="rotate(78 382.1 558.4)" fill="#8290c8"/><ellipse cx="389.1" cy="560.6" rx="2.8" ry="2.5" transform="rotate(178 389.1 560.6)" fill="#6c7cba"/><ellipse cx="394.6" cy="560.5" rx="2.3" ry="1.8" transform="rotate(41 394.6 560.5)" fill="#7484c0"/><ellipse cx="402.0" cy="559.1" rx="3.1" ry="2.2" transform="rotate(96 402.0 559.1)" fill="#6c7cba"/><ellipse cx="409.6" cy="559.6" rx="2.8" ry="2.6" transform="rotate(171 409.6 559.6)" fill="#4a589c"/><ellipse cx="414.6" cy="558.8" rx="2.5" ry="1.8" transform="rotate(93 414.6 558.8)" fill="#6c7cba"/><ellipse cx="421.0" cy="560.5" rx="2.3" ry="2.0" transform="rotate(92 421.0 560.5)" fill="#6272b6"/><ellipse cx="426.3" cy="560.0" rx="2.3" ry="2.0" transform="rotate(55 426.3 560.0)" fill="#6272b6"/><ellipse cx="347.4" cy="565.9" rx="2.6" ry="2.3" transform="rotate(86 347.4 565.9)" fill="#7484c0"/><ellipse cx="355.5" cy="565.5" rx="3.0" ry="2.1" transform="rotate(0 355.5 565.5)" fill="#4a589c"/><ellipse cx="362.1" cy="564.9" rx="2.8" ry="2.2" transform="rotate(6 362.1 564.9)" fill="#4a589c"/><ellipse cx="367.7" cy="565.4" rx="2.8" ry="2.1" transform="rotate(158 367.7 565.4)" fill="#7484c0"/><ellipse cx="374.6" cy="566.3" rx="2.3" ry="1.7" transform="rotate(94 374.6 566.3)" fill="#7484c0"/><ellipse cx="379.6" cy="566.6" rx="3.1" ry="2.4" transform="rotate(84 379.6 566.6)" fill="#6c7cba"/><ellipse cx="386.6" cy="564.1" rx="2.5" ry="1.8" transform="rotate(143 386.6 564.1)" fill="#4a589c"/><ellipse cx="398.2" cy="564.7" rx="2.3" ry="2.1" transform="rotate(3 398.2 564.7)" fill="#8290c8"/><ellipse cx="406.1" cy="564.0" rx="2.4" ry="1.7" transform="rotate(14 406.1 564.0)" fill="#5d6db0"/><ellipse cx="411.0" cy="564.0" rx="2.6" ry="2.3" transform="rotate(103 411.0 564.0)" fill="#5565a8"/><ellipse cx="418.4" cy="566.5" rx="2.6" ry="2.2" transform="rotate(77 418.4 566.5)" fill="#6272b6"/><ellipse cx="423.9" cy="565.2" rx="2.6" ry="2.4" transform="rotate(19 423.9 565.2)" fill="#7484c0"/><ellipse cx="431.8" cy="564.0" rx="2.7" ry="1.9" transform="rotate(121 431.8 564.0)" fill="#7484c0"/><ellipse cx="352.2" cy="569.8" rx="2.7" ry="2.0" transform="rotate(148 352.2 569.8)" fill="#6272b6"/><ellipse cx="357.9" cy="570.6" rx="2.5" ry="2.2" transform="rotate(153 357.9 570.6)" fill="#6272b6"/><ellipse cx="372.1" cy="571.8" rx="3.1" ry="2.8" transform="rotate(82 372.1 571.8)" fill="#4a589c"/><ellipse cx="377.9" cy="571.2" rx="2.8" ry="2.5" transform="rotate(152 377.9 571.2)" fill="#5565a8"/><ellipse cx="383.6" cy="571.6" rx="2.6" ry="2.0" transform="rotate(13 383.6 571.6)" fill="#5d6db0"/><ellipse cx="391.0" cy="569.5" rx="3.1" ry="2.5" transform="rotate(176 391.0 569.5)" fill="#7484c0"/><ellipse cx="394.6" cy="569.8" rx="3.1" ry="2.4" transform="rotate(159 394.6 569.8)" fill="#6c7cba"/><ellipse cx="403.1" cy="569.7" rx="2.9" ry="2.2" transform="rotate(153 403.1 569.7)" fill="#5565a8"/><ellipse cx="407.5" cy="570.0" rx="2.5" ry="2.4" transform="rotate(143 407.5 570.0)" fill="#4a589c"/><ellipse cx="413.6" cy="572.2" rx="2.6" ry="2.1" transform="rotate(38 413.6 572.2)" fill="#6272b6"/><ellipse cx="420.1" cy="570.9" rx="2.8" ry="1.9" transform="rotate(55 420.1 570.9)" fill="#5565a8"/><ellipse cx="426.4" cy="570.5" rx="3.1" ry="2.7" transform="rotate(38 426.4 570.5)" fill="#5d6db0"/><ellipse cx="349.3" cy="577.6" rx="3.1" ry="2.2" transform="rotate(104 349.3 577.6)" fill="#7484c0"/><ellipse cx="355.8" cy="577.5" rx="2.7" ry="2.5" transform="rotate(20 355.8 577.5)" fill="#8290c8"/><ellipse cx="366.2" cy="575.5" rx="2.6" ry="2.3" transform="rotate(38 366.2 575.5)" fill="#6272b6"/><ellipse cx="374.5" cy="577.2" rx="2.4" ry="2.1" transform="rotate(67 374.5 577.2)" fill="#5d6db0"/><ellipse cx="380.6" cy="575.0" rx="2.8" ry="2.5" transform="rotate(81 380.6 575.0)" fill="#4a589c"/><ellipse cx="386.2" cy="575.8" rx="3.0" ry="2.5" transform="rotate(147 386.2 575.8)" fill="#7484c0"/><ellipse cx="391.4" cy="575.6" rx="2.6" ry="2.3" transform="rotate(76 391.4 575.6)" fill="#5565a8"/><ellipse cx="398.6" cy="575.4" rx="3.1" ry="2.4" transform="rotate(98 398.6 575.4)" fill="#5565a8"/><ellipse cx="406.0" cy="577.6" rx="2.7" ry="2.2" transform="rotate(136 406.0 577.6)" fill="#6c7cba"/><ellipse cx="410.9" cy="576.8" rx="2.7" ry="2.0" transform="rotate(134 410.9 576.8)" fill="#6c7cba"/><ellipse cx="417.6" cy="576.7" rx="2.5" ry="2.1" transform="rotate(126 417.6 576.7)" fill="#5565a8"/><ellipse cx="344.6" cy="581.2" rx="3.1" ry="2.6" transform="rotate(43 344.6 581.2)" fill="#7484c0"/><ellipse cx="350.6" cy="581.4" rx="3.1" ry="2.1" transform="rotate(120 350.6 581.4)" fill="#7484c0"/><ellipse cx="365.8" cy="581.3" rx="2.5" ry="1.9" transform="rotate(21 365.8 581.3)" fill="#4a589c"/><ellipse cx="371.8" cy="581.6" rx="2.7" ry="1.9" transform="rotate(8 371.8 581.6)" fill="#6c7cba"/><ellipse cx="376.9" cy="580.8" rx="2.3" ry="1.9" transform="rotate(22 376.9 580.8)" fill="#4a589c"/><ellipse cx="382.0" cy="580.9" rx="2.8" ry="2.3" transform="rotate(71 382.0 580.9)" fill="#4a589c"/><ellipse cx="388.3" cy="583.1" rx="3.0" ry="2.2" transform="rotate(2 388.3 583.1)" fill="#5d6db0"/><ellipse cx="395.3" cy="580.9" rx="2.4" ry="2.2" transform="rotate(100 395.3 580.9)" fill="#8290c8"/><ellipse cx="403.0" cy="581.8" rx="2.5" ry="1.7" transform="rotate(53 403.0 581.8)" fill="#7484c0"/><ellipse cx="409.0" cy="581.7" rx="2.5" ry="2.2" transform="rotate(5 409.0 581.7)" fill="#4a589c"/><ellipse cx="414.0" cy="581.7" rx="2.8" ry="2.0" transform="rotate(115 414.0 581.7)" fill="#4a589c"/><ellipse cx="420.2" cy="581.5" rx="3.1" ry="2.4" transform="rotate(109 420.2 581.5)" fill="#6c7cba"/><ellipse cx="348.9" cy="586.3" rx="2.5" ry="1.9" transform="rotate(166 348.9 586.3)" fill="#5d6db0"/><ellipse cx="356.1" cy="587.2" rx="2.7" ry="2.3" transform="rotate(15 356.1 587.2)" fill="#6c7cba"/><ellipse cx="360.7" cy="586.6" rx="2.5" ry="1.8" transform="rotate(17 360.7 586.6)" fill="#6c7cba"/><ellipse cx="368.5" cy="586.5" rx="2.4" ry="2.1" transform="rotate(140 368.5 586.5)" fill="#4a589c"/><ellipse cx="373.2" cy="587.9" rx="2.6" ry="1.8" transform="rotate(172 373.2 587.9)" fill="#8290c8"/><ellipse cx="379.1" cy="587.2" rx="2.5" ry="2.1" transform="rotate(128 379.1 587.2)" fill="#4a589c"/><ellipse cx="385.2" cy="587.1" rx="3.0" ry="2.4" transform="rotate(61 385.2 587.1)" fill="#5d6db0"/><ellipse cx="393.4" cy="587.3" rx="3.1" ry="2.2" transform="rotate(156 393.4 587.3)" fill="#6c7cba"/><ellipse cx="398.4" cy="586.5" rx="2.6" ry="2.0" transform="rotate(178 398.4 586.5)" fill="#4a589c"/><ellipse cx="404.1" cy="588.1" rx="2.4" ry="2.1" transform="rotate(138 404.1 588.1)" fill="#6272b6"/><ellipse cx="410.6" cy="586.4" rx="2.9" ry="2.3" transform="rotate(111 410.6 586.4)" fill="#6272b6"/><ellipse cx="418.9" cy="587.8" rx="2.7" ry="1.9" transform="rotate(158 418.9 587.8)" fill="#7484c0"/><ellipse cx="425.3" cy="587.2" rx="2.5" ry="2.2" transform="rotate(73 425.3 587.2)" fill="#5d6db0"/><ellipse cx="431.4" cy="587.1" rx="2.3" ry="2.1" transform="rotate(53 431.4 587.1)" fill="#6272b6"/></g></g>
<rect x="346.5" y="527.5" width="79.5" height="60" fill="none" stroke="#111" stroke-width="1"/>
<clipPath id="m21"><rect x="428.5" y="527.5" width="79" height="60"/></clipPath>
<g clip-path="url(#m21)"><rect x="428.5" y="527.5" width="79" height="60" fill="#d8dae4"/><g filter="url(#mb)"><circle cx="435.4" cy="562.5" r="1.4" fill="#d4b478" opacity="0.85"/><circle cx="477.0" cy="558.9" r="2.3" fill="#b89058" opacity="0.85"/><circle cx="443.1" cy="565.7" r="0.9" fill="#dcc28a" opacity="0.85"/><circle cx="492.1" cy="529.0" r="1.5" fill="#b89058" opacity="0.85"/><ellipse cx="426.7" cy="526.1" rx="2.4" ry="1.7" transform="rotate(109 426.7 526.1)" fill="#4a589c"/><ellipse cx="432.2" cy="526.0" rx="2.3" ry="1.7" transform="rotate(95 432.2 526.0)" fill="#5565a8"/><ellipse cx="439.8" cy="525.1" rx="2.1" ry="1.9" transform="rotate(109 439.8 525.1)" fill="#5e3630"/><ellipse cx="444.4" cy="525.7" rx="2.6" ry="2.3" transform="rotate(96 444.4 525.7)" fill="#a0644a"/><ellipse cx="451.1" cy="526.8" rx="2.1" ry="1.4" transform="rotate(52 451.1 526.8)" fill="#5d6db0"/><ellipse cx="454.2" cy="527.5" rx="2.6" ry="2.0" transform="rotate(87 454.2 527.5)" fill="#6272b6"/><ellipse cx="461.3" cy="527.3" rx="2.3" ry="1.9" transform="rotate(97 461.3 527.3)" fill="#8290c8"/><ellipse cx="467.5" cy="526.1" rx="2.6" ry="2.2" transform="rotate(38 467.5 526.1)" fill="#8290c8"/><ellipse cx="472.0" cy="525.4" rx="2.5" ry="2.3" transform="rotate(144 472.0 525.4)" fill="#5d6db0"/><ellipse cx="477.8" cy="526.4" rx="2.7" ry="2.3" transform="rotate(148 477.8 526.4)" fill="#7484c0"/><ellipse cx="482.7" cy="527.6" rx="2.5" ry="1.8" transform="rotate(97 482.7 527.6)" fill="#8290c8"/><ellipse cx="489.9" cy="525.1" rx="2.6" ry="2.5" transform="rotate(68 489.9 525.1)" fill="#5d6db0"/><ellipse cx="506.5" cy="525.5" rx="2.5" ry="2.2" transform="rotate(72 506.5 525.5)" fill="#4a589c"/><ellipse cx="512.1" cy="525.1" rx="2.5" ry="2.1" transform="rotate(16 512.1 525.1)" fill="#5565a8"/><ellipse cx="429.0" cy="531.3" rx="2.1" ry="1.9" transform="rotate(53 429.0 531.3)" fill="#8290c8"/><ellipse cx="434.8" cy="530.4" rx="2.7" ry="2.0" transform="rotate(177 434.8 530.4)" fill="#5d6db0"/><ellipse cx="441.2" cy="530.4" rx="2.1" ry="1.6" transform="rotate(99 441.2 530.4)" fill="#5565a8"/><ellipse cx="446.4" cy="531.9" rx="2.7" ry="1.9" transform="rotate(1 446.4 531.9)" fill="#4a589c"/><ellipse cx="453.4" cy="530.7" rx="2.4" ry="1.7" transform="rotate(136 453.4 530.7)" fill="#6c7cba"/><ellipse cx="459.2" cy="532.0" rx="2.7" ry="1.9" transform="rotate(77 459.2 532.0)" fill="#5d6db0"/><ellipse cx="463.6" cy="531.7" rx="2.1" ry="2.0" transform="rotate(121 463.6 531.7)" fill="#8290c8"/><ellipse cx="474.6" cy="532.7" rx="2.2" ry="1.6" transform="rotate(20 474.6 532.7)" fill="#4a589c"/><ellipse cx="481.0" cy="532.6" rx="2.6" ry="2.3" transform="rotate(48 481.0 532.6)" fill="#6272b6"/><ellipse cx="485.4" cy="532.2" rx="2.4" ry="2.1" transform="rotate(27 485.4 532.2)" fill="#8290c8"/><ellipse cx="492.3" cy="531.0" rx="2.4" ry="2.0" transform="rotate(168 492.3 531.0)" fill="#4a589c"/><ellipse cx="496.4" cy="530.6" rx="2.7" ry="2.1" transform="rotate(13 496.4 530.6)" fill="#a0644a"/><ellipse cx="502.3" cy="530.2" rx="2.6" ry="2.1" transform="rotate(129 502.3 530.2)" fill="#7484c0"/><ellipse cx="509.6" cy="532.1" rx="2.2" ry="1.6" transform="rotate(0 509.6 532.1)" fill="#8290c8"/><ellipse cx="514.8" cy="531.5" rx="2.7" ry="2.0" transform="rotate(120 514.8 531.5)" fill="#5565a8"/><ellipse cx="427.3" cy="536.3" rx="2.2" ry="1.5" transform="rotate(139 427.3 536.3)" fill="#a0644a"/><ellipse cx="434.5" cy="536.9" rx="2.7" ry="2.4" transform="rotate(44 434.5 536.9)" fill="#6272b6"/><ellipse cx="444.8" cy="537.3" rx="2.4" ry="2.2" transform="rotate(79 444.8 537.3)" fill="#5565a8"/><ellipse cx="448.6" cy="537.2" rx="2.4" ry="2.2" transform="rotate(60 448.6 537.2)" fill="#6272b6"/><ellipse cx="455.4" cy="536.6" rx="2.1" ry="1.9" transform="rotate(1 455.4 536.6)" fill="#6272b6"/><ellipse cx="461.2" cy="537.5" rx="2.3" ry="2.2" transform="rotate(84 461.2 537.5)" fill="#7484c0"/><ellipse cx="465.8" cy="535.2" rx="2.5" ry="1.9" transform="rotate(107 465.8 535.2)" fill="#8290c8"/><ellipse cx="470.9" cy="537.1" rx="2.0" ry="1.9" transform="rotate(39 470.9 537.1)" fill="#5d6db0"/><ellipse cx="476.5" cy="535.8" rx="2.1" ry="1.9" transform="rotate(9 476.5 535.8)" fill="#6c7cba"/><ellipse cx="483.4" cy="536.0" rx="2.2" ry="2.0" transform="rotate(103 483.4 536.0)" fill="#4a589c"/><ellipse cx="490.1" cy="537.2" rx="2.6" ry="2.3" transform="rotate(147 490.1 537.2)" fill="#7484c0"/><ellipse cx="495.2" cy="535.0" rx="2.8" ry="2.6" transform="rotate(60 495.2 535.0)" fill="#7484c0"/><ellipse cx="501.1" cy="536.9" rx="2.7" ry="2.4" transform="rotate(80 501.1 536.9)" fill="#4a589c"/><ellipse cx="505.2" cy="536.8" rx="2.7" ry="2.2" transform="rotate(39 505.2 536.8)" fill="#6272b6"/><ellipse cx="510.9" cy="535.8" rx="2.1" ry="1.6" transform="rotate(39 510.9 535.8)" fill="#5d6db0"/><ellipse cx="431.3" cy="541.9" rx="2.0" ry="1.8" transform="rotate(150 431.3 541.9)" fill="#a0644a"/><ellipse cx="441.7" cy="541.7" rx="2.0" ry="1.5" transform="rotate(140 441.7 541.7)" fill="#6c7cba"/><ellipse cx="451.7" cy="540.0" rx="2.5" ry="1.8" transform="rotate(23 451.7 540.0)" fill="#8290c8"/><ellipse cx="457.7" cy="540.3" rx="2.3" ry="1.6" transform="rotate(12 457.7 540.3)" fill="#5565a8"/><ellipse cx="470.7" cy="541.3" rx="2.7" ry="2.2" transform="rotate(71 470.7 541.3)" fill="#7484c0"/><ellipse cx="475.4" cy="541.4" rx="2.7" ry="2.5" transform="rotate(60 475.4 541.4)" fill="#7484c0"/><ellipse cx="481.2" cy="540.5" rx="2.7" ry="2.2" transform="rotate(85 481.2 540.5)" fill="#6c7cba"/><ellipse cx="486.0" cy="540.4" rx="2.6" ry="1.8" transform="rotate(45 486.0 540.4)" fill="#6c7cba"/><ellipse cx="492.7" cy="540.2" rx="2.5" ry="2.1" transform="rotate(16 492.7 540.2)" fill="#6272b6"/><ellipse cx="498.1" cy="541.5" rx="2.1" ry="1.7" transform="rotate(20 498.1 541.5)" fill="#6c7cba"/><ellipse cx="504.4" cy="540.5" rx="2.3" ry="1.8" transform="rotate(87 504.4 540.5)" fill="#8290c8"/><ellipse cx="508.7" cy="542.4" rx="2.4" ry="1.9" transform="rotate(16 508.7 542.4)" fill="#5d6db0"/><ellipse cx="515.6" cy="541.6" rx="2.1" ry="2.0" transform="rotate(164 515.6 541.6)" fill="#8290c8"/><ellipse cx="427.4" cy="546.8" rx="2.8" ry="2.3" transform="rotate(95 427.4 546.8)" fill="#6c7cba"/><ellipse cx="433.2" cy="545.4" rx="2.2" ry="2.1" transform="rotate(164 433.2 545.4)" fill="#5d6db0"/><ellipse cx="438.5" cy="547.0" rx="2.4" ry="1.9" transform="rotate(177 438.5 547.0)" fill="#5d6db0"/><ellipse cx="444.5" cy="546.1" rx="2.3" ry="1.9" transform="rotate(113 444.5 546.1)" fill="#6272b6"/><ellipse cx="449.6" cy="545.0" rx="2.6" ry="2.3" transform="rotate(170 449.6 545.0)" fill="#5565a8"/><ellipse cx="455.2" cy="545.9" rx="2.2" ry="1.9" transform="rotate(32 455.2 545.9)" fill="#7484c0"/><ellipse cx="460.9" cy="545.9" rx="2.7" ry="2.5" transform="rotate(14 460.9 545.9)" fill="#7484c0"/><ellipse cx="466.3" cy="546.1" rx="2.5" ry="1.8" transform="rotate(28 466.3 546.1)" fill="#8290c8"/><ellipse cx="473.2" cy="545.1" rx="2.1" ry="1.5" transform="rotate(138 473.2 545.1)" fill="#7484c0"/><ellipse cx="478.6" cy="547.5" rx="2.7" ry="2.0" transform="rotate(27 478.6 547.5)" fill="#4a589c"/><ellipse cx="484.2" cy="546.2" rx="2.5" ry="2.0" transform="rotate(140 484.2 546.2)" fill="#5d6db0"/><ellipse cx="489.2" cy="545.2" rx="2.7" ry="2.1" transform="rotate(83 489.2 545.2)" fill="#6c7cba"/><ellipse cx="494.1" cy="545.3" rx="2.5" ry="1.8" transform="rotate(107 494.1 545.3)" fill="#8290c8"/><ellipse cx="499.8" cy="547.1" rx="2.4" ry="2.1" transform="rotate(18 499.8 547.1)" fill="#6272b6"/><ellipse cx="506.5" cy="547.6" rx="2.4" ry="2.0" transform="rotate(46 506.5 547.6)" fill="#4a589c"/><ellipse cx="512.2" cy="547.6" rx="2.2" ry="1.6" transform="rotate(151 512.2 547.6)" fill="#6c7cba"/><ellipse cx="429.7" cy="550.2" rx="2.4" ry="2.0" transform="rotate(112 429.7 550.2)" fill="#7484c0"/><ellipse cx="451.6" cy="550.4" rx="2.7" ry="2.4" transform="rotate(115 451.6 550.4)" fill="#7484c0"/><ellipse cx="457.6" cy="550.4" rx="2.0" ry="1.4" transform="rotate(68 457.6 550.4)" fill="#6c7cba"/><ellipse cx="463.0" cy="549.9" rx="2.6" ry="2.3" transform="rotate(139 463.0 549.9)" fill="#7484c0"/><ellipse cx="476.0" cy="551.5" rx="2.1" ry="1.5" transform="rotate(159 476.0 551.5)" fill="#8290c8"/><ellipse cx="481.1" cy="552.3" rx="2.5" ry="2.1" transform="rotate(3 481.1 552.3)" fill="#4a589c"/><ellipse cx="487.3" cy="550.4" rx="2.4" ry="2.0" transform="rotate(134 487.3 550.4)" fill="#6c7cba"/><ellipse cx="498.9" cy="552.5" rx="2.3" ry="1.7" transform="rotate(47 498.9 552.5)" fill="#7484c0"/><ellipse cx="504.2" cy="551.3" rx="2.5" ry="2.1" transform="rotate(46 504.2 551.3)" fill="#6c7cba"/><ellipse cx="514.9" cy="552.1" rx="2.6" ry="1.9" transform="rotate(179 514.9 552.1)" fill="#5d6db0"/><ellipse cx="428.8" cy="556.9" rx="2.7" ry="2.0" transform="rotate(36 428.8 556.9)" fill="#5d6db0"/><ellipse cx="437.8" cy="556.8" rx="2.4" ry="2.1" transform="rotate(31 437.8 556.8)" fill="#5565a8"/><ellipse cx="444.4" cy="556.1" rx="2.7" ry="2.5" transform="rotate(120 444.4 556.1)" fill="#7484c0"/><ellipse cx="449.7" cy="555.4" rx="2.7" ry="2.2" transform="rotate(62 449.7 555.4)" fill="#5e3630"/><ellipse cx="454.2" cy="557.0" rx="2.5" ry="1.7" transform="rotate(94 454.2 557.0)" fill="#5d6db0"/><ellipse cx="461.1" cy="555.1" rx="2.2" ry="2.1" transform="rotate(67 461.1 555.1)" fill="#5565a8"/><ellipse cx="466.5" cy="556.4" rx="2.6" ry="2.3" transform="rotate(156 466.5 556.4)" fill="#6272b6"/><ellipse cx="471.3" cy="557.2" rx="2.1" ry="1.5" transform="rotate(10 471.3 557.2)" fill="#5d6db0"/><ellipse cx="483.6" cy="555.2" rx="2.5" ry="2.3" transform="rotate(99 483.6 555.2)" fill="#8290c8"/><ellipse cx="489.6" cy="556.8" rx="2.3" ry="1.8" transform="rotate(73 489.6 556.8)" fill="#4a589c"/><ellipse cx="495.8" cy="555.6" rx="2.3" ry="1.8" transform="rotate(37 495.8 555.6)" fill="#6c7cba"/><ellipse cx="499.5" cy="556.1" rx="2.3" ry="1.6" transform="rotate(102 499.5 556.1)" fill="#8c5242"/><ellipse cx="506.1" cy="555.7" rx="2.3" ry="1.8" transform="rotate(0 506.1 555.7)" fill="#6272b6"/><ellipse cx="429.5" cy="560.7" rx="2.0" ry="1.9" transform="rotate(64 429.5 560.7)" fill="#8290c8"/><ellipse cx="448.1" cy="561.2" rx="2.1" ry="1.8" transform="rotate(135 448.1 561.2)" fill="#4a589c"/><ellipse cx="454.0" cy="559.9" rx="2.4" ry="1.9" transform="rotate(140 454.0 559.9)" fill="#6272b6"/><ellipse cx="463.8" cy="559.7" rx="2.2" ry="1.8" transform="rotate(68 463.8 559.7)" fill="#5565a8"/><ellipse cx="469.4" cy="561.5" rx="2.7" ry="1.9" transform="rotate(149 469.4 561.5)" fill="#7484c0"/><ellipse cx="481.5" cy="559.9" rx="2.7" ry="2.1" transform="rotate(86 481.5 559.9)" fill="#7484c0"/><ellipse cx="491.4" cy="562.4" rx="2.8" ry="2.5" transform="rotate(36 491.4 562.4)" fill="#5d6db0"/><ellipse cx="496.7" cy="562.3" rx="2.5" ry="2.3" transform="rotate(57 496.7 562.3)" fill="#5565a8"/><ellipse cx="501.9" cy="560.7" rx="2.6" ry="2.4" transform="rotate(106 501.9 560.7)" fill="#6272b6"/><ellipse cx="515.1" cy="559.9" rx="2.6" ry="2.1" transform="rotate(42 515.1 559.9)" fill="#6c7cba"/><ellipse cx="428.6" cy="565.0" rx="2.1" ry="1.7" transform="rotate(115 428.6 565.0)" fill="#7484c0"/><ellipse cx="432.8" cy="566.4" rx="2.1" ry="1.8" transform="rotate(34 432.8 566.4)" fill="#7484c0"/><ellipse cx="437.7" cy="565.0" rx="2.2" ry="2.0" transform="rotate(147 437.7 565.0)" fill="#6272b6"/><ellipse cx="449.8" cy="565.2" rx="2.7" ry="1.8" transform="rotate(12 449.8 565.2)" fill="#5565a8"/><ellipse cx="454.4" cy="567.0" rx="2.5" ry="1.7" transform="rotate(9 454.4 567.0)" fill="#5d6db0"/><ellipse cx="459.9" cy="565.8" rx="2.8" ry="2.2" transform="rotate(143 459.9 565.8)" fill="#7484c0"/><ellipse cx="465.8" cy="566.9" rx="2.3" ry="2.0" transform="rotate(168 465.8 566.9)" fill="#8290c8"/><ellipse cx="473.6" cy="565.7" rx="2.8" ry="2.1" transform="rotate(154 473.6 565.7)" fill="#5565a8"/><ellipse cx="477.5" cy="566.1" rx="2.4" ry="2.2" transform="rotate(25 477.5 566.1)" fill="#7e4638"/><ellipse cx="483.2" cy="565.0" rx="2.6" ry="2.0" transform="rotate(137 483.2 565.0)" fill="#8290c8"/><ellipse cx="488.5" cy="566.7" rx="2.3" ry="2.0" transform="rotate(53 488.5 566.7)" fill="#5565a8"/><ellipse cx="494.3" cy="567.2" rx="2.6" ry="1.8" transform="rotate(35 494.3 567.2)" fill="#6c7cba"/><ellipse cx="499.1" cy="565.4" rx="2.5" ry="2.2" transform="rotate(7 499.1 565.4)" fill="#7484c0"/><ellipse cx="504.9" cy="565.0" rx="2.4" ry="2.0" transform="rotate(113 504.9 565.0)" fill="#6272b6"/><ellipse cx="429.7" cy="570.2" rx="2.1" ry="1.5" transform="rotate(101 429.7 570.2)" fill="#6c7cba"/><ellipse cx="436.5" cy="571.6" rx="2.3" ry="1.7" transform="rotate(107 436.5 571.6)" fill="#6272b6"/><ellipse cx="442.5" cy="570.9" rx="2.5" ry="2.3" transform="rotate(152 442.5 570.9)" fill="#7484c0"/><ellipse cx="447.9" cy="570.9" rx="2.3" ry="2.1" transform="rotate(87 447.9 570.9)" fill="#6272b6"/><ellipse cx="453.8" cy="571.4" rx="2.1" ry="1.9" transform="rotate(13 453.8 571.4)" fill="#5565a8"/><ellipse cx="457.1" cy="570.9" rx="2.5" ry="2.3" transform="rotate(155 457.1 570.9)" fill="#5565a8"/><ellipse cx="464.4" cy="570.4" rx="2.2" ry="1.8" transform="rotate(6 464.4 570.4)" fill="#5565a8"/><ellipse cx="470.8" cy="570.5" rx="2.7" ry="2.1" transform="rotate(152 470.8 570.5)" fill="#7484c0"/><ellipse cx="476.0" cy="571.5" rx="2.1" ry="1.9" transform="rotate(29 476.0 571.5)" fill="#5565a8"/><ellipse cx="479.5" cy="569.7" rx="2.2" ry="1.9" transform="rotate(42 479.5 569.7)" fill="#4a589c"/><ellipse cx="485.4" cy="571.5" rx="2.5" ry="2.3" transform="rotate(103 485.4 571.5)" fill="#5d6db0"/><ellipse cx="492.4" cy="571.7" rx="2.6" ry="2.5" transform="rotate(165 492.4 571.7)" fill="#6272b6"/><ellipse cx="498.3" cy="569.5" rx="2.6" ry="2.3" transform="rotate(40 498.3 569.5)" fill="#6272b6"/><ellipse cx="501.8" cy="570.8" rx="2.1" ry="1.7" transform="rotate(81 501.8 570.8)" fill="#8290c8"/><ellipse cx="509.3" cy="570.1" rx="2.6" ry="2.1" transform="rotate(105 509.3 570.1)" fill="#6c7cba"/><ellipse cx="513.2" cy="571.2" rx="2.3" ry="1.9" transform="rotate(43 513.2 571.2)" fill="#6c7cba"/><ellipse cx="433.8" cy="574.8" rx="2.2" ry="1.9" transform="rotate(55 433.8 574.8)" fill="#7484c0"/><ellipse cx="439.2" cy="576.9" rx="2.6" ry="2.4" transform="rotate(27 439.2 576.9)" fill="#7484c0"/><ellipse cx="443.0" cy="577.0" rx="2.5" ry="1.8" transform="rotate(79 443.0 577.0)" fill="#7484c0"/><ellipse cx="449.3" cy="576.1" rx="2.3" ry="2.1" transform="rotate(79 449.3 576.1)" fill="#5565a8"/><ellipse cx="455.0" cy="576.2" rx="2.0" ry="1.8" transform="rotate(173 455.0 576.2)" fill="#5565a8"/><ellipse cx="460.8" cy="575.8" rx="2.3" ry="2.1" transform="rotate(46 460.8 575.8)" fill="#5d6db0"/><ellipse cx="465.7" cy="576.5" rx="2.0" ry="1.8" transform="rotate(71 465.7 576.5)" fill="#8290c8"/><ellipse cx="471.1" cy="574.9" rx="2.2" ry="2.0" transform="rotate(168 471.1 574.9)" fill="#5565a8"/><ellipse cx="478.4" cy="575.5" rx="2.6" ry="1.9" transform="rotate(128 478.4 575.5)" fill="#6c7cba"/><ellipse cx="490.3" cy="575.7" rx="2.1" ry="1.7" transform="rotate(169 490.3 575.7)" fill="#6272b6"/><ellipse cx="495.8" cy="575.1" rx="2.3" ry="1.9" transform="rotate(2 495.8 575.1)" fill="#5e3630"/><ellipse cx="501.1" cy="575.1" rx="2.1" ry="1.9" transform="rotate(77 501.1 575.1)" fill="#4a589c"/><ellipse cx="511.2" cy="575.3" rx="2.8" ry="2.4" transform="rotate(47 511.2 575.3)" fill="#5565a8"/><ellipse cx="429.3" cy="581.9" rx="2.3" ry="2.1" transform="rotate(158 429.3 581.9)" fill="#7484c0"/><ellipse cx="434.7" cy="581.9" rx="2.2" ry="1.7" transform="rotate(0 434.7 581.9)" fill="#6c7cba"/><ellipse cx="440.7" cy="581.4" rx="2.5" ry="2.4" transform="rotate(30 440.7 581.4)" fill="#5d6db0"/><ellipse cx="446.0" cy="579.4" rx="2.3" ry="1.9" transform="rotate(1 446.0 579.4)" fill="#8290c8"/><ellipse cx="452.3" cy="581.1" rx="2.6" ry="2.1" transform="rotate(27 452.3 581.1)" fill="#4a589c"/><ellipse cx="457.1" cy="579.6" rx="2.1" ry="1.5" transform="rotate(79 457.1 579.6)" fill="#6272b6"/><ellipse cx="462.6" cy="581.5" rx="2.1" ry="1.5" transform="rotate(89 462.6 581.5)" fill="#8290c8"/><ellipse cx="469.7" cy="579.5" rx="2.2" ry="1.9" transform="rotate(94 469.7 579.5)" fill="#7484c0"/><ellipse cx="476.5" cy="579.5" rx="2.2" ry="1.8" transform="rotate(83 476.5 579.5)" fill="#7484c0"/><ellipse cx="481.8" cy="580.9" rx="2.7" ry="1.9" transform="rotate(8 481.8 580.9)" fill="#5e3630"/><ellipse cx="486.3" cy="581.1" rx="2.2" ry="2.0" transform="rotate(62 486.3 581.1)" fill="#5d6db0"/><ellipse cx="492.6" cy="580.2" rx="2.5" ry="1.9" transform="rotate(163 492.6 580.2)" fill="#7484c0"/><ellipse cx="496.6" cy="580.7" rx="2.5" ry="1.8" transform="rotate(74 496.6 580.7)" fill="#5565a8"/><ellipse cx="503.0" cy="581.0" rx="2.1" ry="1.9" transform="rotate(82 503.0 581.0)" fill="#8290c8"/><ellipse cx="509.3" cy="581.9" rx="2.5" ry="2.4" transform="rotate(89 509.3 581.9)" fill="#4a589c"/><ellipse cx="514.4" cy="579.7" rx="2.1" ry="1.8" transform="rotate(111 514.4 579.7)" fill="#6c7cba"/><ellipse cx="426.3" cy="586.6" rx="2.8" ry="2.2" transform="rotate(55 426.3 586.6)" fill="#5d6db0"/><ellipse cx="445.3" cy="586.2" rx="2.3" ry="1.6" transform="rotate(10 445.3 586.2)" fill="#6272b6"/><ellipse cx="449.6" cy="586.1" rx="2.4" ry="1.9" transform="rotate(172 449.6 586.1)" fill="#5565a8"/><ellipse cx="456.3" cy="585.1" rx="2.7" ry="2.2" transform="rotate(12 456.3 585.1)" fill="#7484c0"/><ellipse cx="461.6" cy="584.8" rx="2.3" ry="1.9" transform="rotate(136 461.6 584.8)" fill="#4a589c"/><ellipse cx="467.1" cy="584.5" rx="2.4" ry="2.0" transform="rotate(97 467.1 584.5)" fill="#8290c8"/><ellipse cx="471.9" cy="584.6" rx="2.7" ry="2.4" transform="rotate(43 471.9 584.6)" fill="#6c7cba"/><ellipse cx="478.4" cy="585.5" rx="2.4" ry="2.0" transform="rotate(118 478.4 585.5)" fill="#5565a8"/><ellipse cx="483.2" cy="584.3" rx="2.6" ry="2.0" transform="rotate(94 483.2 584.3)" fill="#50343a"/><ellipse cx="488.0" cy="586.2" rx="2.4" ry="1.7" transform="rotate(113 488.0 586.2)" fill="#6c7cba"/><ellipse cx="494.4" cy="585.9" rx="2.2" ry="1.9" transform="rotate(81 494.4 585.9)" fill="#4a589c"/><ellipse cx="501.0" cy="586.6" rx="2.5" ry="2.2" transform="rotate(59 501.0 586.6)" fill="#8290c8"/><ellipse cx="506.5" cy="584.4" rx="2.3" ry="1.8" transform="rotate(36 506.5 584.4)" fill="#7484c0"/><ellipse cx="511.7" cy="586.5" rx="2.5" ry="2.2" transform="rotate(172 511.7 586.5)" fill="#7484c0"/><ellipse cx="431.0" cy="589.9" rx="2.5" ry="1.7" transform="rotate(16 431.0 589.9)" fill="#4a589c"/><ellipse cx="435.6" cy="589.2" rx="2.8" ry="2.5" transform="rotate(35 435.6 589.2)" fill="#6272b6"/><ellipse cx="442.8" cy="589.8" rx="2.6" ry="1.8" transform="rotate(177 442.8 589.8)" fill="#7484c0"/><ellipse cx="446.1" cy="590.3" rx="2.0" ry="1.8" transform="rotate(50 446.1 590.3)" fill="#5d6db0"/><ellipse cx="457.6" cy="591.3" rx="2.5" ry="2.3" transform="rotate(133 457.6 591.3)" fill="#a0644a"/><ellipse cx="463.4" cy="591.4" rx="2.2" ry="2.0" transform="rotate(125 463.4 591.4)" fill="#8290c8"/><ellipse cx="469.7" cy="591.7" rx="2.6" ry="2.4" transform="rotate(38 469.7 591.7)" fill="#8290c8"/><ellipse cx="474.6" cy="590.1" rx="2.3" ry="1.7" transform="rotate(112 474.6 590.1)" fill="#4a589c"/><ellipse cx="479.3" cy="590.5" rx="2.5" ry="1.8" transform="rotate(163 479.3 590.5)" fill="#50343a"/><ellipse cx="485.4" cy="590.5" rx="2.3" ry="2.1" transform="rotate(52 485.4 590.5)" fill="#6c7cba"/><ellipse cx="492.0" cy="590.3" rx="2.6" ry="2.4" transform="rotate(67 492.0 590.3)" fill="#5d6db0"/><ellipse cx="504.1" cy="591.3" rx="2.7" ry="2.5" transform="rotate(28 504.1 591.3)" fill="#5d6db0"/><ellipse cx="510.0" cy="590.8" rx="2.5" ry="2.4" transform="rotate(98 510.0 590.8)" fill="#8290c8"/><ellipse cx="514.2" cy="590.0" rx="2.5" ry="2.3" transform="rotate(74 514.2 590.0)" fill="#5d6db0"/></g></g>
<rect x="428.5" y="527.5" width="79" height="60" fill="none" stroke="#111" stroke-width="1"/>
</svg>
</body></html>
